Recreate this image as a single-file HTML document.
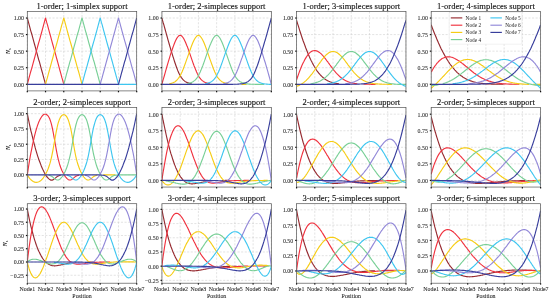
<!DOCTYPE html>
<html><head><meta charset="utf-8"><style>html,body{margin:0;padding:0;background:#fff;overflow:hidden}svg{display:block}</style></head>
<body><svg width="550" height="302" viewBox="0 0 550 302">
<style>text{font-family:"Liberation Serif","Times New Roman",serif;stroke:currentColor;paint-order:stroke} .ti{stroke-width:0.12px;fill:#111;color:#111} .tk{stroke-width:0.06px;fill:#222;color:#222;font-size:5.9px} .lg{stroke-width:0.0px;fill:#222;color:#222;font-size:5.3px}</style>
<rect width="550" height="302" fill="#fff"/>
<clipPath id="c00"><rect x="27.30" y="11.40" width="109.40" height="79.50"/></clipPath>
<line x1="27.30" y1="11.40" x2="27.30" y2="90.90" stroke="#cccccc" stroke-width="0.55" stroke-dasharray="2.1,1.5"/>
<line x1="45.53" y1="11.40" x2="45.53" y2="90.90" stroke="#cccccc" stroke-width="0.55" stroke-dasharray="2.1,1.5"/>
<line x1="63.77" y1="11.40" x2="63.77" y2="90.90" stroke="#cccccc" stroke-width="0.55" stroke-dasharray="2.1,1.5"/>
<line x1="82.00" y1="11.40" x2="82.00" y2="90.90" stroke="#cccccc" stroke-width="0.55" stroke-dasharray="2.1,1.5"/>
<line x1="100.23" y1="11.40" x2="100.23" y2="90.90" stroke="#cccccc" stroke-width="0.55" stroke-dasharray="2.1,1.5"/>
<line x1="118.47" y1="11.40" x2="118.47" y2="90.90" stroke="#cccccc" stroke-width="0.55" stroke-dasharray="2.1,1.5"/>
<line x1="136.70" y1="11.40" x2="136.70" y2="90.90" stroke="#cccccc" stroke-width="0.55" stroke-dasharray="2.1,1.5"/>
<line x1="27.30" y1="84.28" x2="136.70" y2="84.28" stroke="#cccccc" stroke-width="0.55" stroke-dasharray="2.1,1.5"/>
<line x1="27.30" y1="67.71" x2="136.70" y2="67.71" stroke="#cccccc" stroke-width="0.55" stroke-dasharray="2.1,1.5"/>
<line x1="27.30" y1="51.15" x2="136.70" y2="51.15" stroke="#cccccc" stroke-width="0.55" stroke-dasharray="2.1,1.5"/>
<line x1="27.30" y1="34.59" x2="136.70" y2="34.59" stroke="#cccccc" stroke-width="0.55" stroke-dasharray="2.1,1.5"/>
<line x1="27.30" y1="18.03" x2="136.70" y2="18.03" stroke="#cccccc" stroke-width="0.55" stroke-dasharray="2.1,1.5"/>
<g clip-path="url(#c00)" fill="none" stroke-width="1.15" stroke-linejoin="round">
<polyline points="27.3,18.0 27.9,20.2 28.5,22.4 29.1,24.6 29.7,26.9 30.3,29.1 30.9,31.3 31.6,33.5 32.2,35.7 32.8,37.9 33.4,40.1 34.0,42.3 34.6,44.5 35.2,46.7 35.8,48.9 36.4,51.1 37.0,53.4 37.6,55.6 38.2,57.8 38.8,60.0 39.5,62.2 40.1,64.4 40.7,66.6 41.3,68.8 41.9,71.0 42.5,73.2 43.1,75.4 43.7,77.7 44.3,79.9 44.9,82.1 45.5,84.3" stroke="#962a30"/>
<polyline points="27.3,84.3 27.9,82.1 28.5,79.9 29.1,77.7 29.7,75.4 30.3,73.2 30.9,71.0 31.6,68.8 32.2,66.6 32.8,64.4 33.4,62.2 34.0,60.0 34.6,57.8 35.2,55.6 35.8,53.4 36.4,51.1 37.0,48.9 37.6,46.7 38.2,44.5 38.8,42.3 39.5,40.1 40.1,37.9 40.7,35.7 41.3,33.5 41.9,31.3 42.5,29.1 43.1,26.9 43.7,24.6 44.3,22.4 44.9,20.2 45.5,18.0 46.1,20.2 46.7,22.4 47.4,24.6 48.0,26.9 48.6,29.1 49.2,31.3 49.8,33.5 50.4,35.7 51.0,37.9 51.6,40.1 52.2,42.3 52.8,44.5 53.4,46.7 54.0,48.9 54.7,51.1 55.3,53.4 55.9,55.6 56.5,57.8 57.1,60.0 57.7,62.2 58.3,64.4 58.9,66.6 59.5,68.8 60.1,71.0 60.7,73.2 61.3,75.4 61.9,77.7 62.6,79.9 63.2,82.1 63.8,84.3" stroke="#f0323f"/>
<polyline points="45.5,84.3 46.1,82.1 46.7,79.9 47.4,77.7 48.0,75.4 48.6,73.2 49.2,71.0 49.8,68.8 50.4,66.6 51.0,64.4 51.6,62.2 52.2,60.0 52.8,57.8 53.4,55.6 54.0,53.4 54.7,51.1 55.3,48.9 55.9,46.7 56.5,44.5 57.1,42.3 57.7,40.1 58.3,37.9 58.9,35.7 59.5,33.5 60.1,31.3 60.7,29.1 61.3,26.9 61.9,24.6 62.6,22.4 63.2,20.2 63.8,18.0 64.4,20.2 65.0,22.4 65.6,24.6 66.2,26.9 66.8,29.1 67.4,31.3 68.0,33.5 68.6,35.7 69.2,37.9 69.8,40.1 70.5,42.3 71.1,44.5 71.7,46.7 72.3,48.9 72.9,51.1 73.5,53.4 74.1,55.6 74.7,57.8 75.3,60.0 75.9,62.2 76.5,64.4 77.1,66.6 77.7,68.8 78.4,71.0 79.0,73.2 79.6,75.4 80.2,77.7 80.8,79.9 81.4,82.1 82.0,84.3" stroke="#f6cc14"/>
<polyline points="63.8,84.3 64.4,82.1 65.0,79.9 65.6,77.7 66.2,75.4 66.8,73.2 67.4,71.0 68.0,68.8 68.6,66.6 69.2,64.4 69.8,62.2 70.5,60.0 71.1,57.8 71.7,55.6 72.3,53.4 72.9,51.1 73.5,48.9 74.1,46.7 74.7,44.5 75.3,42.3 75.9,40.1 76.5,37.9 77.1,35.7 77.7,33.5 78.4,31.3 79.0,29.1 79.6,26.9 80.2,24.6 80.8,22.4 81.4,20.2 82.0,18.0 82.6,20.2 83.2,22.4 83.8,24.6 84.4,26.9 85.0,29.1 85.6,31.3 86.3,33.5 86.9,35.7 87.5,37.9 88.1,40.1 88.7,42.3 89.3,44.5 89.9,46.7 90.5,48.9 91.1,51.1 91.7,53.4 92.3,55.6 92.9,57.8 93.5,60.0 94.2,62.2 94.8,64.4 95.4,66.6 96.0,68.8 96.6,71.0 97.2,73.2 97.8,75.4 98.4,77.7 99.0,79.9 99.6,82.1 100.2,84.3" stroke="#78cf96"/>
<polyline points="82.0,84.3 82.6,82.1 83.2,79.9 83.8,77.7 84.4,75.4 85.0,73.2 85.6,71.0 86.3,68.8 86.9,66.6 87.5,64.4 88.1,62.2 88.7,60.0 89.3,57.8 89.9,55.6 90.5,53.4 91.1,51.1 91.7,48.9 92.3,46.7 92.9,44.5 93.5,42.3 94.2,40.1 94.8,37.9 95.4,35.7 96.0,33.5 96.6,31.3 97.2,29.1 97.8,26.9 98.4,24.6 99.0,22.4 99.6,20.2 100.2,18.0 100.8,20.2 101.4,22.4 102.1,24.6 102.7,26.9 103.3,29.1 103.9,31.3 104.5,33.5 105.1,35.7 105.7,37.9 106.3,40.1 106.9,42.3 107.5,44.5 108.1,46.7 108.7,48.9 109.4,51.1 110.0,53.4 110.6,55.6 111.2,57.8 111.8,60.0 112.4,62.2 113.0,64.4 113.6,66.6 114.2,68.8 114.8,71.0 115.4,73.2 116.0,75.4 116.6,77.7 117.3,79.9 117.9,82.1 118.5,84.3 119.1,84.3 119.7,84.3 120.3,84.3 120.9,84.3 121.5,84.3 122.1,84.3 122.7,84.3 123.3,84.3 123.9,84.3 124.5,84.3 125.2,84.3 125.8,84.3 126.4,84.3 127.0,84.3 127.6,84.3 128.2,84.3 128.8,84.3 129.4,84.3 130.0,84.3 130.6,84.3 131.2,84.3 131.8,84.3 132.4,84.3 133.1,84.3 133.7,84.3 134.3,84.3 134.9,84.3 135.5,84.3 136.1,84.3 136.7,84.3" stroke="#3ec6f0"/>
<polyline points="100.2,84.3 100.8,82.1 101.4,79.9 102.1,77.7 102.7,75.4 103.3,73.2 103.9,71.0 104.5,68.8 105.1,66.6 105.7,64.4 106.3,62.2 106.9,60.0 107.5,57.8 108.1,55.6 108.7,53.4 109.4,51.1 110.0,48.9 110.6,46.7 111.2,44.5 111.8,42.3 112.4,40.1 113.0,37.9 113.6,35.7 114.2,33.5 114.8,31.3 115.4,29.1 116.0,26.9 116.6,24.6 117.3,22.4 117.9,20.2 118.5,18.0 119.1,20.2 119.7,22.4 120.3,24.6 120.9,26.9 121.5,29.1 122.1,31.3 122.7,33.5 123.3,35.7 123.9,37.9 124.5,40.1 125.2,42.3 125.8,44.5 126.4,46.7 127.0,48.9 127.6,51.1 128.2,53.4 128.8,55.6 129.4,57.8 130.0,60.0 130.6,62.2 131.2,64.4 131.8,66.6 132.4,68.8 133.1,71.0 133.7,73.2 134.3,75.4 134.9,77.7 135.5,79.9 136.1,82.1 136.7,84.3" stroke="#9288d8"/>
<polyline points="27.3,84.3 27.9,84.3 28.5,84.3 29.1,84.3 29.7,84.3 30.3,84.3 30.9,84.3 31.6,84.3 32.2,84.3 32.8,84.3 33.4,84.3 34.0,84.3 34.6,84.3 35.2,84.3 35.8,84.3 36.4,84.3 37.0,84.3 37.6,84.3 38.2,84.3 38.8,84.3 39.5,84.3 40.1,84.3 40.7,84.3 41.3,84.3 41.9,84.3 42.5,84.3 43.1,84.3 43.7,84.3 44.3,84.3 44.9,84.3 45.5,84.3 46.1,84.3 46.7,84.3 47.4,84.3 48.0,84.3 48.6,84.3 49.2,84.3 49.8,84.3 50.4,84.3 51.0,84.3 51.6,84.3 52.2,84.3 52.8,84.3 53.4,84.3 54.0,84.3 54.7,84.3 55.3,84.3 55.9,84.3 56.5,84.3 57.1,84.3 57.7,84.3 58.3,84.3 58.9,84.3 59.5,84.3 60.1,84.3 60.7,84.3 61.3,84.3 61.9,84.3 62.6,84.3 63.2,84.3 63.8,84.3 64.4,84.3 65.0,84.3 65.6,84.3 66.2,84.3 66.8,84.3 67.4,84.3 68.0,84.3 68.6,84.3 69.2,84.3 69.8,84.3 70.5,84.3 71.1,84.3 71.7,84.3 72.3,84.3 72.9,84.3 73.5,84.3 74.1,84.3 74.7,84.3 75.3,84.3 75.9,84.3 76.5,84.3 77.1,84.3 77.7,84.3 78.4,84.3 79.0,84.3 79.6,84.3 80.2,84.3 80.8,84.3 81.4,84.3 82.0,84.3 82.6,84.3 83.2,84.3 83.8,84.3 84.4,84.3 85.0,84.3 85.6,84.3 86.3,84.3 86.9,84.3 87.5,84.3 88.1,84.3 88.7,84.3 89.3,84.3 89.9,84.3 90.5,84.3 91.1,84.3 91.7,84.3 92.3,84.3 92.9,84.3 93.5,84.3 94.2,84.3 94.8,84.3 95.4,84.3 96.0,84.3 96.6,84.3 97.2,84.3 97.8,84.3 98.4,84.3 99.0,84.3 99.6,84.3 100.2,84.3 100.8,84.3 101.4,84.3 102.1,84.3 102.7,84.3 103.3,84.3 103.9,84.3 104.5,84.3 105.1,84.3 105.7,84.3 106.3,84.3 106.9,84.3 107.5,84.3 108.1,84.3 108.7,84.3 109.4,84.3 110.0,84.3 110.6,84.3 111.2,84.3 111.8,84.3 112.4,84.3 113.0,84.3 113.6,84.3 114.2,84.3 114.8,84.3 115.4,84.3 116.0,84.3 116.6,84.3 117.3,84.3 117.9,84.3 118.5,84.3 119.1,82.1 119.7,79.9 120.3,77.7 120.9,75.4 121.5,73.2 122.1,71.0 122.7,68.8 123.3,66.6 123.9,64.4 124.5,62.2 125.2,60.0 125.8,57.8 126.4,55.6 127.0,53.4 127.6,51.1 128.2,48.9 128.8,46.7 129.4,44.5 130.0,42.3 130.6,40.1 131.2,37.9 131.8,35.7 132.4,33.5 133.1,31.3 133.7,29.1 134.3,26.9 134.9,24.6 135.5,22.4 136.1,20.2 136.7,18.0" stroke="#383e9c"/>
</g>
<rect x="27.30" y="11.40" width="109.40" height="79.50" fill="none" stroke="#555" stroke-width="0.7"/>
<rect x="26.70" y="90.90" width="1.2" height="1.4" fill="#111"/>
<rect x="44.93" y="90.90" width="1.2" height="1.4" fill="#111"/>
<rect x="63.17" y="90.90" width="1.2" height="1.4" fill="#111"/>
<rect x="81.40" y="90.90" width="1.2" height="1.4" fill="#111"/>
<rect x="99.63" y="90.90" width="1.2" height="1.4" fill="#111"/>
<rect x="117.87" y="90.90" width="1.2" height="1.4" fill="#111"/>
<rect x="136.10" y="90.90" width="1.2" height="1.4" fill="#111"/>
<rect x="25.90" y="83.68" width="1.4" height="1.2" fill="#111"/>
<rect x="25.90" y="67.11" width="1.4" height="1.2" fill="#111"/>
<rect x="25.90" y="50.55" width="1.4" height="1.2" fill="#111"/>
<rect x="25.90" y="33.99" width="1.4" height="1.2" fill="#111"/>
<rect x="25.90" y="17.43" width="1.4" height="1.2" fill="#111"/>
<text class="tk" transform="translate(24.00,86.67) scale(1,1.1)" text-anchor="end">0.00</text>
<text class="tk" transform="translate(24.00,70.11) scale(1,1.1)" text-anchor="end">0.25</text>
<text class="tk" transform="translate(24.00,53.55) scale(1,1.1)" text-anchor="end">0.50</text>
<text class="tk" transform="translate(24.00,36.99) scale(1,1.1)" text-anchor="end">0.75</text>
<text class="tk" transform="translate(24.00,20.43) scale(1,1.1)" text-anchor="end">1.00</text>
<text class="ti" x="82.00" y="8.50" font-size="8.5" text-anchor="middle">1-order; 1-simplex support</text>
<text class="tk" transform="translate(10.20,51.15) rotate(-90)" style="font-size:5.9px" text-anchor="middle"><tspan font-style="italic">N</tspan><tspan font-size="4.13" dy="1.2">s</tspan></text>
<clipPath id="c01"><rect x="161.93" y="11.40" width="109.40" height="79.50"/></clipPath>
<line x1="161.93" y1="11.40" x2="161.93" y2="90.90" stroke="#cccccc" stroke-width="0.55" stroke-dasharray="2.1,1.5"/>
<line x1="180.16" y1="11.40" x2="180.16" y2="90.90" stroke="#cccccc" stroke-width="0.55" stroke-dasharray="2.1,1.5"/>
<line x1="198.40" y1="11.40" x2="198.40" y2="90.90" stroke="#cccccc" stroke-width="0.55" stroke-dasharray="2.1,1.5"/>
<line x1="216.63" y1="11.40" x2="216.63" y2="90.90" stroke="#cccccc" stroke-width="0.55" stroke-dasharray="2.1,1.5"/>
<line x1="234.86" y1="11.40" x2="234.86" y2="90.90" stroke="#cccccc" stroke-width="0.55" stroke-dasharray="2.1,1.5"/>
<line x1="253.10" y1="11.40" x2="253.10" y2="90.90" stroke="#cccccc" stroke-width="0.55" stroke-dasharray="2.1,1.5"/>
<line x1="271.33" y1="11.40" x2="271.33" y2="90.90" stroke="#cccccc" stroke-width="0.55" stroke-dasharray="2.1,1.5"/>
<line x1="161.93" y1="84.28" x2="271.33" y2="84.28" stroke="#cccccc" stroke-width="0.55" stroke-dasharray="2.1,1.5"/>
<line x1="161.93" y1="67.71" x2="271.33" y2="67.71" stroke="#cccccc" stroke-width="0.55" stroke-dasharray="2.1,1.5"/>
<line x1="161.93" y1="51.15" x2="271.33" y2="51.15" stroke="#cccccc" stroke-width="0.55" stroke-dasharray="2.1,1.5"/>
<line x1="161.93" y1="34.59" x2="271.33" y2="34.59" stroke="#cccccc" stroke-width="0.55" stroke-dasharray="2.1,1.5"/>
<line x1="161.93" y1="18.03" x2="271.33" y2="18.03" stroke="#cccccc" stroke-width="0.55" stroke-dasharray="2.1,1.5"/>
<g clip-path="url(#c01)" fill="none" stroke-width="1.15" stroke-linejoin="round">
<polyline points="161.9,18.1 162.5,20.3 163.1,22.5 163.8,24.7 164.4,26.8 165.0,29.0 165.6,31.2 166.2,33.4 166.8,35.5 167.4,37.7 168.0,39.8 168.6,41.9 169.2,44.0 169.8,46.1 170.4,48.2 171.0,50.3 171.7,52.3 172.3,54.3 172.9,56.3 173.5,58.2 174.1,60.1 174.7,62.0 175.3,63.8 175.9,65.5 176.5,67.2 177.1,68.8 177.7,70.4 178.3,71.8 178.9,73.2 179.6,74.4 180.2,75.6 180.8,76.6 181.4,77.6 182.0,78.4 182.6,79.2 183.2,79.8 183.8,80.4 184.4,80.9 185.0,81.4 185.6,81.8 186.2,82.1 186.8,82.4 187.5,82.7 188.1,82.9 188.7,83.1 189.3,83.3 189.9,83.4 190.5,83.6 191.1,83.7 191.7,83.8" stroke="#962a30"/>
<polyline points="161.9,84.1 162.5,82.0 163.1,79.8 163.8,77.6 164.4,75.5 165.0,73.3 165.6,71.2 166.2,69.1 166.8,67.0 167.4,64.9 168.0,62.8 168.6,60.8 169.2,58.8 169.8,56.8 170.4,54.9 171.0,52.9 171.7,51.1 172.3,49.3 172.9,47.5 173.5,45.9 174.1,44.3 174.7,42.7 175.3,41.3 175.9,40.0 176.5,38.9 177.1,37.8 177.7,37.0 178.3,36.3 178.9,35.8 179.6,35.5 180.2,35.4 180.8,35.5 181.4,35.8 182.0,36.3 182.6,37.0 183.2,37.8 183.8,38.8 184.4,40.0 185.0,41.2 185.6,42.6 186.2,44.0 186.8,45.5 187.5,47.1 188.1,48.8 188.7,50.4 189.3,52.2 189.9,53.9 190.5,55.6 191.1,57.4 191.7,59.1 192.3,60.9 192.9,62.6 193.5,64.3 194.1,65.9 194.8,67.5 195.4,69.1 196.0,70.6 196.6,72.0 197.2,73.3 197.8,74.5 198.4,75.6 199.0,76.7 199.6,77.6 200.2,78.4 200.8,79.2 201.4,79.8 202.0,80.4 202.7,80.9 203.3,81.4 203.9,81.8 204.5,82.1 205.1,82.4 205.7,82.7 206.3,82.9 206.9,83.1 207.5,83.3 208.1,83.4 208.7,83.6 209.3,83.7 209.9,83.8" stroke="#f0323f"/>
<polyline points="169.2,83.8 169.8,83.7 170.4,83.5 171.0,83.4 171.7,83.2 172.3,83.0 172.9,82.8 173.5,82.5 174.1,82.2 174.7,81.9 175.3,81.5 175.9,81.0 176.5,80.5 177.1,79.9 177.7,79.2 178.3,78.5 178.9,77.6 179.6,76.7 180.2,75.7 180.8,74.5 181.4,73.3 182.0,72.0 182.6,70.6 183.2,69.1 183.8,67.5 184.4,65.9 185.0,64.3 185.6,62.6 186.2,60.9 186.8,59.1 187.5,57.4 188.1,55.6 188.7,53.9 189.3,52.2 189.9,50.5 190.5,48.8 191.1,47.1 191.7,45.5 192.3,44.0 192.9,42.6 193.5,41.2 194.1,40.0 194.8,38.8 195.4,37.8 196.0,37.0 196.6,36.3 197.2,35.8 197.8,35.5 198.4,35.4 199.0,35.5 199.6,35.8 200.2,36.3 200.8,37.0 201.4,37.8 202.0,38.8 202.7,40.0 203.3,41.2 203.9,42.6 204.5,44.0 205.1,45.5 205.7,47.1 206.3,48.8 206.9,50.4 207.5,52.2 208.1,53.9 208.7,55.6 209.3,57.4 209.9,59.1 210.6,60.9 211.2,62.6 211.8,64.3 212.4,65.9 213.0,67.5 213.6,69.1 214.2,70.6 214.8,72.0 215.4,73.3 216.0,74.5 216.6,75.6 217.2,76.7 217.8,77.6 218.5,78.4 219.1,79.2 219.7,79.8 220.3,80.4 220.9,80.9 221.5,81.4 222.1,81.8 222.7,82.1 223.3,82.4 223.9,82.7 224.5,82.9 225.1,83.1 225.7,83.3 226.4,83.4 227.0,83.6 227.6,83.7 228.2,83.8" stroke="#f6cc14"/>
<polyline points="241.5,84.3 242.2,84.3 242.8,84.3 243.4,84.3 244.0,84.3 244.6,84.3 245.2,84.3 245.8,84.3 246.4,84.3" stroke="#f6cc14"/>
<polyline points="186.8,83.8 187.5,83.7 188.1,83.6 188.7,83.4 189.3,83.3 189.9,83.1 190.5,82.9 191.1,82.7 191.7,82.4 192.3,82.1 192.9,81.8 193.5,81.4 194.1,80.9 194.8,80.4 195.4,79.8 196.0,79.2 196.6,78.4 197.2,77.6 197.8,76.7 198.4,75.6 199.0,74.5 199.6,73.3 200.2,72.0 200.8,70.6 201.4,69.1 202.0,67.5 202.7,65.9 203.3,64.3 203.9,62.6 204.5,60.9 205.1,59.1 205.7,57.4 206.3,55.6 206.9,53.9 207.5,52.2 208.1,50.4 208.7,48.8 209.3,47.1 209.9,45.5 210.6,44.0 211.2,42.6 211.8,41.2 212.4,40.0 213.0,38.8 213.6,37.8 214.2,37.0 214.8,36.3 215.4,35.8 216.0,35.5 216.6,35.4 217.2,35.5 217.8,35.8 218.5,36.3 219.1,37.0 219.7,37.8 220.3,38.8 220.9,40.0 221.5,41.2 222.1,42.6 222.7,44.0 223.3,45.5 223.9,47.1 224.5,48.8 225.1,50.4 225.7,52.2 226.4,53.9 227.0,55.6 227.6,57.4 228.2,59.1 228.8,60.9 229.4,62.6 230.0,64.3 230.6,65.9 231.2,67.5 231.8,69.1 232.4,70.6 233.0,72.0 233.6,73.3 234.3,74.5 234.9,75.6 235.5,76.7 236.1,77.6 236.7,78.4 237.3,79.2 237.9,79.8 238.5,80.4 239.1,80.9 239.7,81.4 240.3,81.8 240.9,82.1 241.5,82.4 242.2,82.7 242.8,82.9 243.4,83.1 244.0,83.3 244.6,83.4 245.2,83.6 245.8,83.7 246.4,83.8 247.0,83.8 247.6,83.9 248.2,84.0 248.8,84.0 249.4,84.1 250.1,84.1 250.7,84.2 251.3,84.2 251.9,84.2 252.5,84.2 253.1,84.2 253.7,84.2 254.3,84.2 254.9,84.3 255.5,84.3 256.1,84.3 256.7,84.3 257.4,84.3 258.0,84.3 258.6,84.3 259.2,84.3 259.8,84.3 260.4,84.3 261.0,84.3 261.6,84.3 262.2,84.3 262.8,84.3 263.4,84.3 264.0,84.3" stroke="#78cf96"/>
<polyline points="205.1,83.8 205.7,83.7 206.3,83.6 206.9,83.4 207.5,83.3 208.1,83.1 208.7,82.9 209.3,82.7 209.9,82.4 210.6,82.1 211.2,81.8 211.8,81.4 212.4,80.9 213.0,80.4 213.6,79.8 214.2,79.2 214.8,78.4 215.4,77.6 216.0,76.7 216.6,75.6 217.2,74.5 217.8,73.3 218.5,72.0 219.1,70.6 219.7,69.1 220.3,67.5 220.9,65.9 221.5,64.3 222.1,62.6 222.7,60.9 223.3,59.1 223.9,57.4 224.5,55.6 225.1,53.9 225.7,52.2 226.4,50.4 227.0,48.8 227.6,47.1 228.2,45.5 228.8,44.0 229.4,42.6 230.0,41.2 230.6,40.0 231.2,38.8 231.8,37.8 232.4,37.0 233.0,36.3 233.6,35.8 234.3,35.5 234.9,35.4 235.5,35.5 236.1,35.8 236.7,36.3 237.3,37.0 237.9,37.8 238.5,38.8 239.1,40.0 239.7,41.2 240.3,42.6 240.9,44.0 241.5,45.5 242.2,47.1 242.8,48.8 243.4,50.5 244.0,52.2 244.6,53.9 245.2,55.6 245.8,57.4 246.4,59.1 247.0,60.9 247.6,62.6 248.2,64.3 248.8,65.9 249.4,67.5 250.1,69.1 250.7,70.6 251.3,72.0 251.9,73.3 252.5,74.5 253.1,75.7 253.7,76.7 254.3,77.6 254.9,78.5 255.5,79.2 256.1,79.9 256.7,80.5 257.4,81.0 258.0,81.5 258.6,81.9 259.2,82.2 259.8,82.5 260.4,82.8 261.0,83.0 261.6,83.2 262.2,83.4 262.8,83.5 263.4,83.7 264.0,83.8 264.6,83.9 265.3,84.0 265.9,84.0 266.5,84.1 267.1,84.1 267.7,84.2 268.3,84.2 268.9,84.3 269.5,84.3 270.1,84.3 270.7,84.3 271.3,84.3" stroke="#3ec6f0"/>
<polyline points="223.3,83.8 223.9,83.7 224.5,83.6 225.1,83.4 225.7,83.3 226.4,83.1 227.0,82.9 227.6,82.7 228.2,82.4 228.8,82.1 229.4,81.8 230.0,81.4 230.6,80.9 231.2,80.4 231.8,79.8 232.4,79.2 233.0,78.4 233.6,77.6 234.3,76.7 234.9,75.6 235.5,74.5 236.1,73.3 236.7,72.0 237.3,70.6 237.9,69.1 238.5,67.5 239.1,65.9 239.7,64.3 240.3,62.6 240.9,60.9 241.5,59.1 242.2,57.4 242.8,55.6 243.4,53.9 244.0,52.2 244.6,50.4 245.2,48.8 245.8,47.1 246.4,45.5 247.0,44.0 247.6,42.6 248.2,41.2 248.8,40.0 249.4,38.8 250.1,37.8 250.7,37.0 251.3,36.3 251.9,35.8 252.5,35.5 253.1,35.4 253.7,35.5 254.3,35.8 254.9,36.3 255.5,37.0 256.1,37.8 256.7,38.9 257.4,40.0 258.0,41.3 258.6,42.7 259.2,44.3 259.8,45.9 260.4,47.5 261.0,49.3 261.6,51.1 262.2,52.9 262.8,54.9 263.4,56.8 264.0,58.8 264.6,60.8 265.3,62.8 265.9,64.9 266.5,67.0 267.1,69.1 267.7,71.2 268.3,73.3 268.9,75.5 269.5,77.6 270.1,79.8 270.7,82.0 271.3,84.1" stroke="#9288d8"/>
<polyline points="161.9,84.3 162.5,84.3 163.1,84.3 163.8,84.3 164.4,84.3 165.0,84.3 165.6,84.3 166.2,84.3 166.8,84.3 167.4,84.3 168.0,84.3 168.6,84.3 169.2,84.3 169.8,84.3 170.4,84.3 171.0,84.3 171.7,84.3 172.3,84.3 172.9,84.3 173.5,84.3 174.1,84.3 174.7,84.3 175.3,84.3 175.9,84.3 176.5,84.3 177.1,84.3 177.7,84.3 178.3,84.3 178.9,84.3 179.6,84.3 180.2,84.3 180.8,84.3 181.4,84.3 182.0,84.3 182.6,84.3 183.2,84.3 183.8,84.3 184.4,84.3 185.0,84.3 185.6,84.3 186.2,84.3 186.8,84.3 187.5,84.3 188.1,84.3 188.7,84.3 189.3,84.3 189.9,84.3 190.5,84.3 191.1,84.3 191.7,84.3 192.3,84.3 192.9,84.3 193.5,84.3 194.1,84.3 194.8,84.3 195.4,84.3 196.0,84.3 196.6,84.3 197.2,84.3 197.8,84.3 198.4,84.3 199.0,84.3 199.6,84.3 200.2,84.3 200.8,84.3 201.4,84.3 202.0,84.3 202.7,84.3 203.3,84.3 203.9,84.3 204.5,84.3 205.1,84.3 205.7,84.3 206.3,84.3 206.9,84.3 207.5,84.3 208.1,84.3 208.7,84.3 209.3,84.3 209.9,84.3 210.6,84.3 211.2,84.3 211.8,84.3 212.4,84.3 213.0,84.3 213.6,84.3 214.2,84.3 214.8,84.3 215.4,84.3 216.0,84.3 216.6,84.3 217.2,84.3 217.8,84.3 218.5,84.3 219.1,84.3 219.7,84.3 220.3,84.3 220.9,84.3 221.5,84.3 222.1,84.3 222.7,84.3 223.3,84.3 223.9,84.3 224.5,84.3 225.1,84.3 225.7,84.3 226.4,84.3 227.0,84.3 227.6,84.3 228.2,84.3 228.8,84.3 229.4,84.3 230.0,84.3 230.6,84.3 231.2,84.3 231.8,84.3 232.4,84.3 233.0,84.3 233.6,84.2 234.3,84.2 234.9,84.2 235.5,84.2 236.1,84.2 236.7,84.2 237.3,84.2 237.9,84.1 238.5,84.1 239.1,84.0 239.7,84.0 240.3,83.9 240.9,83.8 241.5,83.8 242.2,83.7 242.8,83.6 243.4,83.4 244.0,83.3 244.6,83.1 245.2,82.9 245.8,82.7 246.4,82.4 247.0,82.1 247.6,81.8 248.2,81.4 248.8,80.9 249.4,80.4 250.1,79.8 250.7,79.2 251.3,78.4 251.9,77.6 252.5,76.6 253.1,75.6 253.7,74.4 254.3,73.2 254.9,71.8 255.5,70.4 256.1,68.8 256.7,67.2 257.4,65.5 258.0,63.8 258.6,62.0 259.2,60.1 259.8,58.2 260.4,56.3 261.0,54.3 261.6,52.3 262.2,50.3 262.8,48.2 263.4,46.1 264.0,44.0 264.6,41.9 265.3,39.8 265.9,37.7 266.5,35.5 267.1,33.4 267.7,31.2 268.3,29.0 268.9,26.8 269.5,24.7 270.1,22.5 270.7,20.3 271.3,18.1" stroke="#383e9c"/>
</g>
<rect x="161.93" y="11.40" width="109.40" height="79.50" fill="none" stroke="#555" stroke-width="0.7"/>
<rect x="161.33" y="90.90" width="1.2" height="1.4" fill="#111"/>
<rect x="179.56" y="90.90" width="1.2" height="1.4" fill="#111"/>
<rect x="197.80" y="90.90" width="1.2" height="1.4" fill="#111"/>
<rect x="216.03" y="90.90" width="1.2" height="1.4" fill="#111"/>
<rect x="234.26" y="90.90" width="1.2" height="1.4" fill="#111"/>
<rect x="252.50" y="90.90" width="1.2" height="1.4" fill="#111"/>
<rect x="270.73" y="90.90" width="1.2" height="1.4" fill="#111"/>
<rect x="160.53" y="83.68" width="1.4" height="1.2" fill="#111"/>
<rect x="160.53" y="67.11" width="1.4" height="1.2" fill="#111"/>
<rect x="160.53" y="50.55" width="1.4" height="1.2" fill="#111"/>
<rect x="160.53" y="33.99" width="1.4" height="1.2" fill="#111"/>
<rect x="160.53" y="17.43" width="1.4" height="1.2" fill="#111"/>
<text class="tk" transform="translate(158.63,86.67) scale(1,1.1)" text-anchor="end">0.00</text>
<text class="tk" transform="translate(158.63,70.11) scale(1,1.1)" text-anchor="end">0.25</text>
<text class="tk" transform="translate(158.63,53.55) scale(1,1.1)" text-anchor="end">0.50</text>
<text class="tk" transform="translate(158.63,36.99) scale(1,1.1)" text-anchor="end">0.75</text>
<text class="tk" transform="translate(158.63,20.43) scale(1,1.1)" text-anchor="end">1.00</text>
<text class="ti" x="216.63" y="8.50" font-size="8.5" text-anchor="middle">1-order; 2-simpleces support</text>
<clipPath id="c02"><rect x="296.56" y="11.40" width="109.40" height="79.50"/></clipPath>
<line x1="296.56" y1="11.40" x2="296.56" y2="90.90" stroke="#cccccc" stroke-width="0.55" stroke-dasharray="2.1,1.5"/>
<line x1="314.79" y1="11.40" x2="314.79" y2="90.90" stroke="#cccccc" stroke-width="0.55" stroke-dasharray="2.1,1.5"/>
<line x1="333.03" y1="11.40" x2="333.03" y2="90.90" stroke="#cccccc" stroke-width="0.55" stroke-dasharray="2.1,1.5"/>
<line x1="351.26" y1="11.40" x2="351.26" y2="90.90" stroke="#cccccc" stroke-width="0.55" stroke-dasharray="2.1,1.5"/>
<line x1="369.49" y1="11.40" x2="369.49" y2="90.90" stroke="#cccccc" stroke-width="0.55" stroke-dasharray="2.1,1.5"/>
<line x1="387.73" y1="11.40" x2="387.73" y2="90.90" stroke="#cccccc" stroke-width="0.55" stroke-dasharray="2.1,1.5"/>
<line x1="405.96" y1="11.40" x2="405.96" y2="90.90" stroke="#cccccc" stroke-width="0.55" stroke-dasharray="2.1,1.5"/>
<line x1="296.56" y1="84.28" x2="405.96" y2="84.28" stroke="#cccccc" stroke-width="0.55" stroke-dasharray="2.1,1.5"/>
<line x1="296.56" y1="67.71" x2="405.96" y2="67.71" stroke="#cccccc" stroke-width="0.55" stroke-dasharray="2.1,1.5"/>
<line x1="296.56" y1="51.15" x2="405.96" y2="51.15" stroke="#cccccc" stroke-width="0.55" stroke-dasharray="2.1,1.5"/>
<line x1="296.56" y1="34.59" x2="405.96" y2="34.59" stroke="#cccccc" stroke-width="0.55" stroke-dasharray="2.1,1.5"/>
<line x1="296.56" y1="18.03" x2="405.96" y2="18.03" stroke="#cccccc" stroke-width="0.55" stroke-dasharray="2.1,1.5"/>
<g clip-path="url(#c02)" fill="none" stroke-width="1.15" stroke-linejoin="round">
<polyline points="296.6,20.3 297.2,22.3 297.8,24.3 298.4,26.2 299.0,28.2 299.6,30.1 300.2,32.0 300.8,33.8 301.4,35.7 302.0,37.5 302.6,39.3 303.2,41.0 303.9,42.7 304.5,44.4 305.1,46.0 305.7,47.7 306.3,49.2 306.9,50.8 307.5,52.3 308.1,53.8 308.7,55.2 309.3,56.6 309.9,57.9 310.5,59.3 311.1,60.5 311.8,61.8 312.4,63.0 313.0,64.1 313.6,65.2 314.2,66.3 314.8,67.3 315.4,68.3 316.0,69.3 316.6,70.2 317.2,71.1 317.8,71.9 318.4,72.7 319.0,73.5 319.7,74.2 320.3,74.9 320.9,75.5 321.5,76.1 322.1,76.7 322.7,77.3 323.3,77.8 323.9,78.3 324.5,78.8 325.1,79.2 325.7,79.6 326.3,80.0 326.9,80.3 327.6,80.7 328.2,81.0 328.8,81.3 329.4,81.5 330.0,81.8 330.6,82.0 331.2,82.2 331.8,82.4 332.4,82.6 333.0,82.8 333.6,82.9 334.2,83.0 334.9,83.2 335.5,83.3 336.1,83.4 336.7,83.5 337.3,83.6 337.9,83.6 338.5,83.7 339.1,83.8" stroke="#962a30"/>
<polyline points="296.6,79.8 297.2,78.0 297.8,76.3 298.4,74.6 299.0,72.9 299.6,71.3 300.2,69.7 300.8,68.2 301.4,66.7 302.0,65.3 302.6,64.0 303.2,62.7 303.9,61.4 304.5,60.2 305.1,59.1 305.7,58.1 306.3,57.1 306.9,56.2 307.5,55.3 308.1,54.5 308.7,53.8 309.3,53.2 309.9,52.6 310.5,52.1 311.1,51.7 311.8,51.3 312.4,51.0 313.0,50.8 313.6,50.7 314.2,50.6 314.8,50.6 315.4,50.6 316.0,50.7 316.6,50.9 317.2,51.1 317.8,51.4 318.4,51.8 319.0,52.2 319.7,52.6 320.3,53.1 320.9,53.6 321.5,54.2 322.1,54.8 322.7,55.5 323.3,56.2 323.9,56.9 324.5,57.6 325.1,58.4 325.7,59.2 326.3,60.0 326.9,60.8 327.6,61.6 328.2,62.5 328.8,63.3 329.4,64.1 330.0,65.0 330.6,65.8 331.2,66.6 331.8,67.4 332.4,68.3 333.0,69.0 333.6,69.8 334.2,70.6 334.9,71.3 335.5,72.1 336.1,72.8 336.7,73.4 337.3,74.1 337.9,74.7 338.5,75.3 339.1,75.9 339.7,76.5 340.3,77.0 340.9,77.5 341.5,78.0 342.1,78.5 342.8,78.9 343.4,79.3 344.0,79.7 344.6,80.1 345.2,80.4 345.8,80.7 346.4,81.0 347.0,81.3 347.6,81.6 348.2,81.8 348.8,82.0 349.4,82.2 350.0,82.4 350.7,82.6 351.3,82.8 351.9,82.9 352.5,83.0 353.1,83.2 353.7,83.3 354.3,83.4 354.9,83.5 355.5,83.6 356.1,83.6 356.7,83.7 357.3,83.8" stroke="#f0323f"/>
<polyline points="363.4,84.1 364.0,84.2 364.6,84.2 365.2,84.2 365.8,84.2 366.5,84.2 367.1,84.2 367.7,84.2 368.3,84.2 368.9,84.2 369.5,84.2 370.1,84.2 370.7,84.3 371.3,84.3 371.9,84.3 372.5,84.3 373.1,84.3 373.7,84.3 374.4,84.3 375.0,84.3 375.6,84.3" stroke="#f0323f"/>
<polyline points="296.6,86.3 297.2,86.1 297.8,85.9 298.4,85.7 299.0,85.4 299.6,85.1 300.2,84.8" stroke="#f6cc14"/>
<polyline points="301.4,84.1 302.0,83.7 302.6,83.3 303.2,82.9 303.9,82.4 304.5,81.9 305.1,81.4 305.7,80.9 306.3,80.3 306.9,79.7 307.5,79.1 308.1,78.5 308.7,77.8 309.3,77.1 309.9,76.4 310.5,75.7 311.1,74.9 311.8,74.1 312.4,73.3 313.0,72.5 313.6,71.7 314.2,70.8 314.8,70.0 315.4,69.1 316.0,68.2 316.6,67.4 317.2,66.5 317.8,65.6 318.4,64.7 319.0,63.8 319.7,63.0 320.3,62.1 320.9,61.3 321.5,60.4 322.1,59.6 322.7,58.8 323.3,58.1 323.9,57.3 324.5,56.6 325.1,56.0 325.7,55.3 326.3,54.7 326.9,54.2 327.6,53.7 328.2,53.2 328.8,52.8 329.4,52.5 330.0,52.2 330.6,51.9 331.2,51.7 331.8,51.6 332.4,51.5 333.0,51.5 333.6,51.5 334.2,51.6 334.9,51.7 335.5,51.9 336.1,52.2 336.7,52.5 337.3,52.8 337.9,53.2 338.5,53.7 339.1,54.2 339.7,54.7 340.3,55.3 340.9,55.9 341.5,56.5 342.1,57.2 342.8,57.9 343.4,58.7 344.0,59.4 344.6,60.2 345.2,61.0 345.8,61.8 346.4,62.6 347.0,63.4 347.6,64.2 348.2,65.1 348.8,65.9 349.4,66.7 350.0,67.5 350.7,68.3 351.3,69.1 351.9,69.9 352.5,70.6 353.1,71.4 353.7,72.1 354.3,72.8 354.9,73.4 355.5,74.1 356.1,74.7 356.7,75.3 357.3,75.9 357.9,76.5 358.6,77.0 359.2,77.5 359.8,78.0 360.4,78.5 361.0,78.9 361.6,79.3 362.2,79.7 362.8,80.1 363.4,80.4 364.0,80.7 364.6,81.0 365.2,81.3 365.8,81.6 366.5,81.8 367.1,82.0 367.7,82.2 368.3,82.4 368.9,82.6 369.5,82.8 370.1,82.9 370.7,83.1 371.3,83.2 371.9,83.3 372.5,83.4 373.1,83.5 373.7,83.6 374.4,83.7 375.0,83.7 375.6,83.8 376.2,83.8 376.8,83.9 377.4,83.9 378.0,84.0 378.6,84.0 379.2,84.0 379.8,84.1 380.4,84.1 381.0,84.1 381.6,84.1 382.3,84.2 382.9,84.2 383.5,84.2 384.1,84.2 384.7,84.2 385.3,84.2 385.9,84.2 386.5,84.2 387.1,84.2 387.7,84.3 388.3,84.3 388.9,84.3 389.6,84.3 390.2,84.3 390.8,84.3 391.4,84.3 392.0,84.3" stroke="#f6cc14"/>
<polyline points="310.5,83.8 311.1,83.7 311.8,83.6 312.4,83.5 313.0,83.4 313.6,83.3 314.2,83.1 314.8,83.0 315.4,82.8 316.0,82.6 316.6,82.4 317.2,82.2 317.8,82.0 318.4,81.8 319.0,81.5 319.7,81.2 320.3,80.9 320.9,80.6 321.5,80.2 322.1,79.8 322.7,79.4 323.3,79.0 323.9,78.6 324.5,78.1 325.1,77.6 325.7,77.1 326.3,76.6 326.9,76.0 327.6,75.4 328.2,74.8 328.8,74.2 329.4,73.5 330.0,72.8 330.6,72.1 331.2,71.4 331.8,70.6 332.4,69.9 333.0,69.1 333.6,68.3 334.2,67.5 334.9,66.7 335.5,65.9 336.1,65.1 336.7,64.2 337.3,63.4 337.9,62.6 338.5,61.8 339.1,61.0 339.7,60.2 340.3,59.4 340.9,58.7 341.5,57.9 342.1,57.2 342.8,56.5 343.4,55.9 344.0,55.3 344.6,54.7 345.2,54.2 345.8,53.7 346.4,53.2 347.0,52.8 347.6,52.5 348.2,52.2 348.8,51.9 349.4,51.7 350.0,51.6 350.7,51.5 351.3,51.5 351.9,51.5 352.5,51.6 353.1,51.7 353.7,51.9 354.3,52.2 354.9,52.5 355.5,52.8 356.1,53.2 356.7,53.7 357.3,54.2 357.9,54.7 358.6,55.3 359.2,55.9 359.8,56.5 360.4,57.2 361.0,57.9 361.6,58.7 362.2,59.4 362.8,60.2 363.4,61.0 364.0,61.8 364.6,62.6 365.2,63.4 365.8,64.2 366.5,65.1 367.1,65.9 367.7,66.7 368.3,67.5 368.9,68.3 369.5,69.1 370.1,69.9 370.7,70.6 371.3,71.4 371.9,72.1 372.5,72.8 373.1,73.5 373.7,74.2 374.4,74.8 375.0,75.4 375.6,76.0 376.2,76.6 376.8,77.1 377.4,77.6 378.0,78.1 378.6,78.6 379.2,79.0 379.8,79.4 380.4,79.8 381.0,80.2 381.6,80.6 382.3,80.9 382.9,81.2 383.5,81.5 384.1,81.8 384.7,82.0 385.3,82.2 385.9,82.4 386.5,82.6 387.1,82.8 387.7,83.0 388.3,83.1 388.9,83.3 389.6,83.4 390.2,83.5 390.8,83.6 391.4,83.7 392.0,83.8 392.6,83.9 393.2,83.9 393.8,84.0 394.4,84.1 395.0,84.1 395.6,84.2 396.2,84.2 396.8,84.2 397.5,84.3 398.1,84.3 398.7,84.3 399.3,84.3 399.9,84.3 400.5,84.3 401.1,84.3" stroke="#78cf96"/>
<polyline points="402.3,84.4 402.9,84.4 403.5,84.4 404.1,84.4 404.7,84.4 405.4,84.4 406.0,84.4" stroke="#78cf96"/>
<polyline points="326.9,83.8 327.6,83.7 328.2,83.7 328.8,83.6 329.4,83.5 330.0,83.4 330.6,83.3 331.2,83.2 331.8,83.1 332.4,82.9 333.0,82.8 333.6,82.6 334.2,82.4 334.9,82.2 335.5,82.0 336.1,81.8 336.7,81.6 337.3,81.3 337.9,81.0 338.5,80.7 339.1,80.4 339.7,80.1 340.3,79.7 340.9,79.3 341.5,78.9 342.1,78.5 342.8,78.0 343.4,77.5 344.0,77.0 344.6,76.5 345.2,75.9 345.8,75.3 346.4,74.7 347.0,74.1 347.6,73.4 348.2,72.8 348.8,72.1 349.4,71.4 350.0,70.6 350.7,69.9 351.3,69.1 351.9,68.3 352.5,67.5 353.1,66.7 353.7,65.9 354.3,65.1 354.9,64.2 355.5,63.4 356.1,62.6 356.7,61.8 357.3,61.0 357.9,60.2 358.6,59.4 359.2,58.7 359.8,57.9 360.4,57.2 361.0,56.5 361.6,55.9 362.2,55.3 362.8,54.7 363.4,54.2 364.0,53.7 364.6,53.2 365.2,52.8 365.8,52.5 366.5,52.2 367.1,51.9 367.7,51.7 368.3,51.6 368.9,51.5 369.5,51.5 370.1,51.5 370.7,51.6 371.3,51.7 371.9,51.9 372.5,52.2 373.1,52.5 373.7,52.8 374.4,53.2 375.0,53.7 375.6,54.2 376.2,54.7 376.8,55.3 377.4,56.0 378.0,56.6 378.6,57.3 379.2,58.1 379.8,58.8 380.4,59.6 381.0,60.4 381.6,61.3 382.3,62.1 382.9,63.0 383.5,63.8 384.1,64.7 384.7,65.6 385.3,66.5 385.9,67.4 386.5,68.2 387.1,69.1 387.7,70.0 388.3,70.8 388.9,71.7 389.6,72.5 390.2,73.3 390.8,74.1 391.4,74.9 392.0,75.7 392.6,76.4 393.2,77.1 393.8,77.8 394.4,78.5 395.0,79.1 395.6,79.7 396.2,80.3 396.8,80.9 397.5,81.4 398.1,81.9 398.7,82.4 399.3,82.9 399.9,83.3 400.5,83.7 401.1,84.1 401.7,84.5 402.3,84.8 402.9,85.1 403.5,85.4 404.1,85.7 404.7,85.9 405.4,86.1 406.0,86.3" stroke="#3ec6f0"/>
<polyline points="345.2,83.8 345.8,83.7 346.4,83.6 347.0,83.6 347.6,83.5 348.2,83.4 348.8,83.3 349.4,83.2 350.0,83.0 350.7,82.9 351.3,82.8 351.9,82.6 352.5,82.4 353.1,82.2 353.7,82.0 354.3,81.8 354.9,81.6 355.5,81.3 356.1,81.0 356.7,80.7 357.3,80.4 357.9,80.1 358.6,79.7 359.2,79.3 359.8,78.9 360.4,78.5 361.0,78.0 361.6,77.5 362.2,77.0 362.8,76.5 363.4,75.9 364.0,75.3 364.6,74.7 365.2,74.1 365.8,73.4 366.5,72.8 367.1,72.1 367.7,71.3 368.3,70.6 368.9,69.8 369.5,69.0 370.1,68.3 370.7,67.4 371.3,66.6 371.9,65.8 372.5,65.0 373.1,64.1 373.7,63.3 374.4,62.5 375.0,61.6 375.6,60.8 376.2,60.0 376.8,59.2 377.4,58.4 378.0,57.6 378.6,56.9 379.2,56.2 379.8,55.5 380.4,54.8 381.0,54.2 381.6,53.6 382.3,53.1 382.9,52.6 383.5,52.2 384.1,51.8 384.7,51.4 385.3,51.1 385.9,50.9 386.5,50.7 387.1,50.6 387.7,50.6 388.3,50.6 388.9,50.7 389.6,50.8 390.2,51.0 390.8,51.3 391.4,51.7 392.0,52.1 392.6,52.6 393.2,53.2 393.8,53.8 394.4,54.5 395.0,55.3 395.6,56.2 396.2,57.1 396.8,58.1 397.5,59.1 398.1,60.2 398.7,61.4 399.3,62.7 399.9,64.0 400.5,65.3 401.1,66.7 401.7,68.2 402.3,69.7 402.9,71.3 403.5,72.9 404.1,74.6 404.7,76.3 405.4,78.0 406.0,79.8" stroke="#9288d8"/>
<polyline points="296.6,84.3 297.2,84.3 297.8,84.3 298.4,84.3 299.0,84.3 299.6,84.3 300.2,84.3 300.8,84.3 301.4,84.3 302.0,84.3 302.6,84.3 303.2,84.3 303.9,84.3 304.5,84.3 305.1,84.3 305.7,84.3 306.3,84.3 306.9,84.3 307.5,84.3 308.1,84.3 308.7,84.3 309.3,84.3 309.9,84.3 310.5,84.3 311.1,84.3 311.8,84.3 312.4,84.3 313.0,84.3 313.6,84.3 314.2,84.3 314.8,84.3 315.4,84.3 316.0,84.3 316.6,84.3 317.2,84.3 317.8,84.3 318.4,84.3 319.0,84.3 319.7,84.3 320.3,84.3 320.9,84.3 321.5,84.3 322.1,84.3 322.7,84.3 323.3,84.3 323.9,84.3 324.5,84.3 325.1,84.3 325.7,84.3 326.3,84.3 326.9,84.3 327.6,84.3 328.2,84.3 328.8,84.3 329.4,84.3 330.0,84.3 330.6,84.3 331.2,84.3 331.8,84.3 332.4,84.3 333.0,84.3 333.6,84.3 334.2,84.3 334.9,84.3 335.5,84.3 336.1,84.3 336.7,84.3 337.3,84.3 337.9,84.3 338.5,84.3 339.1,84.3 339.7,84.3 340.3,84.3 340.9,84.3 341.5,84.3 342.1,84.3 342.8,84.3 343.4,84.3 344.0,84.3 344.6,84.3 345.2,84.3 345.8,84.3 346.4,84.3 347.0,84.3 347.6,84.3 348.2,84.3 348.8,84.3 349.4,84.3 350.0,84.3 350.7,84.2 351.3,84.2 351.9,84.2 352.5,84.2 353.1,84.2 353.7,84.2 354.3,84.2 354.9,84.2 355.5,84.2 356.1,84.2 356.7,84.2 357.3,84.1 357.9,84.1 358.6,84.1 359.2,84.1 359.8,84.0 360.4,84.0 361.0,84.0 361.6,83.9 362.2,83.9 362.8,83.8 363.4,83.8 364.0,83.7 364.6,83.6 365.2,83.6 365.8,83.5 366.5,83.4 367.1,83.3 367.7,83.2 368.3,83.0 368.9,82.9 369.5,82.8 370.1,82.6 370.7,82.4 371.3,82.2 371.9,82.0 372.5,81.8 373.1,81.5 373.7,81.3 374.4,81.0 375.0,80.7 375.6,80.3 376.2,80.0 376.8,79.6 377.4,79.2 378.0,78.8 378.6,78.3 379.2,77.8 379.8,77.3 380.4,76.7 381.0,76.1 381.6,75.5 382.3,74.9 382.9,74.2 383.5,73.5 384.1,72.7 384.7,71.9 385.3,71.1 385.9,70.2 386.5,69.3 387.1,68.3 387.7,67.3 388.3,66.3 388.9,65.2 389.6,64.1 390.2,63.0 390.8,61.8 391.4,60.5 392.0,59.3 392.6,57.9 393.2,56.6 393.8,55.2 394.4,53.8 395.0,52.3 395.6,50.8 396.2,49.2 396.8,47.7 397.5,46.0 398.1,44.4 398.7,42.7 399.3,41.0 399.9,39.3 400.5,37.5 401.1,35.7 401.7,33.8 402.3,32.0 402.9,30.1 403.5,28.2 404.1,26.2 404.7,24.3 405.4,22.3 406.0,20.3" stroke="#383e9c"/>
</g>
<rect x="296.56" y="11.40" width="109.40" height="79.50" fill="none" stroke="#555" stroke-width="0.7"/>
<rect x="295.96" y="90.90" width="1.2" height="1.4" fill="#111"/>
<rect x="314.19" y="90.90" width="1.2" height="1.4" fill="#111"/>
<rect x="332.43" y="90.90" width="1.2" height="1.4" fill="#111"/>
<rect x="350.66" y="90.90" width="1.2" height="1.4" fill="#111"/>
<rect x="368.89" y="90.90" width="1.2" height="1.4" fill="#111"/>
<rect x="387.13" y="90.90" width="1.2" height="1.4" fill="#111"/>
<rect x="405.36" y="90.90" width="1.2" height="1.4" fill="#111"/>
<rect x="295.16" y="83.68" width="1.4" height="1.2" fill="#111"/>
<rect x="295.16" y="67.11" width="1.4" height="1.2" fill="#111"/>
<rect x="295.16" y="50.55" width="1.4" height="1.2" fill="#111"/>
<rect x="295.16" y="33.99" width="1.4" height="1.2" fill="#111"/>
<rect x="295.16" y="17.43" width="1.4" height="1.2" fill="#111"/>
<text class="tk" transform="translate(293.26,86.67) scale(1,1.1)" text-anchor="end">0.00</text>
<text class="tk" transform="translate(293.26,70.11) scale(1,1.1)" text-anchor="end">0.25</text>
<text class="tk" transform="translate(293.26,53.55) scale(1,1.1)" text-anchor="end">0.50</text>
<text class="tk" transform="translate(293.26,36.99) scale(1,1.1)" text-anchor="end">0.75</text>
<text class="tk" transform="translate(293.26,20.43) scale(1,1.1)" text-anchor="end">1.00</text>
<text class="ti" x="351.26" y="8.50" font-size="8.5" text-anchor="middle">1-order; 3-simpleces support</text>
<clipPath id="c03"><rect x="431.20" y="11.40" width="109.40" height="79.50"/></clipPath>
<line x1="431.20" y1="11.40" x2="431.20" y2="90.90" stroke="#cccccc" stroke-width="0.55" stroke-dasharray="2.1,1.5"/>
<line x1="449.43" y1="11.40" x2="449.43" y2="90.90" stroke="#cccccc" stroke-width="0.55" stroke-dasharray="2.1,1.5"/>
<line x1="467.67" y1="11.40" x2="467.67" y2="90.90" stroke="#cccccc" stroke-width="0.55" stroke-dasharray="2.1,1.5"/>
<line x1="485.90" y1="11.40" x2="485.90" y2="90.90" stroke="#cccccc" stroke-width="0.55" stroke-dasharray="2.1,1.5"/>
<line x1="504.13" y1="11.40" x2="504.13" y2="90.90" stroke="#cccccc" stroke-width="0.55" stroke-dasharray="2.1,1.5"/>
<line x1="522.37" y1="11.40" x2="522.37" y2="90.90" stroke="#cccccc" stroke-width="0.55" stroke-dasharray="2.1,1.5"/>
<line x1="540.60" y1="11.40" x2="540.60" y2="90.90" stroke="#cccccc" stroke-width="0.55" stroke-dasharray="2.1,1.5"/>
<line x1="431.20" y1="84.28" x2="540.60" y2="84.28" stroke="#cccccc" stroke-width="0.55" stroke-dasharray="2.1,1.5"/>
<line x1="431.20" y1="67.71" x2="540.60" y2="67.71" stroke="#cccccc" stroke-width="0.55" stroke-dasharray="2.1,1.5"/>
<line x1="431.20" y1="51.15" x2="540.60" y2="51.15" stroke="#cccccc" stroke-width="0.55" stroke-dasharray="2.1,1.5"/>
<line x1="431.20" y1="34.59" x2="540.60" y2="34.59" stroke="#cccccc" stroke-width="0.55" stroke-dasharray="2.1,1.5"/>
<line x1="431.20" y1="18.03" x2="540.60" y2="18.03" stroke="#cccccc" stroke-width="0.55" stroke-dasharray="2.1,1.5"/>
<g clip-path="url(#c03)" fill="none" stroke-width="1.15" stroke-linejoin="round">
<polyline points="431.2,24.8 431.8,26.5 432.4,28.1 433.0,29.7 433.6,31.3 434.2,32.8 434.8,34.3 435.5,35.8 436.1,37.3 436.7,38.8 437.3,40.2 437.9,41.6 438.5,43.0 439.1,44.3 439.7,45.6 440.3,46.9 440.9,48.2 441.5,49.4 442.1,50.6 442.7,51.8 443.4,53.0 444.0,54.1 444.6,55.2 445.2,56.3 445.8,57.3 446.4,58.4 447.0,59.4 447.6,60.3 448.2,61.3 448.8,62.2 449.4,63.1 450.0,64.0 450.6,64.8 451.3,65.6 451.9,66.4 452.5,67.2 453.1,68.0 453.7,68.7 454.3,69.4 454.9,70.1 455.5,70.7 456.1,71.4 456.7,72.0 457.3,72.6 457.9,73.1 458.6,73.7 459.2,74.2 459.8,74.7 460.4,75.2 461.0,75.7 461.6,76.1 462.2,76.5 462.8,77.0 463.4,77.4 464.0,77.7 464.6,78.1 465.2,78.4 465.8,78.8 466.5,79.1 467.1,79.4 467.7,79.7 468.3,80.0 468.9,80.2 469.5,80.5 470.1,80.7 470.7,80.9 471.3,81.1 471.9,81.3 472.5,81.5 473.1,81.7 473.7,81.9 474.4,82.0 475.0,82.2 475.6,82.3 476.2,82.5 476.8,82.6 477.4,82.7 478.0,82.8 478.6,82.9 479.2,83.0 479.8,83.1 480.4,83.2 481.0,83.3 481.6,83.4 482.3,83.4 482.9,83.5 483.5,83.6 484.1,83.6 484.7,83.7 485.3,83.7 485.9,83.8 486.5,83.8 487.1,83.9 487.7,83.9 488.3,83.9 488.9,84.0 489.5,84.0 490.2,84.0 490.8,84.0 491.4,84.1 492.0,84.1 492.6,84.1 493.2,84.1 493.8,84.1 494.4,84.1 495.0,84.2 495.6,84.2 496.2,84.2 496.8,84.2 497.4,84.2 498.1,84.2 498.7,84.2 499.3,84.2 499.9,84.2 500.5,84.2 501.1,84.2 501.7,84.2 502.3,84.2 502.9,84.2 503.5,84.2" stroke="#962a30"/>
<polyline points="431.2,72.2 431.8,71.1 432.4,70.0 433.0,69.0 433.6,68.0 434.2,67.0 434.8,66.1 435.5,65.3 436.1,64.5 436.7,63.7 437.3,62.9 437.9,62.3 438.5,61.6 439.1,61.0 439.7,60.5 440.3,59.9 440.9,59.5 441.5,59.0 442.1,58.6 442.7,58.3 443.4,58.0 444.0,57.7 444.6,57.4 445.2,57.2 445.8,57.1 446.4,57.0 447.0,56.9 447.6,56.8 448.2,56.8 448.8,56.8 449.4,56.9 450.0,56.9 450.6,57.0 451.3,57.2 451.9,57.3 452.5,57.5 453.1,57.7 453.7,58.0 454.3,58.3 454.9,58.5 455.5,58.9 456.1,59.2 456.7,59.5 457.3,59.9 457.9,60.3 458.6,60.7 459.2,61.1 459.8,61.5 460.4,62.0 461.0,62.4 461.6,62.9 462.2,63.4 462.8,63.8 463.4,64.3 464.0,64.8 464.6,65.3 465.2,65.8 465.8,66.3 466.5,66.8 467.1,67.3 467.7,67.8 468.3,68.3 468.9,68.8 469.5,69.3 470.1,69.8 470.7,70.3 471.3,70.8 471.9,71.3 472.5,71.8 473.1,72.2 473.7,72.7 474.4,73.2 475.0,73.6 475.6,74.0 476.2,74.5 476.8,74.9 477.4,75.3 478.0,75.7 478.6,76.1 479.2,76.5 479.8,76.8 480.4,77.2 481.0,77.5 481.6,77.9 482.3,78.2 482.9,78.5 483.5,78.8 484.1,79.1 484.7,79.4 485.3,79.7 485.9,79.9 486.5,80.2 487.1,80.4 487.7,80.6 488.3,80.9 488.9,81.1 489.5,81.3 490.2,81.4 490.8,81.6 491.4,81.8 492.0,82.0 492.6,82.1 493.2,82.3 493.8,82.4 494.4,82.5 495.0,82.7 495.6,82.8 496.2,82.9 496.8,83.0 497.4,83.1 498.1,83.2 498.7,83.3 499.3,83.3 499.9,83.4 500.5,83.5 501.1,83.5 501.7,83.6 502.3,83.7 502.9,83.7 503.5,83.8 504.1,83.8 504.7,83.8 505.3,83.9 506.0,83.9 506.6,84.0 507.2,84.0 507.8,84.0 508.4,84.0 509.0,84.1 509.6,84.1 510.2,84.1 510.8,84.1 511.4,84.1 512.0,84.2 512.6,84.2 513.2,84.2 513.9,84.2 514.5,84.2 515.1,84.2 515.7,84.2 516.3,84.2 516.9,84.2 517.5,84.2 518.1,84.2 518.7,84.2 519.3,84.3" stroke="#f0323f"/>
<polyline points="431.2,88.2 431.8,87.7 432.4,87.2 433.0,86.6 433.6,86.1 434.2,85.6 434.8,85.0 435.5,84.4 436.1,83.8 436.7,83.2 437.3,82.6 437.9,82.0 438.5,81.4 439.1,80.8 439.7,80.2 440.3,79.5 440.9,78.9 441.5,78.2 442.1,77.6 442.7,76.9 443.4,76.3 444.0,75.6 444.6,75.0 445.2,74.3 445.8,73.7 446.4,73.0 447.0,72.4 447.6,71.7 448.2,71.1 448.8,70.5 449.4,69.9 450.0,69.3 450.6,68.7 451.3,68.1 451.9,67.5 452.5,67.0 453.1,66.4 453.7,65.9 454.3,65.4 454.9,64.9 455.5,64.4 456.1,63.9 456.7,63.5 457.3,63.1 457.9,62.7 458.6,62.3 459.2,61.9 459.8,61.6 460.4,61.3 461.0,61.0 461.6,60.7 462.2,60.5 462.8,60.3 463.4,60.1 464.0,59.9 464.6,59.8 465.2,59.7 465.8,59.6 466.5,59.5 467.1,59.5 467.7,59.5 468.3,59.5 468.9,59.5 469.5,59.6 470.1,59.7 470.7,59.8 471.3,59.9 471.9,60.1 472.5,60.3 473.1,60.5 473.7,60.7 474.4,60.9 475.0,61.2 475.6,61.5 476.2,61.8 476.8,62.1 477.4,62.4 478.0,62.8 478.6,63.1 479.2,63.5 479.8,63.9 480.4,64.3 481.0,64.7 481.6,65.2 482.3,65.6 482.9,66.0 483.5,66.5 484.1,66.9 484.7,67.4 485.3,67.8 485.9,68.3 486.5,68.8 487.1,69.2 487.7,69.7 488.3,70.2 488.9,70.6 489.5,71.1 490.2,71.6 490.8,72.0 491.4,72.5 492.0,72.9 492.6,73.4 493.2,73.8 493.8,74.2 494.4,74.6 495.0,75.1 495.6,75.5 496.2,75.8 496.8,76.2 497.4,76.6 498.1,77.0 498.7,77.3 499.3,77.7 499.9,78.0 500.5,78.3 501.1,78.7 501.7,79.0 502.3,79.3 502.9,79.5 503.5,79.8 504.1,80.1 504.7,80.3 505.3,80.6 506.0,80.8 506.6,81.0 507.2,81.2 507.8,81.4 508.4,81.6 509.0,81.8 509.6,82.0 510.2,82.2 510.8,82.3 511.4,82.5 512.0,82.6 512.6,82.8 513.2,82.9 513.9,83.0 514.5,83.1 515.1,83.2 515.7,83.3 516.3,83.4 516.9,83.5 517.5,83.6 518.1,83.6 518.7,83.7 519.3,83.8 519.9,83.8 520.5,83.9 521.2,83.9 521.8,84.0 522.4,84.0 523.0,84.1 523.6,84.1 524.2,84.1 524.8,84.2 525.4,84.2 526.0,84.2 526.6,84.2 527.2,84.3 527.8,84.3 528.4,84.3 529.1,84.3" stroke="#f6cc14"/>
<polyline points="533.3,84.4 533.9,84.4 534.5,84.4 535.1,84.4 535.7,84.4 536.3,84.4 537.0,84.4 537.6,84.4 538.2,84.4 538.8,84.4 539.4,84.4 540.0,84.4 540.6,84.4" stroke="#f6cc14"/>
<polyline points="431.2,85.6 431.8,85.5 432.4,85.5 433.0,85.4 433.6,85.4 434.2,85.3 434.8,85.3 435.5,85.2 436.1,85.1 436.7,85.1 437.3,85.0 437.9,84.9 438.5,84.8" stroke="#78cf96"/>
<polyline points="442.7,83.8 443.4,83.6 444.0,83.4 444.6,83.2 445.2,83.0 445.8,82.8 446.4,82.6 447.0,82.3 447.6,82.1 448.2,81.8 448.8,81.6 449.4,81.3 450.0,81.0 450.6,80.7 451.3,80.3 451.9,80.0 452.5,79.7 453.1,79.3 453.7,79.0 454.3,78.6 454.9,78.2 455.5,77.8 456.1,77.4 456.7,77.0 457.3,76.6 457.9,76.1 458.6,75.7 459.2,75.3 459.8,74.8 460.4,74.3 461.0,73.9 461.6,73.4 462.2,72.9 462.8,72.4 463.4,72.0 464.0,71.5 464.6,71.0 465.2,70.5 465.8,70.0 466.5,69.5 467.1,69.0 467.7,68.5 468.3,68.1 468.9,67.6 469.5,67.1 470.1,66.7 470.7,66.2 471.3,65.7 471.9,65.3 472.5,64.9 473.1,64.5 473.7,64.0 474.4,63.7 475.0,63.3 475.6,62.9 476.2,62.6 476.8,62.2 477.4,61.9 478.0,61.6 478.6,61.3 479.2,61.1 479.8,60.8 480.4,60.6 481.0,60.4 481.6,60.2 482.3,60.1 482.9,60.0 483.5,59.9 484.1,59.8 484.7,59.7 485.3,59.7 485.9,59.7 486.5,59.7 487.1,59.7 487.7,59.8 488.3,59.9 488.9,60.0 489.5,60.1 490.2,60.2 490.8,60.4 491.4,60.6 492.0,60.8 492.6,61.1 493.2,61.3 493.8,61.6 494.4,61.9 495.0,62.2 495.6,62.6 496.2,62.9 496.8,63.3 497.4,63.7 498.1,64.0 498.7,64.5 499.3,64.9 499.9,65.3 500.5,65.7 501.1,66.2 501.7,66.7 502.3,67.1 502.9,67.6 503.5,68.1 504.1,68.5 504.7,69.0 505.3,69.5 506.0,70.0 506.6,70.5 507.2,71.0 507.8,71.5 508.4,72.0 509.0,72.4 509.6,72.9 510.2,73.4 510.8,73.9 511.4,74.3 512.0,74.8 512.6,75.3 513.2,75.7 513.9,76.1 514.5,76.6 515.1,77.0 515.7,77.4 516.3,77.8 516.9,78.2 517.5,78.6 518.1,79.0 518.7,79.3 519.3,79.7 519.9,80.0 520.5,80.3 521.2,80.7 521.8,81.0 522.4,81.3 523.0,81.6 523.6,81.8 524.2,82.1 524.8,82.3 525.4,82.6 526.0,82.8 526.6,83.0 527.2,83.2 527.8,83.4 528.4,83.6 529.1,83.8 529.7,84.0 530.3,84.1 530.9,84.3 531.5,84.4 532.1,84.5 532.7,84.7 533.3,84.8 533.9,84.9 534.5,85.0 535.1,85.1 535.7,85.1 536.3,85.2 537.0,85.3 537.6,85.3 538.2,85.4 538.8,85.4 539.4,85.5 540.0,85.5 540.6,85.6" stroke="#78cf96"/>
<polyline points="452.5,83.8 453.1,83.7 453.7,83.6 454.3,83.6 454.9,83.5 455.5,83.4 456.1,83.3 456.7,83.2 457.3,83.1 457.9,83.0 458.6,82.9 459.2,82.8 459.8,82.6 460.4,82.5 461.0,82.3 461.6,82.2 462.2,82.0 462.8,81.8 463.4,81.6 464.0,81.4 464.6,81.2 465.2,81.0 465.8,80.8 466.5,80.6 467.1,80.3 467.7,80.1 468.3,79.8 468.9,79.5 469.5,79.3 470.1,79.0 470.7,78.7 471.3,78.3 471.9,78.0 472.5,77.7 473.1,77.3 473.7,77.0 474.4,76.6 475.0,76.2 475.6,75.8 476.2,75.5 476.8,75.1 477.4,74.6 478.0,74.2 478.6,73.8 479.2,73.4 479.8,72.9 480.4,72.5 481.0,72.0 481.6,71.6 482.3,71.1 482.9,70.6 483.5,70.2 484.1,69.7 484.7,69.2 485.3,68.8 485.9,68.3 486.5,67.8 487.1,67.4 487.7,66.9 488.3,66.5 488.9,66.0 489.5,65.6 490.2,65.2 490.8,64.7 491.4,64.3 492.0,63.9 492.6,63.5 493.2,63.1 493.8,62.8 494.4,62.4 495.0,62.1 495.6,61.8 496.2,61.5 496.8,61.2 497.4,60.9 498.1,60.7 498.7,60.5 499.3,60.3 499.9,60.1 500.5,59.9 501.1,59.8 501.7,59.7 502.3,59.6 502.9,59.5 503.5,59.5 504.1,59.5 504.7,59.5 505.3,59.5 506.0,59.6 506.6,59.7 507.2,59.8 507.8,59.9 508.4,60.1 509.0,60.3 509.6,60.5 510.2,60.7 510.8,61.0 511.4,61.3 512.0,61.6 512.6,61.9 513.2,62.3 513.9,62.7 514.5,63.1 515.1,63.5 515.7,63.9 516.3,64.4 516.9,64.9 517.5,65.4 518.1,65.9 518.7,66.4 519.3,67.0 519.9,67.5 520.5,68.1 521.2,68.7 521.8,69.3 522.4,69.9 523.0,70.5 523.6,71.1 524.2,71.7 524.8,72.4 525.4,73.0 526.0,73.7 526.6,74.3 527.2,75.0 527.8,75.6 528.4,76.3 529.1,76.9 529.7,77.6 530.3,78.2 530.9,78.9 531.5,79.5 532.1,80.2 532.7,80.8 533.3,81.4 533.9,82.0 534.5,82.6 535.1,83.2 535.7,83.8 536.3,84.4 537.0,85.0 537.6,85.6 538.2,86.1 538.8,86.6 539.4,87.2 540.0,87.7 540.6,88.2" stroke="#3ec6f0"/>
<polyline points="468.3,83.8 468.9,83.7 469.5,83.7 470.1,83.6 470.7,83.5 471.3,83.5 471.9,83.4 472.5,83.3 473.1,83.3 473.7,83.2 474.4,83.1 475.0,83.0 475.6,82.9 476.2,82.8 476.8,82.7 477.4,82.5 478.0,82.4 478.6,82.3 479.2,82.1 479.8,82.0 480.4,81.8 481.0,81.6 481.6,81.4 482.3,81.3 482.9,81.1 483.5,80.9 484.1,80.6 484.7,80.4 485.3,80.2 485.9,79.9 486.5,79.7 487.1,79.4 487.7,79.1 488.3,78.8 488.9,78.5 489.5,78.2 490.2,77.9 490.8,77.5 491.4,77.2 492.0,76.8 492.6,76.5 493.2,76.1 493.8,75.7 494.4,75.3 495.0,74.9 495.6,74.5 496.2,74.0 496.8,73.6 497.4,73.2 498.1,72.7 498.7,72.2 499.3,71.8 499.9,71.3 500.5,70.8 501.1,70.3 501.7,69.8 502.3,69.3 502.9,68.8 503.5,68.3 504.1,67.8 504.7,67.3 505.3,66.8 506.0,66.3 506.6,65.8 507.2,65.3 507.8,64.8 508.4,64.3 509.0,63.8 509.6,63.4 510.2,62.9 510.8,62.4 511.4,62.0 512.0,61.5 512.6,61.1 513.2,60.7 513.9,60.3 514.5,59.9 515.1,59.5 515.7,59.2 516.3,58.9 516.9,58.5 517.5,58.3 518.1,58.0 518.7,57.7 519.3,57.5 519.9,57.3 520.5,57.2 521.2,57.0 521.8,56.9 522.4,56.9 523.0,56.8 523.6,56.8 524.2,56.8 524.8,56.9 525.4,57.0 526.0,57.1 526.6,57.2 527.2,57.4 527.8,57.7 528.4,58.0 529.1,58.3 529.7,58.6 530.3,59.0 530.9,59.5 531.5,59.9 532.1,60.5 532.7,61.0 533.3,61.6 533.9,62.3 534.5,62.9 535.1,63.7 535.7,64.5 536.3,65.3 537.0,66.1 537.6,67.0 538.2,68.0 538.8,69.0 539.4,70.0 540.0,71.1 540.6,72.2" stroke="#9288d8"/>
<polyline points="431.2,84.3 431.8,84.3 432.4,84.3 433.0,84.3 433.6,84.3 434.2,84.3 434.8,84.3 435.5,84.3 436.1,84.3 436.7,84.3 437.3,84.3 437.9,84.3 438.5,84.3 439.1,84.3 439.7,84.3 440.3,84.3 440.9,84.3 441.5,84.3 442.1,84.3 442.7,84.3 443.4,84.3 444.0,84.3 444.6,84.3 445.2,84.3 445.8,84.3 446.4,84.3 447.0,84.3 447.6,84.3 448.2,84.3 448.8,84.3 449.4,84.3 450.0,84.3 450.6,84.3 451.3,84.3 451.9,84.3 452.5,84.3 453.1,84.3 453.7,84.3 454.3,84.3 454.9,84.3 455.5,84.3 456.1,84.3 456.7,84.3 457.3,84.3 457.9,84.3 458.6,84.3 459.2,84.3 459.8,84.3 460.4,84.3 461.0,84.3 461.6,84.3 462.2,84.3 462.8,84.3 463.4,84.3 464.0,84.3 464.6,84.3 465.2,84.3 465.8,84.3 466.5,84.3 467.1,84.3 467.7,84.3 468.3,84.2 468.9,84.2 469.5,84.2 470.1,84.2 470.7,84.2 471.3,84.2 471.9,84.2 472.5,84.2 473.1,84.2 473.7,84.2 474.4,84.2 475.0,84.2 475.6,84.2 476.2,84.2 476.8,84.2 477.4,84.1 478.0,84.1 478.6,84.1 479.2,84.1 479.8,84.1 480.4,84.1 481.0,84.0 481.6,84.0 482.3,84.0 482.9,84.0 483.5,83.9 484.1,83.9 484.7,83.9 485.3,83.8 485.9,83.8 486.5,83.7 487.1,83.7 487.7,83.6 488.3,83.6 488.9,83.5 489.5,83.4 490.2,83.4 490.8,83.3 491.4,83.2 492.0,83.1 492.6,83.0 493.2,82.9 493.8,82.8 494.4,82.7 495.0,82.6 495.6,82.5 496.2,82.3 496.8,82.2 497.4,82.0 498.1,81.9 498.7,81.7 499.3,81.5 499.9,81.3 500.5,81.1 501.1,80.9 501.7,80.7 502.3,80.5 502.9,80.2 503.5,80.0 504.1,79.7 504.7,79.4 505.3,79.1 506.0,78.8 506.6,78.4 507.2,78.1 507.8,77.7 508.4,77.4 509.0,77.0 509.6,76.5 510.2,76.1 510.8,75.7 511.4,75.2 512.0,74.7 512.6,74.2 513.2,73.7 513.9,73.1 514.5,72.6 515.1,72.0 515.7,71.4 516.3,70.7 516.9,70.1 517.5,69.4 518.1,68.7 518.7,68.0 519.3,67.2 519.9,66.4 520.5,65.6 521.2,64.8 521.8,64.0 522.4,63.1 523.0,62.2 523.6,61.3 524.2,60.3 524.8,59.4 525.4,58.4 526.0,57.3 526.6,56.3 527.2,55.2 527.8,54.1 528.4,53.0 529.1,51.8 529.7,50.6 530.3,49.4 530.9,48.2 531.5,46.9 532.1,45.6 532.7,44.3 533.3,43.0 533.9,41.6 534.5,40.2 535.1,38.8 535.7,37.3 536.3,35.8 537.0,34.3 537.6,32.8 538.2,31.3 538.8,29.7 539.4,28.1 540.0,26.5 540.6,24.8" stroke="#383e9c"/>
</g>
<rect x="431.20" y="11.40" width="109.40" height="79.50" fill="none" stroke="#555" stroke-width="0.7"/>
<rect x="430.60" y="90.90" width="1.2" height="1.4" fill="#111"/>
<rect x="448.83" y="90.90" width="1.2" height="1.4" fill="#111"/>
<rect x="467.07" y="90.90" width="1.2" height="1.4" fill="#111"/>
<rect x="485.30" y="90.90" width="1.2" height="1.4" fill="#111"/>
<rect x="503.53" y="90.90" width="1.2" height="1.4" fill="#111"/>
<rect x="521.77" y="90.90" width="1.2" height="1.4" fill="#111"/>
<rect x="540.00" y="90.90" width="1.2" height="1.4" fill="#111"/>
<rect x="429.80" y="83.68" width="1.4" height="1.2" fill="#111"/>
<rect x="429.80" y="67.11" width="1.4" height="1.2" fill="#111"/>
<rect x="429.80" y="50.55" width="1.4" height="1.2" fill="#111"/>
<rect x="429.80" y="33.99" width="1.4" height="1.2" fill="#111"/>
<rect x="429.80" y="17.43" width="1.4" height="1.2" fill="#111"/>
<text class="tk" transform="translate(427.90,86.67) scale(1,1.1)" text-anchor="end">0.00</text>
<text class="tk" transform="translate(427.90,70.11) scale(1,1.1)" text-anchor="end">0.25</text>
<text class="tk" transform="translate(427.90,53.55) scale(1,1.1)" text-anchor="end">0.50</text>
<text class="tk" transform="translate(427.90,36.99) scale(1,1.1)" text-anchor="end">0.75</text>
<text class="tk" transform="translate(427.90,20.43) scale(1,1.1)" text-anchor="end">1.00</text>
<text class="ti" x="485.90" y="8.50" font-size="8.5" text-anchor="middle">1-order; 4-simpleces support</text>
<rect x="449.2" y="12.5" width="72.60" height="31.70" fill="#fff" fill-opacity="0.9" stroke="#e2e2e2" stroke-width="0.5" rx="1"/>
<line x1="450.8" y1="17.9" x2="462.3" y2="17.9" stroke="#962a30" stroke-width="1.15"/>
<text class="lg" x="465.6" y="19.80">Node 1</text>
<line x1="450.8" y1="25.2" x2="462.3" y2="25.2" stroke="#f0323f" stroke-width="1.15"/>
<text class="lg" x="465.6" y="27.10">Node 2</text>
<line x1="450.8" y1="32.4" x2="462.3" y2="32.4" stroke="#f6cc14" stroke-width="1.15"/>
<text class="lg" x="465.6" y="34.30">Node 3</text>
<line x1="450.8" y1="39.6" x2="462.3" y2="39.6" stroke="#78cf96" stroke-width="1.15"/>
<text class="lg" x="465.6" y="41.50">Node 4</text>
<line x1="490.4" y1="17.9" x2="501.9" y2="17.9" stroke="#3ec6f0" stroke-width="1.15"/>
<text class="lg" x="505.3" y="19.80">Node 5</text>
<line x1="490.4" y1="25.2" x2="501.9" y2="25.2" stroke="#9288d8" stroke-width="1.15"/>
<text class="lg" x="505.3" y="27.10">Node 6</text>
<line x1="490.4" y1="32.4" x2="501.9" y2="32.4" stroke="#383e9c" stroke-width="1.15"/>
<text class="lg" x="505.3" y="34.30">Node 7</text>
<clipPath id="c10"><rect x="27.30" y="107.55" width="109.40" height="79.50"/></clipPath>
<line x1="27.30" y1="107.55" x2="27.30" y2="187.05" stroke="#cccccc" stroke-width="0.55" stroke-dasharray="2.1,1.5"/>
<line x1="45.53" y1="107.55" x2="45.53" y2="187.05" stroke="#cccccc" stroke-width="0.55" stroke-dasharray="2.1,1.5"/>
<line x1="63.77" y1="107.55" x2="63.77" y2="187.05" stroke="#cccccc" stroke-width="0.55" stroke-dasharray="2.1,1.5"/>
<line x1="82.00" y1="107.55" x2="82.00" y2="187.05" stroke="#cccccc" stroke-width="0.55" stroke-dasharray="2.1,1.5"/>
<line x1="100.23" y1="107.55" x2="100.23" y2="187.05" stroke="#cccccc" stroke-width="0.55" stroke-dasharray="2.1,1.5"/>
<line x1="118.47" y1="107.55" x2="118.47" y2="187.05" stroke="#cccccc" stroke-width="0.55" stroke-dasharray="2.1,1.5"/>
<line x1="136.70" y1="107.55" x2="136.70" y2="187.05" stroke="#cccccc" stroke-width="0.55" stroke-dasharray="2.1,1.5"/>
<line x1="27.30" y1="174.82" x2="136.70" y2="174.82" stroke="#cccccc" stroke-width="0.55" stroke-dasharray="2.1,1.5"/>
<line x1="27.30" y1="159.53" x2="136.70" y2="159.53" stroke="#cccccc" stroke-width="0.55" stroke-dasharray="2.1,1.5"/>
<line x1="27.30" y1="144.24" x2="136.70" y2="144.24" stroke="#cccccc" stroke-width="0.55" stroke-dasharray="2.1,1.5"/>
<line x1="27.30" y1="128.95" x2="136.70" y2="128.95" stroke="#cccccc" stroke-width="0.55" stroke-dasharray="2.1,1.5"/>
<line x1="27.30" y1="113.67" x2="136.70" y2="113.67" stroke="#cccccc" stroke-width="0.55" stroke-dasharray="2.1,1.5"/>
<g clip-path="url(#c10)" fill="none" stroke-width="1.15" stroke-linejoin="round">
<polyline points="27.3,113.7 27.9,116.7 28.5,119.6 29.1,122.5 29.7,125.3 30.3,128.1 30.9,130.8 31.6,133.4 32.2,135.9 32.8,138.4 33.4,140.8 34.0,143.2 34.6,145.4 35.2,147.7 35.8,149.8 36.4,151.9 37.0,153.9 37.6,155.8 38.2,157.7 38.8,159.5 39.5,161.2 40.1,162.8 40.7,164.4 41.3,166.0 41.9,167.4 42.5,168.8 43.1,170.1 43.7,171.3 44.3,172.5 44.9,173.6 45.5,174.6 46.1,175.6 46.7,176.5 47.4,177.3 48.0,178.0 48.6,178.6 49.2,179.1 49.8,179.6 50.4,179.9 51.0,180.1 51.6,180.1 52.2,180.1 52.8,179.9 53.4,179.5 54.0,179.1 54.7,178.6 55.3,178.1 55.9,177.6 56.5,177.1 57.1,176.6 57.7,176.3 58.3,176.0 58.9,175.7 59.5,175.5 60.1,175.4 60.7,175.3" stroke="#962a30"/>
<polyline points="27.3,174.8 27.9,170.8 28.5,166.9 29.1,163.2 29.7,159.6 30.3,156.1 30.9,152.8 31.6,149.6 32.2,146.6 32.8,143.7 33.4,140.9 34.0,138.2 34.6,135.7 35.2,133.4 35.8,131.1 36.4,129.0 37.0,127.1 37.6,125.2 38.2,123.6 38.8,122.0 39.5,120.6 40.1,119.3 40.7,118.2 41.3,117.2 41.9,116.3 42.5,115.6 43.1,115.0 43.7,114.6 44.3,114.3 44.9,114.2 45.5,114.2 46.1,114.3 46.7,114.7 47.4,115.2 48.0,115.8 48.6,116.7 49.2,117.8 49.8,119.1 50.4,120.8 51.0,122.7 51.6,124.9 52.2,127.5 52.8,130.3 53.4,133.5 54.0,136.9 54.7,140.5 55.3,144.0 55.9,147.5 56.5,150.9 57.1,154.0 57.7,156.8 58.3,159.4 58.9,161.7 59.5,163.9 60.1,165.8 60.7,167.5 61.3,169.1 61.9,170.5 62.6,171.8 63.2,173.0 63.8,174.2 64.4,175.2 65.0,176.1 65.6,177.0 66.2,177.7 66.8,178.4 67.4,178.9 68.0,179.4 68.6,179.7 69.2,180.0 69.8,180.0 70.5,180.0 71.1,179.8 71.7,179.5 72.3,179.1 72.9,178.6 73.5,178.1 74.1,177.6 74.7,177.1 75.3,176.6 75.9,176.3 76.5,176.0 77.1,175.7 77.7,175.5 78.4,175.4 79.0,175.3" stroke="#f0323f"/>
<polyline points="27.3,174.8 27.9,175.8 28.5,176.7 29.1,177.6 29.7,178.3 30.3,179.1 30.9,179.7 31.6,180.3 32.2,180.8 32.8,181.2 33.4,181.6 34.0,181.9 34.6,182.1 35.2,182.3 35.8,182.4 36.4,182.4 37.0,182.3 37.6,182.2 38.2,182.0 38.8,181.8 39.5,181.5 40.1,181.1 40.7,180.6 41.3,180.1 41.9,179.5 42.5,178.8 43.1,178.1 43.7,177.2 44.3,176.3 44.9,175.4 45.5,174.3 46.1,173.2 46.7,171.9 47.4,170.6 48.0,169.1 48.6,167.5 49.2,165.8 49.8,163.9 50.4,161.8 51.0,159.4 51.6,156.8 52.2,153.9 52.8,150.8 53.4,147.5 54.0,144.0 54.7,140.4 55.3,136.9 55.9,133.5 56.5,130.3 57.1,127.5 57.7,124.9 58.3,122.7 58.9,120.9 59.5,119.3 60.1,118.0 60.7,116.9 61.3,116.1 61.9,115.4 62.6,115.0 63.2,114.7 63.8,114.6 64.4,114.7 65.0,115.0 65.6,115.4 66.2,116.1 66.8,116.9 67.4,118.0 68.0,119.3 68.6,120.9 69.2,122.8 69.8,125.0 70.5,127.5 71.1,130.4 71.7,133.5 72.3,136.9 72.9,140.4 73.5,144.0 74.1,147.5 74.7,150.9 75.3,154.0 75.9,156.8 76.5,159.4 77.1,161.7 77.7,163.8 78.4,165.8 79.0,167.5 79.6,169.1 80.2,170.5 80.8,171.8 81.4,173.0 82.0,174.2 82.6,175.2 83.2,176.1 83.8,177.0 84.4,177.7 85.0,178.4 85.6,178.9 86.3,179.4 86.9,179.7 87.5,180.0 88.1,180.0 88.7,180.0 89.3,179.8 89.9,179.5 90.5,179.1 91.1,178.6 91.7,178.1 92.3,177.6 92.9,177.1 93.5,176.6 94.2,176.3 94.8,176.0 95.4,175.7 96.0,175.5 96.6,175.4 97.2,175.3" stroke="#f6cc14"/>
<polyline points="103.3,174.9 103.9,174.9 104.5,174.9 105.1,174.9 105.7,174.9 106.3,174.9 106.9,174.9 107.5,174.8 108.1,174.8 108.7,174.8 109.4,174.8 110.0,174.8 110.6,174.8 111.2,174.8 111.8,174.8 112.4,174.8 113.0,174.8 113.6,174.8 114.2,174.8 114.8,174.8 115.4,174.8" stroke="#f6cc14"/>
<polyline points="48.6,175.3 49.2,175.4 49.8,175.5 50.4,175.7 51.0,176.0 51.6,176.3 52.2,176.7 52.8,177.1 53.4,177.6 54.0,178.1 54.7,178.6 55.3,179.1 55.9,179.5 56.5,179.8 57.1,180.0 57.7,180.0 58.3,180.0 58.9,179.7 59.5,179.4 60.1,179.0 60.7,178.4 61.3,177.7 61.9,177.0 62.6,176.1 63.2,175.2 63.8,174.2 64.4,173.0 65.0,171.8 65.6,170.5 66.2,169.1 66.8,167.5 67.4,165.8 68.0,163.8 68.6,161.7 69.2,159.4 69.8,156.8 70.5,154.0 71.1,150.9 71.7,147.5 72.3,144.0 72.9,140.4 73.5,136.9 74.1,133.5 74.7,130.4 75.3,127.5 75.9,125.0 76.5,122.8 77.1,120.9 77.7,119.3 78.4,118.0 79.0,116.9 79.6,116.1 80.2,115.4 80.8,115.0 81.4,114.7 82.0,114.6 82.6,114.7 83.2,115.0 83.8,115.4 84.4,116.1 85.0,116.9 85.6,118.0 86.3,119.3 86.9,120.9 87.5,122.8 88.1,125.0 88.7,127.5 89.3,130.4 89.9,133.5 90.5,136.9 91.1,140.4 91.7,144.0 92.3,147.5 92.9,150.9 93.5,154.0 94.2,156.8 94.8,159.4 95.4,161.7 96.0,163.8 96.6,165.8 97.2,167.5 97.8,169.1 98.4,170.5 99.0,171.8 99.6,173.0 100.2,174.2 100.8,175.2 101.4,176.1 102.1,177.0 102.7,177.7 103.3,178.4 103.9,179.0 104.5,179.4 105.1,179.7 105.7,180.0 106.3,180.0 106.9,180.0 107.5,179.8 108.1,179.5 108.7,179.1 109.4,178.6 110.0,178.1 110.6,177.6 111.2,177.1 111.8,176.7 112.4,176.3 113.0,176.0 113.6,175.7 114.2,175.5 114.8,175.4 115.4,175.3 116.0,175.2 116.6,175.1 117.3,175.1 117.9,175.0 118.5,175.0 119.1,175.0 119.7,174.9 120.3,174.9 120.9,174.9 121.5,174.9 122.1,174.9 122.7,174.9 123.3,174.9 123.9,174.9 124.5,174.9 125.2,174.9 125.8,174.9 126.4,174.9 127.0,174.8 127.6,174.8 128.2,174.8 128.8,174.8 129.4,174.8 130.0,174.8 130.6,174.8 131.2,174.8 131.8,174.8 132.4,174.8 133.1,174.8 133.7,174.8 134.3,174.8 134.9,174.8 135.5,174.8 136.1,174.8 136.7,174.8" stroke="#78cf96"/>
<polyline points="66.8,175.3 67.4,175.4 68.0,175.5 68.6,175.7 69.2,176.0 69.8,176.3 70.5,176.6 71.1,177.1 71.7,177.6 72.3,178.1 72.9,178.6 73.5,179.1 74.1,179.5 74.7,179.8 75.3,180.0 75.9,180.0 76.5,180.0 77.1,179.7 77.7,179.4 78.4,178.9 79.0,178.4 79.6,177.7 80.2,177.0 80.8,176.1 81.4,175.2 82.0,174.2 82.6,173.0 83.2,171.8 83.8,170.5 84.4,169.1 85.0,167.5 85.6,165.8 86.3,163.8 86.9,161.7 87.5,159.4 88.1,156.8 88.7,154.0 89.3,150.9 89.9,147.5 90.5,144.0 91.1,140.4 91.7,136.9 92.3,133.5 92.9,130.4 93.5,127.5 94.2,125.0 94.8,122.8 95.4,120.9 96.0,119.3 96.6,118.0 97.2,116.9 97.8,116.1 98.4,115.4 99.0,115.0 99.6,114.7 100.2,114.6 100.8,114.7 101.4,115.0 102.1,115.4 102.7,116.1 103.3,116.9 103.9,118.0 104.5,119.3 105.1,120.9 105.7,122.7 106.3,124.9 106.9,127.5 107.5,130.3 108.1,133.5 108.7,136.9 109.4,140.4 110.0,144.0 110.6,147.5 111.2,150.8 111.8,153.9 112.4,156.8 113.0,159.4 113.6,161.8 114.2,163.9 114.8,165.8 115.4,167.5 116.0,169.1 116.6,170.6 117.3,171.9 117.9,173.2 118.5,174.3 119.1,175.4 119.7,176.3 120.3,177.2 120.9,178.1 121.5,178.8 122.1,179.5 122.7,180.1 123.3,180.6 123.9,181.1 124.5,181.5 125.2,181.8 125.8,182.0 126.4,182.2 127.0,182.3 127.6,182.4 128.2,182.4 128.8,182.3 129.4,182.1 130.0,181.9 130.6,181.6 131.2,181.2 131.8,180.8 132.4,180.3 133.1,179.7 133.7,179.1 134.3,178.3 134.9,177.6 135.5,176.7 136.1,175.8 136.7,174.8" stroke="#3ec6f0"/>
<polyline points="85.0,175.3 85.6,175.4 86.3,175.5 86.9,175.7 87.5,176.0 88.1,176.3 88.7,176.6 89.3,177.1 89.9,177.6 90.5,178.1 91.1,178.6 91.7,179.1 92.3,179.5 92.9,179.8 93.5,180.0 94.2,180.0 94.8,180.0 95.4,179.7 96.0,179.4 96.6,178.9 97.2,178.4 97.8,177.7 98.4,177.0 99.0,176.1 99.6,175.2 100.2,174.2 100.8,173.0 101.4,171.8 102.1,170.5 102.7,169.1 103.3,167.5 103.9,165.8 104.5,163.9 105.1,161.7 105.7,159.4 106.3,156.8 106.9,154.0 107.5,150.9 108.1,147.5 108.7,144.0 109.4,140.5 110.0,136.9 110.6,133.5 111.2,130.3 111.8,127.5 112.4,124.9 113.0,122.7 113.6,120.8 114.2,119.1 114.8,117.8 115.4,116.7 116.0,115.8 116.6,115.2 117.3,114.7 117.9,114.3 118.5,114.2 119.1,114.2 119.7,114.3 120.3,114.6 120.9,115.0 121.5,115.6 122.1,116.3 122.7,117.2 123.3,118.2 123.9,119.3 124.5,120.6 125.2,122.0 125.8,123.6 126.4,125.2 127.0,127.1 127.6,129.0 128.2,131.1 128.8,133.4 129.4,135.7 130.0,138.2 130.6,140.9 131.2,143.7 131.8,146.6 132.4,149.6 133.1,152.8 133.7,156.1 134.3,159.6 134.9,163.2 135.5,166.9 136.1,170.8 136.7,174.8" stroke="#9288d8"/>
<polyline points="27.3,174.8 27.9,174.8 28.5,174.8 29.1,174.8 29.7,174.8 30.3,174.8 30.9,174.8 31.6,174.8 32.2,174.8 32.8,174.8 33.4,174.8 34.0,174.8 34.6,174.8 35.2,174.8 35.8,174.8 36.4,174.8 37.0,174.8 37.6,174.8 38.2,174.8 38.8,174.8 39.5,174.8 40.1,174.8 40.7,174.8 41.3,174.8 41.9,174.8 42.5,174.8 43.1,174.8 43.7,174.8 44.3,174.8 44.9,174.8 45.5,174.8 46.1,174.8 46.7,174.8 47.4,174.8 48.0,174.8 48.6,174.8 49.2,174.8 49.8,174.8 50.4,174.8 51.0,174.8 51.6,174.8 52.2,174.8 52.8,174.8 53.4,174.8 54.0,174.8 54.7,174.8 55.3,174.8 55.9,174.8 56.5,174.8 57.1,174.8 57.7,174.8 58.3,174.8 58.9,174.8 59.5,174.8 60.1,174.8 60.7,174.8 61.3,174.8 61.9,174.8 62.6,174.8 63.2,174.8 63.8,174.8 64.4,174.8 65.0,174.8 65.6,174.8 66.2,174.8 66.8,174.8 67.4,174.8 68.0,174.8 68.6,174.8 69.2,174.8 69.8,174.8 70.5,174.8 71.1,174.8 71.7,174.8 72.3,174.8 72.9,174.8 73.5,174.8 74.1,174.8 74.7,174.8 75.3,174.8 75.9,174.8 76.5,174.8 77.1,174.8 77.7,174.8 78.4,174.8 79.0,174.8 79.6,174.8 80.2,174.8 80.8,174.8 81.4,174.8 82.0,174.8 82.6,174.8 83.2,174.8 83.8,174.8 84.4,174.8 85.0,174.8 85.6,174.8 86.3,174.8 86.9,174.8 87.5,174.8 88.1,174.8 88.7,174.8 89.3,174.8 89.9,174.8 90.5,174.8 91.1,174.8 91.7,174.8 92.3,174.8 92.9,174.8 93.5,174.9 94.2,174.9 94.8,174.9 95.4,174.9 96.0,174.9 96.6,174.9 97.2,174.9 97.8,174.9 98.4,174.9 99.0,174.9 99.6,175.0 100.2,175.0 100.8,175.0 101.4,175.1 102.1,175.1 102.7,175.2 103.3,175.3 103.9,175.4 104.5,175.5 105.1,175.7 105.7,176.0 106.3,176.3 106.9,176.6 107.5,177.1 108.1,177.6 108.7,178.1 109.4,178.6 110.0,179.1 110.6,179.5 111.2,179.9 111.8,180.1 112.4,180.1 113.0,180.1 113.6,179.9 114.2,179.6 114.8,179.1 115.4,178.6 116.0,178.0 116.6,177.3 117.3,176.5 117.9,175.6 118.5,174.6 119.1,173.6 119.7,172.5 120.3,171.3 120.9,170.1 121.5,168.8 122.1,167.4 122.7,166.0 123.3,164.4 123.9,162.8 124.5,161.2 125.2,159.5 125.8,157.7 126.4,155.8 127.0,153.9 127.6,151.9 128.2,149.8 128.8,147.7 129.4,145.4 130.0,143.2 130.6,140.8 131.2,138.4 131.8,135.9 132.4,133.4 133.1,130.8 133.7,128.1 134.3,125.3 134.9,122.5 135.5,119.6 136.1,116.7 136.7,113.7" stroke="#383e9c"/>
</g>
<rect x="27.30" y="107.55" width="109.40" height="79.50" fill="none" stroke="#555" stroke-width="0.7"/>
<rect x="26.70" y="187.05" width="1.2" height="1.4" fill="#111"/>
<rect x="44.93" y="187.05" width="1.2" height="1.4" fill="#111"/>
<rect x="63.17" y="187.05" width="1.2" height="1.4" fill="#111"/>
<rect x="81.40" y="187.05" width="1.2" height="1.4" fill="#111"/>
<rect x="99.63" y="187.05" width="1.2" height="1.4" fill="#111"/>
<rect x="117.87" y="187.05" width="1.2" height="1.4" fill="#111"/>
<rect x="136.10" y="187.05" width="1.2" height="1.4" fill="#111"/>
<rect x="25.90" y="174.22" width="1.4" height="1.2" fill="#111"/>
<rect x="25.90" y="158.93" width="1.4" height="1.2" fill="#111"/>
<rect x="25.90" y="143.64" width="1.4" height="1.2" fill="#111"/>
<rect x="25.90" y="128.35" width="1.4" height="1.2" fill="#111"/>
<rect x="25.90" y="113.07" width="1.4" height="1.2" fill="#111"/>
<text class="tk" transform="translate(24.00,177.22) scale(1,1.1)" text-anchor="end">0.00</text>
<text class="tk" transform="translate(24.00,161.93) scale(1,1.1)" text-anchor="end">0.25</text>
<text class="tk" transform="translate(24.00,146.64) scale(1,1.1)" text-anchor="end">0.50</text>
<text class="tk" transform="translate(24.00,131.35) scale(1,1.1)" text-anchor="end">0.75</text>
<text class="tk" transform="translate(24.00,116.07) scale(1,1.1)" text-anchor="end">1.00</text>
<text class="ti" x="82.00" y="104.65" font-size="8.5" text-anchor="middle">2-order; 2-simpleces support</text>
<text class="tk" transform="translate(10.20,147.30) rotate(-90)" style="font-size:5.9px" text-anchor="middle"><tspan font-style="italic">N</tspan><tspan font-size="4.13" dy="1.2">s</tspan></text>
<clipPath id="c11"><rect x="161.93" y="107.55" width="109.40" height="79.50"/></clipPath>
<line x1="161.93" y1="107.55" x2="161.93" y2="187.05" stroke="#cccccc" stroke-width="0.55" stroke-dasharray="2.1,1.5"/>
<line x1="180.16" y1="107.55" x2="180.16" y2="187.05" stroke="#cccccc" stroke-width="0.55" stroke-dasharray="2.1,1.5"/>
<line x1="198.40" y1="107.55" x2="198.40" y2="187.05" stroke="#cccccc" stroke-width="0.55" stroke-dasharray="2.1,1.5"/>
<line x1="216.63" y1="107.55" x2="216.63" y2="187.05" stroke="#cccccc" stroke-width="0.55" stroke-dasharray="2.1,1.5"/>
<line x1="234.86" y1="107.55" x2="234.86" y2="187.05" stroke="#cccccc" stroke-width="0.55" stroke-dasharray="2.1,1.5"/>
<line x1="253.10" y1="107.55" x2="253.10" y2="187.05" stroke="#cccccc" stroke-width="0.55" stroke-dasharray="2.1,1.5"/>
<line x1="271.33" y1="107.55" x2="271.33" y2="187.05" stroke="#cccccc" stroke-width="0.55" stroke-dasharray="2.1,1.5"/>
<line x1="161.93" y1="180.43" x2="271.33" y2="180.43" stroke="#cccccc" stroke-width="0.55" stroke-dasharray="2.1,1.5"/>
<line x1="161.93" y1="163.86" x2="271.33" y2="163.86" stroke="#cccccc" stroke-width="0.55" stroke-dasharray="2.1,1.5"/>
<line x1="161.93" y1="147.30" x2="271.33" y2="147.30" stroke="#cccccc" stroke-width="0.55" stroke-dasharray="2.1,1.5"/>
<line x1="161.93" y1="130.74" x2="271.33" y2="130.74" stroke="#cccccc" stroke-width="0.55" stroke-dasharray="2.1,1.5"/>
<line x1="161.93" y1="114.17" x2="271.33" y2="114.17" stroke="#cccccc" stroke-width="0.55" stroke-dasharray="2.1,1.5"/>
<g clip-path="url(#c11)" fill="none" stroke-width="1.15" stroke-linejoin="round">
<polyline points="161.9,114.2 162.5,117.4 163.1,120.5 163.8,123.6 164.4,126.5 165.0,129.4 165.6,132.2 166.2,135.0 166.8,137.6 167.4,140.2 168.0,142.7 168.6,145.1 169.2,147.4 169.8,149.7 170.4,151.8 171.0,153.9 171.7,155.9 172.3,157.9 172.9,159.8 173.5,161.5 174.1,163.2 174.7,164.9 175.3,166.4 175.9,167.9 176.5,169.3 177.1,170.6 177.7,171.9 178.3,173.1 178.9,174.2 179.6,175.2 180.2,176.2 180.8,177.1 181.4,177.9 182.0,178.7 182.6,179.4 183.2,180.1 183.8,180.6 184.4,181.2 185.0,181.6 185.6,182.0 186.2,182.4 186.8,182.7 187.5,183.0 188.1,183.2 188.7,183.4 189.3,183.5 189.9,183.7 190.5,183.7 191.1,183.8 191.7,183.8 192.3,183.8 192.9,183.8 193.5,183.7 194.1,183.7 194.8,183.6 195.4,183.5 196.0,183.4 196.6,183.3 197.2,183.2 197.8,183.1 198.4,183.0 199.0,182.9 199.6,182.7 200.2,182.6 200.8,182.5 201.4,182.4 202.0,182.2 202.7,182.1 203.3,182.0 203.9,181.9 204.5,181.8 205.1,181.7 205.7,181.6 206.3,181.5 206.9,181.4 207.5,181.3 208.1,181.2 208.7,181.2 209.3,181.1 209.9,181.0 210.6,181.0 211.2,180.9" stroke="#962a30"/>
<polyline points="222.1,180.5 222.7,180.5 223.3,180.5 223.9,180.5 224.5,180.5 225.1,180.4 225.7,180.4 226.4,180.4 227.0,180.4 227.6,180.4 228.2,180.4 228.8,180.4 229.4,180.4" stroke="#962a30"/>
<polyline points="161.9,180.3 162.5,176.2 163.1,172.2 163.8,168.4 164.4,164.8 165.0,161.4 165.6,158.1 166.2,154.9 166.8,151.9 167.4,149.1 168.0,146.5 168.6,144.0 169.2,141.7 169.8,139.5 170.4,137.5 171.0,135.7 171.7,134.0 172.3,132.4 172.9,131.1 173.5,129.9 174.1,128.8 174.7,127.9 175.3,127.2 175.9,126.6 176.5,126.2 177.1,125.9 177.7,125.7 178.3,125.7 178.9,125.9 179.6,126.2 180.2,126.6 180.8,127.1 181.4,127.8 182.0,128.6 182.6,129.5 183.2,130.5 183.8,131.6 184.4,132.8 185.0,134.1 185.6,135.5 186.2,137.0 186.8,138.5 187.5,140.1 188.1,141.7 188.7,143.4 189.3,145.1 189.9,146.9 190.5,148.6 191.1,150.4 191.7,152.2 192.3,153.9 192.9,155.7 193.5,157.4 194.1,159.1 194.8,160.8 195.4,162.4 196.0,164.0 196.6,165.5 197.2,166.9 197.8,168.4 198.4,169.7 199.0,171.0 199.6,172.2 200.2,173.4 200.8,174.4 201.4,175.5 202.0,176.4 202.7,177.3 203.3,178.1 203.9,178.8 204.5,179.5 205.1,180.1 205.7,180.6 206.3,181.1 206.9,181.5 207.5,181.8 208.1,182.1 208.7,182.4 209.3,182.6 209.9,182.8 210.6,182.9 211.2,183.0 211.8,183.1 212.4,183.1 213.0,183.1 213.6,183.1 214.2,183.1 214.8,183.0 215.4,183.0 216.0,182.9 216.6,182.8 217.2,182.7 217.8,182.6 218.5,182.5 219.1,182.4 219.7,182.3 220.3,182.2 220.9,182.1 221.5,182.0 222.1,181.9 222.7,181.8 223.3,181.7 223.9,181.6 224.5,181.5 225.1,181.4 225.7,181.3 226.4,181.2 227.0,181.2 227.6,181.1 228.2,181.0 228.8,181.0 229.4,180.9 230.0,180.9 230.6,180.8 231.2,180.8 231.8,180.7 232.4,180.7 233.0,180.7 233.6,180.7 234.3,180.6 234.9,180.6 235.5,180.6 236.1,180.6 236.7,180.5 237.3,180.5 237.9,180.5 238.5,180.5 239.1,180.5 239.7,180.5 240.3,180.5 240.9,180.5 241.5,180.5 242.2,180.5 242.8,180.5 243.4,180.5 244.0,180.4 244.6,180.4 245.2,180.4 245.8,180.4 246.4,180.4 247.0,180.4 247.6,180.4 248.2,180.4 248.8,180.4" stroke="#f0323f"/>
<polyline points="161.9,180.6 162.5,181.4 163.1,182.2 163.8,182.8 164.4,183.4 165.0,183.9 165.6,184.3 166.2,184.6 166.8,184.8 167.4,184.9 168.0,185.0 168.6,184.9 169.2,184.8 169.8,184.6 170.4,184.3 171.0,183.9 171.7,183.4 172.3,182.8 172.9,182.2 173.5,181.5 174.1,180.6 174.7,179.8 175.3,178.8 175.9,177.8 176.5,176.6 177.1,175.4 177.7,174.2 178.3,172.9 178.9,171.5 179.6,170.0 180.2,168.5 180.8,167.0 181.4,165.4 182.0,163.7 182.6,162.1 183.2,160.3 183.8,158.6 184.4,156.9 185.0,155.1 185.6,153.4 186.2,151.6 186.8,149.9 187.5,148.2 188.1,146.5 188.7,144.9 189.3,143.3 189.9,141.8 190.5,140.4 191.1,139.0 191.7,137.7 192.3,136.5 192.9,135.4 193.5,134.4 194.1,133.5 194.8,132.8 195.4,132.1 196.0,131.6 196.6,131.2 197.2,130.9 197.8,130.8 198.4,130.8 199.0,130.9 199.6,131.2 200.2,131.6 200.8,132.1 201.4,132.8 202.0,133.5 202.7,134.4 203.3,135.4 203.9,136.5 204.5,137.8 205.1,139.1 205.7,140.4 206.3,141.9 206.9,143.4 207.5,145.0 208.1,146.7 208.7,148.3 209.3,150.0 209.9,151.7 210.6,153.4 211.2,155.2 211.8,156.9 212.4,158.6 213.0,160.2 213.6,161.9 214.2,163.5 214.8,165.0 215.4,166.5 216.0,167.9 216.6,169.3 217.2,170.6 217.8,171.9 218.5,173.1 219.1,174.2 219.7,175.2 220.3,176.2 220.9,177.1 221.5,177.9 222.1,178.7 222.7,179.3 223.3,180.0 223.9,180.5 224.5,181.0 225.1,181.4 225.7,181.8 226.4,182.1 227.0,182.4 227.6,182.6 228.2,182.8 228.8,182.9 229.4,183.0 230.0,183.1 230.6,183.2 231.2,183.2 231.8,183.2 232.4,183.2 233.0,183.1 233.6,183.1 234.3,183.0 234.9,182.9 235.5,182.8 236.1,182.7 236.7,182.6 237.3,182.5 237.9,182.4 238.5,182.3 239.1,182.2 239.7,182.1 240.3,182.0 240.9,181.9 241.5,181.8 242.2,181.7 242.8,181.6 243.4,181.5 244.0,181.4 244.6,181.4 245.2,181.3 245.8,181.2 246.4,181.2 247.0,181.1 247.6,181.0 248.2,181.0 248.8,180.9 249.4,180.9 250.1,180.8 250.7,180.8 251.3,180.8 251.9,180.7 252.5,180.7 253.1,180.7 253.7,180.6 254.3,180.6 254.9,180.6 255.5,180.6 256.1,180.6 256.7,180.5 257.4,180.5 258.0,180.5 258.6,180.5 259.2,180.5 259.8,180.5 260.4,180.5 261.0,180.5 261.6,180.5 262.2,180.5 262.8,180.5 263.4,180.5 264.0,180.4 264.6,180.4 265.3,180.4 265.9,180.4 266.5,180.4 267.1,180.4 267.7,180.4" stroke="#f6cc14"/>
<polyline points="165.6,180.9 166.2,181.0 166.8,181.1 167.4,181.2 168.0,181.3 168.6,181.5 169.2,181.6 169.8,181.7 170.4,181.8 171.0,182.0 171.7,182.1 172.3,182.2 172.9,182.4 173.5,182.5 174.1,182.7 174.7,182.8 175.3,182.9 175.9,183.1 176.5,183.2 177.1,183.3 177.7,183.5 178.3,183.6 178.9,183.7 179.6,183.8 180.2,183.9 180.8,184.0 181.4,184.0 182.0,184.1 182.6,184.1 183.2,184.1 183.8,184.1 184.4,184.1 185.0,184.0 185.6,183.9 186.2,183.7 186.8,183.6 187.5,183.3 188.1,183.1 188.7,182.8 189.3,182.4 189.9,182.0 190.5,181.5 191.1,180.9 191.7,180.3 192.3,179.7 192.9,178.9 193.5,178.2 194.1,177.3 194.8,176.4 195.4,175.4 196.0,174.3 196.6,173.1 197.2,171.9 197.8,170.7 198.4,169.3 199.0,167.9 199.6,166.5 200.2,165.0 200.8,163.4 201.4,161.8 202.0,160.2 202.7,158.5 203.3,156.8 203.9,155.1 204.5,153.4 205.1,151.6 205.7,149.9 206.3,148.3 206.9,146.6 207.5,145.0 208.1,143.4 208.7,141.9 209.3,140.4 209.9,139.1 210.6,137.8 211.2,136.6 211.8,135.5 212.4,134.6 213.0,133.7 213.6,133.0 214.2,132.4 214.8,131.9 215.4,131.5 216.0,131.3 216.6,131.3 217.2,131.3 217.8,131.5 218.5,131.9 219.1,132.4 219.7,133.0 220.3,133.7 220.9,134.6 221.5,135.5 222.1,136.6 222.7,137.8 223.3,139.1 223.9,140.4 224.5,141.9 225.1,143.4 225.7,145.0 226.4,146.6 227.0,148.3 227.6,149.9 228.2,151.6 228.8,153.4 229.4,155.1 230.0,156.8 230.6,158.5 231.2,160.2 231.8,161.8 232.4,163.4 233.0,165.0 233.6,166.5 234.3,167.9 234.9,169.3 235.5,170.7 236.1,171.9 236.7,173.1 237.3,174.3 237.9,175.4 238.5,176.4 239.1,177.3 239.7,178.2 240.3,178.9 240.9,179.7 241.5,180.3 242.2,180.9 242.8,181.5 243.4,182.0 244.0,182.4 244.6,182.8 245.2,183.1 245.8,183.3 246.4,183.6 247.0,183.7 247.6,183.9 248.2,184.0 248.8,184.1 249.4,184.1 250.1,184.1 250.7,184.1 251.3,184.1 251.9,184.0 252.5,184.0 253.1,183.9 253.7,183.8 254.3,183.7 254.9,183.6 255.5,183.5 256.1,183.3 256.7,183.2 257.4,183.1 258.0,182.9 258.6,182.8 259.2,182.7 259.8,182.5 260.4,182.4 261.0,182.2 261.6,182.1 262.2,182.0 262.8,181.8 263.4,181.7 264.0,181.6 264.6,181.5 265.3,181.3 265.9,181.2 266.5,181.1 267.1,181.0 267.7,180.9 268.3,180.8 268.9,180.7 269.5,180.6 270.1,180.5 270.7,180.4 271.3,180.4" stroke="#78cf96"/>
<polyline points="184.4,180.9 185.0,181.0 185.6,181.0 186.2,181.1 186.8,181.2 187.5,181.2 188.1,181.3 188.7,181.4 189.3,181.4 189.9,181.5 190.5,181.6 191.1,181.7 191.7,181.8 192.3,181.9 192.9,182.0 193.5,182.1 194.1,182.2 194.8,182.3 195.4,182.4 196.0,182.5 196.6,182.6 197.2,182.7 197.8,182.8 198.4,182.9 199.0,183.0 199.6,183.1 200.2,183.1 200.8,183.2 201.4,183.2 202.0,183.2 202.7,183.2 203.3,183.1 203.9,183.0 204.5,182.9 205.1,182.8 205.7,182.6 206.3,182.4 206.9,182.1 207.5,181.8 208.1,181.4 208.7,181.0 209.3,180.5 209.9,180.0 210.6,179.3 211.2,178.7 211.8,177.9 212.4,177.1 213.0,176.2 213.6,175.2 214.2,174.2 214.8,173.1 215.4,171.9 216.0,170.6 216.6,169.3 217.2,167.9 217.8,166.5 218.5,165.0 219.1,163.5 219.7,161.9 220.3,160.2 220.9,158.6 221.5,156.9 222.1,155.2 222.7,153.4 223.3,151.7 223.9,150.0 224.5,148.3 225.1,146.7 225.7,145.0 226.4,143.4 227.0,141.9 227.6,140.4 228.2,139.1 228.8,137.8 229.4,136.5 230.0,135.4 230.6,134.4 231.2,133.5 231.8,132.8 232.4,132.1 233.0,131.6 233.6,131.2 234.3,130.9 234.9,130.8 235.5,130.8 236.1,130.9 236.7,131.2 237.3,131.6 237.9,132.1 238.5,132.8 239.1,133.5 239.7,134.4 240.3,135.4 240.9,136.5 241.5,137.7 242.2,139.0 242.8,140.4 243.4,141.8 244.0,143.3 244.6,144.9 245.2,146.5 245.8,148.2 246.4,149.9 247.0,151.6 247.6,153.4 248.2,155.1 248.8,156.9 249.4,158.6 250.1,160.3 250.7,162.1 251.3,163.7 251.9,165.4 252.5,167.0 253.1,168.5 253.7,170.0 254.3,171.5 254.9,172.9 255.5,174.2 256.1,175.4 256.7,176.6 257.4,177.8 258.0,178.8 258.6,179.8 259.2,180.6 259.8,181.5 260.4,182.2 261.0,182.8 261.6,183.4 262.2,183.9 262.8,184.3 263.4,184.6 264.0,184.8 264.6,184.9 265.3,185.0 265.9,184.9 266.5,184.8 267.1,184.6 267.7,184.3 268.3,183.9 268.9,183.4 269.5,182.8 270.1,182.2 270.7,181.4 271.3,180.6" stroke="#3ec6f0"/>
<polyline points="203.9,180.9 204.5,181.0 205.1,181.0 205.7,181.1 206.3,181.2 206.9,181.2 207.5,181.3 208.1,181.4 208.7,181.5 209.3,181.6 209.9,181.7 210.6,181.8 211.2,181.9 211.8,182.0 212.4,182.1 213.0,182.2 213.6,182.3 214.2,182.4 214.8,182.5 215.4,182.6 216.0,182.7 216.6,182.8 217.2,182.9 217.8,183.0 218.5,183.0 219.1,183.1 219.7,183.1 220.3,183.1 220.9,183.1 221.5,183.1 222.1,183.0 222.7,182.9 223.3,182.8 223.9,182.6 224.5,182.4 225.1,182.1 225.7,181.8 226.4,181.5 227.0,181.1 227.6,180.6 228.2,180.1 228.8,179.5 229.4,178.8 230.0,178.1 230.6,177.3 231.2,176.4 231.8,175.5 232.4,174.4 233.0,173.4 233.6,172.2 234.3,171.0 234.9,169.7 235.5,168.4 236.1,166.9 236.7,165.5 237.3,164.0 237.9,162.4 238.5,160.8 239.1,159.1 239.7,157.4 240.3,155.7 240.9,153.9 241.5,152.2 242.2,150.4 242.8,148.6 243.4,146.9 244.0,145.1 244.6,143.4 245.2,141.7 245.8,140.1 246.4,138.5 247.0,137.0 247.6,135.5 248.2,134.1 248.8,132.8 249.4,131.6 250.1,130.5 250.7,129.5 251.3,128.6 251.9,127.8 252.5,127.1 253.1,126.6 253.7,126.2 254.3,125.9 254.9,125.7 255.5,125.7 256.1,125.9 256.7,126.2 257.4,126.6 258.0,127.2 258.6,127.9 259.2,128.8 259.8,129.9 260.4,131.1 261.0,132.4 261.6,134.0 262.2,135.7 262.8,137.5 263.4,139.5 264.0,141.7 264.6,144.0 265.3,146.5 265.9,149.1 266.5,151.9 267.1,154.9 267.7,158.1 268.3,161.4 268.9,164.8 269.5,168.4 270.1,172.2 270.7,176.2 271.3,180.3" stroke="#9288d8"/>
<polyline points="161.9,180.4 162.5,180.4 163.1,180.4 163.8,180.4 164.4,180.4 165.0,180.4 165.6,180.4 166.2,180.4 166.8,180.4 167.4,180.4 168.0,180.4 168.6,180.4 169.2,180.4 169.8,180.4 170.4,180.4 171.0,180.4 171.7,180.4 172.3,180.4 172.9,180.4 173.5,180.4 174.1,180.4 174.7,180.4 175.3,180.4 175.9,180.4 176.5,180.4 177.1,180.4 177.7,180.4 178.3,180.4 178.9,180.4 179.6,180.4 180.2,180.4 180.8,180.4 181.4,180.4 182.0,180.4 182.6,180.4 183.2,180.4 183.8,180.4 184.4,180.4 185.0,180.4 185.6,180.4 186.2,180.4 186.8,180.4 187.5,180.4 188.1,180.4 188.7,180.4 189.3,180.4 189.9,180.4 190.5,180.4 191.1,180.4 191.7,180.4 192.3,180.4 192.9,180.4 193.5,180.4 194.1,180.4 194.8,180.4 195.4,180.4 196.0,180.4 196.6,180.4 197.2,180.4 197.8,180.4 198.4,180.4 199.0,180.4 199.6,180.4 200.2,180.4 200.8,180.4 201.4,180.4 202.0,180.4 202.7,180.4 203.3,180.4 203.9,180.4 204.5,180.4 205.1,180.4 205.7,180.4 206.3,180.4 206.9,180.4 207.5,180.4 208.1,180.4 208.7,180.5 209.3,180.5 209.9,180.5 210.6,180.5 211.2,180.5 211.8,180.5 212.4,180.5 213.0,180.5 213.6,180.5 214.2,180.5 214.8,180.5 215.4,180.6 216.0,180.6 216.6,180.6 217.2,180.6 217.8,180.6 218.5,180.7 219.1,180.7 219.7,180.7 220.3,180.8 220.9,180.8 221.5,180.9 222.1,180.9 222.7,181.0 223.3,181.0 223.9,181.1 224.5,181.2 225.1,181.2 225.7,181.3 226.4,181.4 227.0,181.5 227.6,181.6 228.2,181.7 228.8,181.8 229.4,181.9 230.0,182.0 230.6,182.1 231.2,182.2 231.8,182.4 232.4,182.5 233.0,182.6 233.6,182.7 234.3,182.9 234.9,183.0 235.5,183.1 236.1,183.2 236.7,183.3 237.3,183.4 237.9,183.5 238.5,183.6 239.1,183.7 239.7,183.7 240.3,183.8 240.9,183.8 241.5,183.8 242.2,183.8 242.8,183.7 243.4,183.7 244.0,183.5 244.6,183.4 245.2,183.2 245.8,183.0 246.4,182.7 247.0,182.4 247.6,182.0 248.2,181.6 248.8,181.2 249.4,180.6 250.1,180.1 250.7,179.4 251.3,178.7 251.9,177.9 252.5,177.1 253.1,176.2 253.7,175.2 254.3,174.2 254.9,173.1 255.5,171.9 256.1,170.6 256.7,169.3 257.4,167.9 258.0,166.4 258.6,164.9 259.2,163.2 259.8,161.5 260.4,159.8 261.0,157.9 261.6,155.9 262.2,153.9 262.8,151.8 263.4,149.7 264.0,147.4 264.6,145.1 265.3,142.7 265.9,140.2 266.5,137.6 267.1,135.0 267.7,132.2 268.3,129.4 268.9,126.5 269.5,123.6 270.1,120.5 270.7,117.4 271.3,114.2" stroke="#383e9c"/>
</g>
<rect x="161.93" y="107.55" width="109.40" height="79.50" fill="none" stroke="#555" stroke-width="0.7"/>
<rect x="161.33" y="187.05" width="1.2" height="1.4" fill="#111"/>
<rect x="179.56" y="187.05" width="1.2" height="1.4" fill="#111"/>
<rect x="197.80" y="187.05" width="1.2" height="1.4" fill="#111"/>
<rect x="216.03" y="187.05" width="1.2" height="1.4" fill="#111"/>
<rect x="234.26" y="187.05" width="1.2" height="1.4" fill="#111"/>
<rect x="252.50" y="187.05" width="1.2" height="1.4" fill="#111"/>
<rect x="270.73" y="187.05" width="1.2" height="1.4" fill="#111"/>
<rect x="160.53" y="179.83" width="1.4" height="1.2" fill="#111"/>
<rect x="160.53" y="163.26" width="1.4" height="1.2" fill="#111"/>
<rect x="160.53" y="146.70" width="1.4" height="1.2" fill="#111"/>
<rect x="160.53" y="130.14" width="1.4" height="1.2" fill="#111"/>
<rect x="160.53" y="113.58" width="1.4" height="1.2" fill="#111"/>
<text class="tk" transform="translate(158.63,182.83) scale(1,1.1)" text-anchor="end">0.00</text>
<text class="tk" transform="translate(158.63,166.26) scale(1,1.1)" text-anchor="end">0.25</text>
<text class="tk" transform="translate(158.63,149.70) scale(1,1.1)" text-anchor="end">0.50</text>
<text class="tk" transform="translate(158.63,133.14) scale(1,1.1)" text-anchor="end">0.75</text>
<text class="tk" transform="translate(158.63,116.57) scale(1,1.1)" text-anchor="end">1.00</text>
<text class="ti" x="216.63" y="104.65" font-size="8.5" text-anchor="middle">2-order; 3-simpleces support</text>
<clipPath id="c12"><rect x="296.56" y="107.55" width="109.40" height="79.50"/></clipPath>
<line x1="296.56" y1="107.55" x2="296.56" y2="187.05" stroke="#cccccc" stroke-width="0.55" stroke-dasharray="2.1,1.5"/>
<line x1="314.79" y1="107.55" x2="314.79" y2="187.05" stroke="#cccccc" stroke-width="0.55" stroke-dasharray="2.1,1.5"/>
<line x1="333.03" y1="107.55" x2="333.03" y2="187.05" stroke="#cccccc" stroke-width="0.55" stroke-dasharray="2.1,1.5"/>
<line x1="351.26" y1="107.55" x2="351.26" y2="187.05" stroke="#cccccc" stroke-width="0.55" stroke-dasharray="2.1,1.5"/>
<line x1="369.49" y1="107.55" x2="369.49" y2="187.05" stroke="#cccccc" stroke-width="0.55" stroke-dasharray="2.1,1.5"/>
<line x1="387.73" y1="107.55" x2="387.73" y2="187.05" stroke="#cccccc" stroke-width="0.55" stroke-dasharray="2.1,1.5"/>
<line x1="405.96" y1="107.55" x2="405.96" y2="187.05" stroke="#cccccc" stroke-width="0.55" stroke-dasharray="2.1,1.5"/>
<line x1="296.56" y1="180.43" x2="405.96" y2="180.43" stroke="#cccccc" stroke-width="0.55" stroke-dasharray="2.1,1.5"/>
<line x1="296.56" y1="163.86" x2="405.96" y2="163.86" stroke="#cccccc" stroke-width="0.55" stroke-dasharray="2.1,1.5"/>
<line x1="296.56" y1="147.30" x2="405.96" y2="147.30" stroke="#cccccc" stroke-width="0.55" stroke-dasharray="2.1,1.5"/>
<line x1="296.56" y1="130.74" x2="405.96" y2="130.74" stroke="#cccccc" stroke-width="0.55" stroke-dasharray="2.1,1.5"/>
<line x1="296.56" y1="114.17" x2="405.96" y2="114.17" stroke="#cccccc" stroke-width="0.55" stroke-dasharray="2.1,1.5"/>
<g clip-path="url(#c12)" fill="none" stroke-width="1.15" stroke-linejoin="round">
<polyline points="296.6,114.9 297.2,117.8 297.8,120.6 298.4,123.4 299.0,126.0 299.6,128.6 300.2,131.1 300.8,133.5 301.4,135.9 302.0,138.2 302.6,140.4 303.2,142.5 303.9,144.6 304.5,146.6 305.1,148.5 305.7,150.4 306.3,152.2 306.9,153.9 307.5,155.6 308.1,157.2 308.7,158.8 309.3,160.3 309.9,161.7 310.5,163.1 311.1,164.4 311.8,165.6 312.4,166.8 313.0,168.0 313.6,169.1 314.2,170.1 314.8,171.1 315.4,172.0 316.0,172.9 316.6,173.8 317.2,174.6 317.8,175.3 318.4,176.0 319.0,176.7 319.7,177.3 320.3,177.9 320.9,178.4 321.5,179.0 322.1,179.4 322.7,179.9 323.3,180.3 323.9,180.7 324.5,181.0 325.1,181.3 325.7,181.6 326.3,181.9 326.9,182.1 327.6,182.3 328.2,182.5 328.8,182.7 329.4,182.8 330.0,182.9 330.6,183.1 331.2,183.1 331.8,183.2 332.4,183.3 333.0,183.3 333.6,183.4 334.2,183.4 334.9,183.4 335.5,183.4 336.1,183.4 336.7,183.3 337.3,183.3 337.9,183.3 338.5,183.2 339.1,183.2 339.7,183.1 340.3,183.1 340.9,183.0 341.5,182.9 342.1,182.9 342.8,182.8 343.4,182.7 344.0,182.6 344.6,182.6 345.2,182.5 345.8,182.4 346.4,182.3 347.0,182.2 347.6,182.2 348.2,182.1 348.8,182.0 349.4,181.9 350.0,181.9 350.7,181.8 351.3,181.7 351.9,181.7 352.5,181.6 353.1,181.5 353.7,181.5 354.3,181.4 354.9,181.3 355.5,181.3 356.1,181.2 356.7,181.2 357.3,181.1 357.9,181.1 358.6,181.1 359.2,181.0 359.8,181.0 360.4,180.9 361.0,180.9 361.6,180.9 362.2,180.8 362.8,180.8 363.4,180.8 364.0,180.8 364.6,180.7 365.2,180.7 365.8,180.7" stroke="#962a30"/>
<polyline points="367.1,180.6 367.7,180.6 368.3,180.6 368.9,180.6 369.5,180.6 370.1,180.6 370.7,180.6 371.3,180.5 371.9,180.5 372.5,180.5 373.1,180.5 373.7,180.5 374.4,180.5 375.0,180.5 375.6,180.5 376.2,180.5 376.8,180.5 377.4,180.5 378.0,180.5 378.6,180.5 379.2,180.5 379.8,180.5 380.4,180.5" stroke="#962a30"/>
<polyline points="296.6,178.2 297.2,175.0 297.8,172.0 298.4,169.1 299.0,166.4 299.6,163.8 300.2,161.3 300.8,159.0 301.4,156.9 302.0,154.9 302.6,153.0 303.2,151.2 303.9,149.6 304.5,148.1 305.1,146.7 305.7,145.5 306.3,144.4 306.9,143.4 307.5,142.5 308.1,141.7 308.7,141.0 309.3,140.5 309.9,140.0 310.5,139.6 311.1,139.4 311.8,139.2 312.4,139.1 313.0,139.1 313.6,139.2 314.2,139.4 314.8,139.6 315.4,139.9 316.0,140.3 316.6,140.7 317.2,141.2 317.8,141.8 318.4,142.4 319.0,143.1 319.7,143.8 320.3,144.6 320.9,145.4 321.5,146.2 322.1,147.1 322.7,148.0 323.3,148.9 323.9,149.8 324.5,150.8 325.1,151.8 325.7,152.8 326.3,153.8 326.9,154.8 327.6,155.8 328.2,156.8 328.8,157.9 329.4,158.9 330.0,159.9 330.6,160.9 331.2,161.9 331.8,162.9 332.4,163.9 333.0,164.8 333.6,165.8 334.2,166.7 334.9,167.6 335.5,168.5 336.1,169.3 336.7,170.1 337.3,170.9 337.9,171.7 338.5,172.5 339.1,173.2 339.7,173.9 340.3,174.5 340.9,175.2 341.5,175.8 342.1,176.4 342.8,176.9 343.4,177.4 344.0,177.9 344.6,178.4 345.2,178.8 345.8,179.2 346.4,179.6 347.0,180.0 347.6,180.3 348.2,180.6 348.8,180.9 349.4,181.1 350.0,181.4 350.7,181.6 351.3,181.8 351.9,181.9 352.5,182.1 353.1,182.2 353.7,182.3 354.3,182.4 354.9,182.5 355.5,182.6 356.1,182.6 356.7,182.6 357.3,182.7 357.9,182.7 358.6,182.7 359.2,182.7 359.8,182.7 360.4,182.7 361.0,182.6 361.6,182.6 362.2,182.6 362.8,182.5 363.4,182.5 364.0,182.4 364.6,182.4 365.2,182.3 365.8,182.3 366.5,182.2 367.1,182.1 367.7,182.1 368.3,182.0 368.9,181.9 369.5,181.9 370.1,181.8 370.7,181.8 371.3,181.7 371.9,181.6 372.5,181.6 373.1,181.5 373.7,181.5 374.4,181.4 375.0,181.4 375.6,181.3 376.2,181.3 376.8,181.2 377.4,181.2 378.0,181.1 378.6,181.1 379.2,181.0 379.8,181.0 380.4,181.0 381.0,180.9 381.6,180.9 382.3,180.9 382.9,180.8 383.5,180.8 384.1,180.8 384.7,180.7 385.3,180.7 385.9,180.7 386.5,180.7 387.1,180.6 387.7,180.6 388.3,180.6 388.9,180.6 389.6,180.6 390.2,180.6 390.8,180.6 391.4,180.5 392.0,180.5 392.6,180.5 393.2,180.5 393.8,180.5 394.4,180.5 395.0,180.5 395.6,180.5 396.2,180.5 396.8,180.5 397.5,180.5 398.1,180.5" stroke="#f0323f"/>
<polyline points="296.6,182.4 297.2,182.4 297.8,182.3 298.4,182.1 299.0,181.9 299.6,181.6 300.2,181.3 300.8,180.8 301.4,180.4 302.0,179.8 302.6,179.2 303.2,178.6 303.9,177.9 304.5,177.1 305.1,176.3 305.7,175.5 306.3,174.6 306.9,173.7 307.5,172.7 308.1,171.8 308.7,170.8 309.3,169.7 309.9,168.7 310.5,167.6 311.1,166.5 311.8,165.4 312.4,164.3 313.0,163.2 313.6,162.1 314.2,161.0 314.8,159.9 315.4,158.8 316.0,157.7 316.6,156.6 317.2,155.6 317.8,154.5 318.4,153.5 319.0,152.5 319.7,151.6 320.3,150.6 320.9,149.7 321.5,148.9 322.1,148.0 322.7,147.3 323.3,146.5 323.9,145.8 324.5,145.2 325.1,144.6 325.7,144.0 326.3,143.5 326.9,143.1 327.6,142.7 328.2,142.3 328.8,142.0 329.4,141.8 330.0,141.7 330.6,141.5 331.2,141.5 331.8,141.5 332.4,141.5 333.0,141.7 333.6,141.8 334.2,142.1 334.9,142.3 335.5,142.7 336.1,143.1 336.7,143.5 337.3,144.0 337.9,144.5 338.5,145.1 339.1,145.7 339.7,146.4 340.3,147.1 340.9,147.8 341.5,148.6 342.1,149.4 342.8,150.2 343.4,151.1 344.0,151.9 344.6,152.8 345.2,153.8 345.8,154.7 346.4,155.7 347.0,156.6 347.6,157.6 348.2,158.6 348.8,159.5 349.4,160.5 350.0,161.5 350.7,162.5 351.3,163.4 351.9,164.4 352.5,165.3 353.1,166.2 353.7,167.1 354.3,168.0 354.9,168.9 355.5,169.8 356.1,170.6 356.7,171.4 357.3,172.2 357.9,172.9 358.6,173.7 359.2,174.4 359.8,175.0 360.4,175.7 361.0,176.3 361.6,176.9 362.2,177.5 362.8,178.0 363.4,178.5 364.0,179.0 364.6,179.4 365.2,179.8 365.8,180.2 366.5,180.6 367.1,180.9 367.7,181.2 368.3,181.5 368.9,181.8 369.5,182.0 370.1,182.2 370.7,182.4 371.3,182.6 371.9,182.7 372.5,182.9 373.1,183.0 373.7,183.1 374.4,183.2 375.0,183.2 375.6,183.3 376.2,183.3 376.8,183.3 377.4,183.3 378.0,183.3 378.6,183.3 379.2,183.3 379.8,183.2 380.4,183.2 381.0,183.2 381.6,183.1 382.3,183.0 382.9,183.0 383.5,182.9 384.1,182.8 384.7,182.8 385.3,182.7 385.9,182.6 386.5,182.5 387.1,182.4 387.7,182.3 388.3,182.2 388.9,182.1 389.6,182.1 390.2,182.0 390.8,181.9 391.4,181.8 392.0,181.7 392.6,181.6 393.2,181.5 393.8,181.5 394.4,181.4 395.0,181.3 395.6,181.2 396.2,181.2 396.8,181.1 397.5,181.0 398.1,181.0 398.7,180.9 399.3,180.8 399.9,180.8 400.5,180.7 401.1,180.7 401.7,180.6 402.3,180.6 402.9,180.5 403.5,180.5 404.1,180.4" stroke="#f6cc14"/>
<polyline points="298.4,180.8 299.0,181.1 299.6,181.4 300.2,181.6 300.8,181.9 301.4,182.1 302.0,182.3 302.6,182.5 303.2,182.7 303.9,182.9 304.5,183.1 305.1,183.2 305.7,183.4 306.3,183.5 306.9,183.6 307.5,183.7 308.1,183.7 308.7,183.8 309.3,183.8 309.9,183.8 310.5,183.7 311.1,183.7 311.8,183.6 312.4,183.5 313.0,183.3 313.6,183.2 314.2,183.0 314.8,182.7 315.4,182.5 316.0,182.2 316.6,181.9 317.2,181.5 317.8,181.1 318.4,180.7 319.0,180.3 319.7,179.8 320.3,179.3 320.9,178.8 321.5,178.2 322.1,177.6 322.7,176.9 323.3,176.3 323.9,175.6 324.5,174.9 325.1,174.1 325.7,173.3 326.3,172.5 326.9,171.7 327.6,170.8 328.2,170.0 328.8,169.1 329.4,168.2 330.0,167.2 330.6,166.3 331.2,165.3 331.8,164.4 332.4,163.4 333.0,162.4 333.6,161.5 334.2,160.5 334.9,159.5 335.5,158.5 336.1,157.5 336.7,156.6 337.3,155.6 337.9,154.7 338.5,153.8 339.1,152.9 339.7,152.0 340.3,151.2 340.9,150.4 341.5,149.6 342.1,148.8 342.8,148.1 343.4,147.4 344.0,146.8 344.6,146.2 345.2,145.7 345.8,145.2 346.4,144.7 347.0,144.3 347.6,143.9 348.2,143.6 348.8,143.4 349.4,143.2 350.0,143.1 350.7,143.0 351.3,142.9 351.9,143.0 352.5,143.1 353.1,143.2 353.7,143.4 354.3,143.6 354.9,143.9 355.5,144.3 356.1,144.7 356.7,145.2 357.3,145.7 357.9,146.2 358.6,146.8 359.2,147.4 359.8,148.1 360.4,148.8 361.0,149.6 361.6,150.4 362.2,151.2 362.8,152.0 363.4,152.9 364.0,153.8 364.6,154.7 365.2,155.6 365.8,156.6 366.5,157.5 367.1,158.5 367.7,159.5 368.3,160.5 368.9,161.5 369.5,162.4 370.1,163.4 370.7,164.4 371.3,165.3 371.9,166.3 372.5,167.2 373.1,168.2 373.7,169.1 374.4,170.0 375.0,170.8 375.6,171.7 376.2,172.5 376.8,173.3 377.4,174.1 378.0,174.9 378.6,175.6 379.2,176.3 379.8,176.9 380.4,177.6 381.0,178.2 381.6,178.8 382.3,179.3 382.9,179.8 383.5,180.3 384.1,180.7 384.7,181.1 385.3,181.5 385.9,181.9 386.5,182.2 387.1,182.5 387.7,182.7 388.3,183.0 388.9,183.2 389.6,183.3 390.2,183.5 390.8,183.6 391.4,183.7 392.0,183.7 392.6,183.8 393.2,183.8 393.8,183.8 394.4,183.7 395.0,183.7 395.6,183.6 396.2,183.5 396.8,183.4 397.5,183.2 398.1,183.1 398.7,182.9 399.3,182.7 399.9,182.5 400.5,182.3 401.1,182.1 401.7,181.9 402.3,181.6 402.9,181.4 403.5,181.1 404.1,180.8 404.7,180.6 405.4,180.3 406.0,180.0" stroke="#78cf96"/>
<polyline points="304.5,181.0 305.1,181.0 305.7,181.1 306.3,181.2 306.9,181.2 307.5,181.3 308.1,181.4 308.7,181.5 309.3,181.5 309.9,181.6 310.5,181.7 311.1,181.8 311.8,181.9 312.4,182.0 313.0,182.1 313.6,182.1 314.2,182.2 314.8,182.3 315.4,182.4 316.0,182.5 316.6,182.6 317.2,182.7 317.8,182.8 318.4,182.8 319.0,182.9 319.7,183.0 320.3,183.0 320.9,183.1 321.5,183.2 322.1,183.2 322.7,183.2 323.3,183.3 323.9,183.3 324.5,183.3 325.1,183.3 325.7,183.3 326.3,183.3 326.9,183.3 327.6,183.2 328.2,183.2 328.8,183.1 329.4,183.0 330.0,182.9 330.6,182.7 331.2,182.6 331.8,182.4 332.4,182.2 333.0,182.0 333.6,181.8 334.2,181.5 334.9,181.2 335.5,180.9" stroke="#3ec6f0"/>
<polyline points="336.7,180.2 337.3,179.8 337.9,179.4 338.5,179.0 339.1,178.5 339.7,178.0 340.3,177.5 340.9,176.9 341.5,176.3 342.1,175.7 342.8,175.0 343.4,174.4 344.0,173.7 344.6,172.9 345.2,172.2 345.8,171.4 346.4,170.6 347.0,169.8 347.6,168.9 348.2,168.0 348.8,167.1 349.4,166.2 350.0,165.3 350.7,164.4 351.3,163.4 351.9,162.5 352.5,161.5 353.1,160.5 353.7,159.5 354.3,158.6 354.9,157.6 355.5,156.6 356.1,155.7 356.7,154.7 357.3,153.8 357.9,152.8 358.6,151.9 359.2,151.1 359.8,150.2 360.4,149.4 361.0,148.6 361.6,147.8 362.2,147.1 362.8,146.4 363.4,145.7 364.0,145.1 364.6,144.5 365.2,144.0 365.8,143.5 366.5,143.1 367.1,142.7 367.7,142.3 368.3,142.1 368.9,141.8 369.5,141.7 370.1,141.5 370.7,141.5 371.3,141.5 371.9,141.5 372.5,141.7 373.1,141.8 373.7,142.0 374.4,142.3 375.0,142.7 375.6,143.1 376.2,143.5 376.8,144.0 377.4,144.6 378.0,145.2 378.6,145.8 379.2,146.5 379.8,147.3 380.4,148.0 381.0,148.9 381.6,149.7 382.3,150.6 382.9,151.6 383.5,152.5 384.1,153.5 384.7,154.5 385.3,155.6 385.9,156.6 386.5,157.7 387.1,158.8 387.7,159.9 388.3,161.0 388.9,162.1 389.6,163.2 390.2,164.3 390.8,165.4 391.4,166.5 392.0,167.6 392.6,168.7 393.2,169.7 393.8,170.8 394.4,171.8 395.0,172.7 395.6,173.7 396.2,174.6 396.8,175.5 397.5,176.3 398.1,177.1 398.7,177.9 399.3,178.6 399.9,179.2 400.5,179.8 401.1,180.4 401.7,180.8 402.3,181.3 402.9,181.6 403.5,181.9 404.1,182.1 404.7,182.3 405.4,182.4 406.0,182.4" stroke="#3ec6f0"/>
<polyline points="322.1,181.0 322.7,181.0 323.3,181.0 323.9,181.1 324.5,181.1 325.1,181.2 325.7,181.2 326.3,181.3 326.9,181.3 327.6,181.4 328.2,181.4 328.8,181.5 329.4,181.5 330.0,181.6 330.6,181.6 331.2,181.7 331.8,181.8 332.4,181.8 333.0,181.9 333.6,181.9 334.2,182.0 334.9,182.1 335.5,182.1 336.1,182.2 336.7,182.3 337.3,182.3 337.9,182.4 338.5,182.4 339.1,182.5 339.7,182.5 340.3,182.6 340.9,182.6 341.5,182.6 342.1,182.7 342.8,182.7 343.4,182.7 344.0,182.7 344.6,182.7 345.2,182.7 345.8,182.6 346.4,182.6 347.0,182.6 347.6,182.5 348.2,182.4 348.8,182.3 349.4,182.2 350.0,182.1 350.7,181.9 351.3,181.8 351.9,181.6 352.5,181.4 353.1,181.1 353.7,180.9 354.3,180.6 354.9,180.3 355.5,180.0 356.1,179.6 356.7,179.2 357.3,178.8 357.9,178.4 358.6,177.9 359.2,177.4 359.8,176.9 360.4,176.4 361.0,175.8 361.6,175.2 362.2,174.5 362.8,173.9 363.4,173.2 364.0,172.5 364.6,171.7 365.2,170.9 365.8,170.1 366.5,169.3 367.1,168.5 367.7,167.6 368.3,166.7 368.9,165.8 369.5,164.8 370.1,163.9 370.7,162.9 371.3,161.9 371.9,160.9 372.5,159.9 373.1,158.9 373.7,157.9 374.4,156.8 375.0,155.8 375.6,154.8 376.2,153.8 376.8,152.8 377.4,151.8 378.0,150.8 378.6,149.8 379.2,148.9 379.8,148.0 380.4,147.1 381.0,146.2 381.6,145.4 382.3,144.6 382.9,143.8 383.5,143.1 384.1,142.4 384.7,141.8 385.3,141.2 385.9,140.7 386.5,140.3 387.1,139.9 387.7,139.6 388.3,139.4 388.9,139.2 389.6,139.1 390.2,139.1 390.8,139.2 391.4,139.4 392.0,139.6 392.6,140.0 393.2,140.5 393.8,141.0 394.4,141.7 395.0,142.5 395.6,143.4 396.2,144.4 396.8,145.5 397.5,146.7 398.1,148.1 398.7,149.6 399.3,151.2 399.9,153.0 400.5,154.9 401.1,156.9 401.7,159.0 402.3,161.3 402.9,163.8 403.5,166.4 404.1,169.1 404.7,172.0 405.4,175.0 406.0,178.2" stroke="#9288d8"/>
<polyline points="296.6,180.4 297.2,180.4 297.8,180.4 298.4,180.4 299.0,180.4 299.6,180.4 300.2,180.4 300.8,180.4 301.4,180.4 302.0,180.4 302.6,180.4 303.2,180.4 303.9,180.4 304.5,180.4 305.1,180.4 305.7,180.4 306.3,180.4 306.9,180.4 307.5,180.4 308.1,180.4 308.7,180.4 309.3,180.4 309.9,180.4 310.5,180.4 311.1,180.4 311.8,180.4 312.4,180.4 313.0,180.4 313.6,180.4 314.2,180.4 314.8,180.4 315.4,180.4 316.0,180.4 316.6,180.4 317.2,180.4 317.8,180.4 318.4,180.4 319.0,180.4 319.7,180.4 320.3,180.4 320.9,180.4 321.5,180.5 322.1,180.5 322.7,180.5 323.3,180.5 323.9,180.5 324.5,180.5 325.1,180.5 325.7,180.5 326.3,180.5 326.9,180.5 327.6,180.5 328.2,180.5 328.8,180.5 329.4,180.5 330.0,180.5 330.6,180.5 331.2,180.5 331.8,180.6 332.4,180.6 333.0,180.6 333.6,180.6 334.2,180.6 334.9,180.6 335.5,180.6 336.1,180.7 336.7,180.7 337.3,180.7 337.9,180.7 338.5,180.8 339.1,180.8 339.7,180.8 340.3,180.8 340.9,180.9 341.5,180.9 342.1,180.9 342.8,181.0 343.4,181.0 344.0,181.1 344.6,181.1 345.2,181.1 345.8,181.2 346.4,181.2 347.0,181.3 347.6,181.3 348.2,181.4 348.8,181.5 349.4,181.5 350.0,181.6 350.7,181.7 351.3,181.7 351.9,181.8 352.5,181.9 353.1,181.9 353.7,182.0 354.3,182.1 354.9,182.2 355.5,182.2 356.1,182.3 356.7,182.4 357.3,182.5 357.9,182.6 358.6,182.6 359.2,182.7 359.8,182.8 360.4,182.9 361.0,182.9 361.6,183.0 362.2,183.1 362.8,183.1 363.4,183.2 364.0,183.2 364.6,183.3 365.2,183.3 365.8,183.3 366.5,183.4 367.1,183.4 367.7,183.4 368.3,183.4 368.9,183.4 369.5,183.3 370.1,183.3 370.7,183.2 371.3,183.1 371.9,183.1 372.5,182.9 373.1,182.8 373.7,182.7 374.4,182.5 375.0,182.3 375.6,182.1 376.2,181.9 376.8,181.6 377.4,181.3 378.0,181.0 378.6,180.7 379.2,180.3 379.8,179.9 380.4,179.4 381.0,179.0 381.6,178.4 382.3,177.9 382.9,177.3 383.5,176.7 384.1,176.0 384.7,175.3 385.3,174.6 385.9,173.8 386.5,172.9 387.1,172.0 387.7,171.1 388.3,170.1 388.9,169.1 389.6,168.0 390.2,166.8 390.8,165.6 391.4,164.4 392.0,163.1 392.6,161.7 393.2,160.3 393.8,158.8 394.4,157.2 395.0,155.6 395.6,153.9 396.2,152.2 396.8,150.4 397.5,148.5 398.1,146.6 398.7,144.6 399.3,142.5 399.9,140.4 400.5,138.2 401.1,135.9 401.7,133.5 402.3,131.1 402.9,128.6 403.5,126.0 404.1,123.4 404.7,120.6 405.4,117.8 406.0,114.9" stroke="#383e9c"/>
</g>
<rect x="296.56" y="107.55" width="109.40" height="79.50" fill="none" stroke="#555" stroke-width="0.7"/>
<rect x="295.96" y="187.05" width="1.2" height="1.4" fill="#111"/>
<rect x="314.19" y="187.05" width="1.2" height="1.4" fill="#111"/>
<rect x="332.43" y="187.05" width="1.2" height="1.4" fill="#111"/>
<rect x="350.66" y="187.05" width="1.2" height="1.4" fill="#111"/>
<rect x="368.89" y="187.05" width="1.2" height="1.4" fill="#111"/>
<rect x="387.13" y="187.05" width="1.2" height="1.4" fill="#111"/>
<rect x="405.36" y="187.05" width="1.2" height="1.4" fill="#111"/>
<rect x="295.16" y="179.83" width="1.4" height="1.2" fill="#111"/>
<rect x="295.16" y="163.26" width="1.4" height="1.2" fill="#111"/>
<rect x="295.16" y="146.70" width="1.4" height="1.2" fill="#111"/>
<rect x="295.16" y="130.14" width="1.4" height="1.2" fill="#111"/>
<rect x="295.16" y="113.58" width="1.4" height="1.2" fill="#111"/>
<text class="tk" transform="translate(293.26,182.83) scale(1,1.1)" text-anchor="end">0.00</text>
<text class="tk" transform="translate(293.26,166.26) scale(1,1.1)" text-anchor="end">0.25</text>
<text class="tk" transform="translate(293.26,149.70) scale(1,1.1)" text-anchor="end">0.50</text>
<text class="tk" transform="translate(293.26,133.14) scale(1,1.1)" text-anchor="end">0.75</text>
<text class="tk" transform="translate(293.26,116.57) scale(1,1.1)" text-anchor="end">1.00</text>
<text class="ti" x="351.26" y="104.65" font-size="8.5" text-anchor="middle">2-order; 4-simpleces support</text>
<clipPath id="c13"><rect x="431.20" y="107.55" width="109.40" height="79.50"/></clipPath>
<line x1="431.20" y1="107.55" x2="431.20" y2="187.05" stroke="#cccccc" stroke-width="0.55" stroke-dasharray="2.1,1.5"/>
<line x1="449.43" y1="107.55" x2="449.43" y2="187.05" stroke="#cccccc" stroke-width="0.55" stroke-dasharray="2.1,1.5"/>
<line x1="467.67" y1="107.55" x2="467.67" y2="187.05" stroke="#cccccc" stroke-width="0.55" stroke-dasharray="2.1,1.5"/>
<line x1="485.90" y1="107.55" x2="485.90" y2="187.05" stroke="#cccccc" stroke-width="0.55" stroke-dasharray="2.1,1.5"/>
<line x1="504.13" y1="107.55" x2="504.13" y2="187.05" stroke="#cccccc" stroke-width="0.55" stroke-dasharray="2.1,1.5"/>
<line x1="522.37" y1="107.55" x2="522.37" y2="187.05" stroke="#cccccc" stroke-width="0.55" stroke-dasharray="2.1,1.5"/>
<line x1="540.60" y1="107.55" x2="540.60" y2="187.05" stroke="#cccccc" stroke-width="0.55" stroke-dasharray="2.1,1.5"/>
<line x1="431.20" y1="180.43" x2="540.60" y2="180.43" stroke="#cccccc" stroke-width="0.55" stroke-dasharray="2.1,1.5"/>
<line x1="431.20" y1="163.86" x2="540.60" y2="163.86" stroke="#cccccc" stroke-width="0.55" stroke-dasharray="2.1,1.5"/>
<line x1="431.20" y1="147.30" x2="540.60" y2="147.30" stroke="#cccccc" stroke-width="0.55" stroke-dasharray="2.1,1.5"/>
<line x1="431.20" y1="130.74" x2="540.60" y2="130.74" stroke="#cccccc" stroke-width="0.55" stroke-dasharray="2.1,1.5"/>
<line x1="431.20" y1="114.17" x2="540.60" y2="114.17" stroke="#cccccc" stroke-width="0.55" stroke-dasharray="2.1,1.5"/>
<g clip-path="url(#c13)" fill="none" stroke-width="1.15" stroke-linejoin="round">
<polyline points="431.2,116.6 431.8,119.1 432.4,121.5 433.0,123.9 433.6,126.2 434.2,128.4 434.8,130.6 435.5,132.7 436.1,134.8 436.7,136.8 437.3,138.7 437.9,140.6 438.5,142.4 439.1,144.2 439.7,145.9 440.3,147.6 440.9,149.2 441.5,150.8 442.1,152.3 442.7,153.7 443.4,155.2 444.0,156.5 444.6,157.9 445.2,159.1 445.8,160.4 446.4,161.5 447.0,162.7 447.6,163.8 448.2,164.8 448.8,165.9 449.4,166.8 450.0,167.8 450.6,168.7 451.3,169.5 451.9,170.4 452.5,171.2 453.1,171.9 453.7,172.7 454.3,173.3 454.9,174.0 455.5,174.6 456.1,175.2 456.7,175.8 457.3,176.4 457.9,176.9 458.6,177.4 459.2,177.8 459.8,178.3 460.4,178.7 461.0,179.1 461.6,179.4 462.2,179.8 462.8,180.1" stroke="#962a30"/>
<polyline points="464.0,180.7 464.6,181.0 465.2,181.2 465.8,181.5 466.5,181.7 467.1,181.9 467.7,182.1 468.3,182.2 468.9,182.4 469.5,182.5 470.1,182.6 470.7,182.8 471.3,182.9 471.9,183.0 472.5,183.0 473.1,183.1 473.7,183.2 474.4,183.2 475.0,183.3 475.6,183.3 476.2,183.3 476.8,183.4 477.4,183.4 478.0,183.4 478.6,183.4 479.2,183.4 479.8,183.4 480.4,183.3 481.0,183.3 481.6,183.3 482.3,183.3 482.9,183.2 483.5,183.2 484.1,183.2 484.7,183.1 485.3,183.1 485.9,183.0 486.5,183.0 487.1,182.9 487.7,182.9 488.3,182.8 488.9,182.8 489.5,182.7 490.2,182.7 490.8,182.6 491.4,182.5 492.0,182.5 492.6,182.4 493.2,182.4 493.8,182.3 494.4,182.3 495.0,182.2 495.6,182.1 496.2,182.1 496.8,182.0 497.4,182.0 498.1,181.9 498.7,181.9 499.3,181.8 499.9,181.8 500.5,181.7 501.1,181.7 501.7,181.6 502.3,181.6 502.9,181.5 503.5,181.5 504.1,181.4 504.7,181.4 505.3,181.3 506.0,181.3 506.6,181.2 507.2,181.2 507.8,181.2 508.4,181.1 509.0,181.1 509.6,181.1 510.2,181.0 510.8,181.0 511.4,181.0 512.0,180.9 512.6,180.9 513.2,180.9 513.9,180.9 514.5,180.8 515.1,180.8 515.7,180.8 516.3,180.8 516.9,180.7 517.5,180.7 518.1,180.7 518.7,180.7 519.3,180.7 519.9,180.6 520.5,180.6 521.2,180.6 521.8,180.6 522.4,180.6 523.0,180.6 523.6,180.6 524.2,180.6 524.8,180.5 525.4,180.5" stroke="#962a30"/>
<polyline points="527.2,180.5 527.8,180.5 528.4,180.5 529.1,180.5" stroke="#962a30"/>
<polyline points="431.2,174.2 431.8,172.0 432.4,169.9 433.0,168.0 433.6,166.1 434.2,164.4 434.8,162.7 435.5,161.2 436.1,159.7 436.7,158.4 437.3,157.1 437.9,155.9 438.5,154.9 439.1,153.9 439.7,153.0 440.3,152.2 440.9,151.4 441.5,150.8 442.1,150.2 442.7,149.7 443.4,149.2 444.0,148.8 444.6,148.5 445.2,148.3 445.8,148.1 446.4,147.9 447.0,147.9 447.6,147.9 448.2,147.9 448.8,148.0 449.4,148.1 450.0,148.3 450.6,148.5 451.3,148.7 451.9,149.0 452.5,149.4 453.1,149.7 453.7,150.1 454.3,150.6 454.9,151.0 455.5,151.5 456.1,152.0 456.7,152.5 457.3,153.1 457.9,153.6 458.6,154.2 459.2,154.8 459.8,155.4 460.4,156.1 461.0,156.7 461.6,157.4 462.2,158.0 462.8,158.7 463.4,159.3 464.0,160.0 464.6,160.7 465.2,161.3 465.8,162.0 466.5,162.7 467.1,163.4 467.7,164.0 468.3,164.7 468.9,165.3 469.5,166.0 470.1,166.6 470.7,167.3 471.3,167.9 471.9,168.5 472.5,169.1 473.1,169.7 473.7,170.3 474.4,170.9 475.0,171.5 475.6,172.0 476.2,172.5 476.8,173.1 477.4,173.6 478.0,174.1 478.6,174.6 479.2,175.0 479.8,175.5 480.4,175.9 481.0,176.4 481.6,176.8 482.3,177.2 482.9,177.5 483.5,177.9 484.1,178.3 484.7,178.6 485.3,178.9 485.9,179.2 486.5,179.5 487.1,179.8 487.7,180.1 488.3,180.3 488.9,180.6 489.5,180.8 490.2,181.0 490.8,181.2 491.4,181.4 492.0,181.6 492.6,181.7 493.2,181.9 493.8,182.0 494.4,182.2 495.0,182.3 495.6,182.4 496.2,182.5 496.8,182.6 497.4,182.6 498.1,182.7 498.7,182.8 499.3,182.8 499.9,182.9 500.5,182.9 501.1,182.9 501.7,182.9 502.3,183.0 502.9,183.0 503.5,183.0 504.1,183.0 504.7,182.9 505.3,182.9 506.0,182.9 506.6,182.9 507.2,182.9 507.8,182.8 508.4,182.8 509.0,182.7 509.6,182.7 510.2,182.7 510.8,182.6 511.4,182.6 512.0,182.5 512.6,182.5 513.2,182.4 513.9,182.3 514.5,182.3 515.1,182.2 515.7,182.2 516.3,182.1 516.9,182.0 517.5,182.0 518.1,181.9 518.7,181.9 519.3,181.8 519.9,181.7 520.5,181.7 521.2,181.6 521.8,181.5 522.4,181.5 523.0,181.4 523.6,181.4 524.2,181.3 524.8,181.3 525.4,181.2 526.0,181.2 526.6,181.1 527.2,181.1 527.8,181.0 528.4,181.0 529.1,180.9 529.7,180.9 530.3,180.8 530.9,180.8 531.5,180.7 532.1,180.7 532.7,180.7 533.3,180.6 533.9,180.6 534.5,180.6 535.1,180.5 535.7,180.5 536.3,180.5" stroke="#f0323f"/>
<polyline points="431.2,184.8 431.8,184.1 432.4,183.4 433.0,182.6 433.6,181.8 434.2,181.0 434.8,180.2 435.5,179.3 436.1,178.4 436.7,177.6 437.3,176.7 437.9,175.7 438.5,174.8 439.1,173.9 439.7,172.9 440.3,172.0 440.9,171.1 441.5,170.1 442.1,169.2 442.7,168.2 443.4,167.3 444.0,166.4 444.6,165.5 445.2,164.5 445.8,163.6 446.4,162.8 447.0,161.9 447.6,161.0 448.2,160.2 448.8,159.4 449.4,158.6 450.0,157.8 450.6,157.1 451.3,156.4 451.9,155.7 452.5,155.0 453.1,154.3 453.7,153.7 454.3,153.1 454.9,152.5 455.5,152.0 456.1,151.5 456.7,151.0 457.3,150.6 457.9,150.2 458.6,149.8 459.2,149.5 459.8,149.2 460.4,148.9 461.0,148.6 461.6,148.4 462.2,148.2 462.8,148.1 463.4,148.0 464.0,147.9 464.6,147.8 465.2,147.8 465.8,147.8 466.5,147.9 467.1,148.0 467.7,148.1 468.3,148.2 468.9,148.4 469.5,148.6 470.1,148.8 470.7,149.1 471.3,149.3 471.9,149.7 472.5,150.0 473.1,150.3 473.7,150.7 474.4,151.1 475.0,151.5 475.6,152.0 476.2,152.5 476.8,152.9 477.4,153.4 478.0,154.0 478.6,154.5 479.2,155.0 479.8,155.6 480.4,156.2 481.0,156.8 481.6,157.3 482.3,158.0 482.9,158.6 483.5,159.2 484.1,159.8 484.7,160.4 485.3,161.1 485.9,161.7 486.5,162.4 487.1,163.0 487.7,163.7 488.3,164.3 488.9,164.9 489.5,165.6 490.2,166.2 490.8,166.9 491.4,167.5 492.0,168.1 492.6,168.7 493.2,169.3 493.8,169.9 494.4,170.5 495.0,171.1 495.6,171.7 496.2,172.2 496.8,172.8 497.4,173.3 498.1,173.9 498.7,174.4 499.3,174.9 499.9,175.4 500.5,175.8 501.1,176.3 501.7,176.7 502.3,177.2 502.9,177.6 503.5,178.0 504.1,178.4 504.7,178.7 505.3,179.1 506.0,179.4 506.6,179.8 507.2,180.1 507.8,180.4" stroke="#f6cc14"/>
<polyline points="509.0,180.9 509.6,181.1 510.2,181.4 510.8,181.6 511.4,181.8 512.0,182.0 512.6,182.1 513.2,182.3 513.9,182.4 514.5,182.6 515.1,182.7 515.7,182.8 516.3,182.9 516.9,182.9 517.5,183.0 518.1,183.0 518.7,183.1 519.3,183.1 519.9,183.1 520.5,183.1 521.2,183.1 521.8,183.1 522.4,183.1 523.0,183.0 523.6,183.0 524.2,183.0 524.8,182.9 525.4,182.8 526.0,182.8 526.6,182.7 527.2,182.6 527.8,182.5 528.4,182.4 529.1,182.3 529.7,182.2 530.3,182.1 530.9,182.0 531.5,181.9 532.1,181.7 532.7,181.6 533.3,181.5 533.9,181.4 534.5,181.2 535.1,181.1 535.7,181.0 536.3,180.8 537.0,180.7 537.6,180.6 538.2,180.4 538.8,180.3 539.4,180.1 540.0,180.0 540.6,179.9" stroke="#f6cc14"/>
<polyline points="431.8,180.8 432.4,181.0 433.0,181.2 433.6,181.4 434.2,181.6 434.8,181.7 435.5,181.8 436.1,181.9 436.7,182.0 437.3,182.0 437.9,182.1 438.5,182.1 439.1,182.1 439.7,182.0 440.3,181.9 440.9,181.8 441.5,181.7 442.1,181.6 442.7,181.4 443.4,181.2 444.0,181.0 444.6,180.8" stroke="#78cf96"/>
<polyline points="446.4,179.9 447.0,179.6 447.6,179.2 448.2,178.8 448.8,178.4 449.4,178.0 450.0,177.6 450.6,177.1 451.3,176.6 451.9,176.2 452.5,175.6 453.1,175.1 453.7,174.6 454.3,174.0 454.9,173.4 455.5,172.8 456.1,172.2 456.7,171.6 457.3,171.0 457.9,170.4 458.6,169.7 459.2,169.1 459.8,168.4 460.4,167.8 461.0,167.1 461.6,166.4 462.2,165.8 462.8,165.1 463.4,164.4 464.0,163.8 464.6,163.1 465.2,162.4 465.8,161.8 466.5,161.1 467.1,160.4 467.7,159.8 468.3,159.2 468.9,158.5 469.5,157.9 470.1,157.3 470.7,156.7 471.3,156.2 471.9,155.6 472.5,155.1 473.1,154.5 473.7,154.0 474.4,153.5 475.0,153.1 475.6,152.6 476.2,152.2 476.8,151.8 477.4,151.4 478.0,151.1 478.6,150.7 479.2,150.4 479.8,150.1 480.4,149.9 481.0,149.6 481.6,149.4 482.3,149.2 482.9,149.1 483.5,149.0 484.1,148.9 484.7,148.8 485.3,148.7 485.9,148.7 486.5,148.7 487.1,148.8 487.7,148.9 488.3,149.0 488.9,149.1 489.5,149.2 490.2,149.4 490.8,149.6 491.4,149.9 492.0,150.1 492.6,150.4 493.2,150.7 493.8,151.1 494.4,151.4 495.0,151.8 495.6,152.2 496.2,152.6 496.8,153.1 497.4,153.5 498.1,154.0 498.7,154.5 499.3,155.1 499.9,155.6 500.5,156.2 501.1,156.7 501.7,157.3 502.3,157.9 502.9,158.5 503.5,159.2 504.1,159.8 504.7,160.4 505.3,161.1 506.0,161.8 506.6,162.4 507.2,163.1 507.8,163.8 508.4,164.4 509.0,165.1 509.6,165.8 510.2,166.4 510.8,167.1 511.4,167.8 512.0,168.4 512.6,169.1 513.2,169.7 513.9,170.4 514.5,171.0 515.1,171.6 515.7,172.2 516.3,172.8 516.9,173.4 517.5,174.0 518.1,174.6 518.7,175.1 519.3,175.6 519.9,176.2 520.5,176.6 521.2,177.1 521.8,177.6 522.4,178.0 523.0,178.4 523.6,178.8 524.2,179.2 524.8,179.6 525.4,179.9 526.0,180.2 526.6,180.5 527.2,180.8 527.8,181.0 528.4,181.2 529.1,181.4 529.7,181.6 530.3,181.7 530.9,181.8 531.5,181.9 532.1,182.0 532.7,182.1 533.3,182.1 533.9,182.1 534.5,182.0 535.1,182.0 535.7,181.9 536.3,181.8 537.0,181.7 537.6,181.6 538.2,181.4 538.8,181.2 539.4,181.0 540.0,180.8 540.6,180.5" stroke="#78cf96"/>
<polyline points="431.2,179.9 431.8,180.0" stroke="#3ec6f0"/>
<polyline points="435.5,180.8 436.1,181.0 436.7,181.1 437.3,181.2 437.9,181.4 438.5,181.5 439.1,181.6 439.7,181.7 440.3,181.9 440.9,182.0 441.5,182.1 442.1,182.2 442.7,182.3 443.4,182.4 444.0,182.5 444.6,182.6 445.2,182.7 445.8,182.8 446.4,182.8 447.0,182.9 447.6,183.0 448.2,183.0 448.8,183.0 449.4,183.1 450.0,183.1 450.6,183.1 451.3,183.1 451.9,183.1 452.5,183.1 453.1,183.1 453.7,183.0 454.3,183.0 454.9,182.9 455.5,182.9 456.1,182.8 456.7,182.7 457.3,182.6 457.9,182.4 458.6,182.3 459.2,182.1 459.8,182.0 460.4,181.8 461.0,181.6 461.6,181.4 462.2,181.1 462.8,180.9 463.4,180.6 464.0,180.4 464.6,180.1 465.2,179.8 465.8,179.4 466.5,179.1 467.1,178.7 467.7,178.4 468.3,178.0 468.9,177.6 469.5,177.2 470.1,176.7 470.7,176.3 471.3,175.8 471.9,175.4 472.5,174.9 473.1,174.4 473.7,173.9 474.4,173.3 475.0,172.8 475.6,172.2 476.2,171.7 476.8,171.1 477.4,170.5 478.0,169.9 478.6,169.3 479.2,168.7 479.8,168.1 480.4,167.5 481.0,166.9 481.6,166.2 482.3,165.6 482.9,164.9 483.5,164.3 484.1,163.7 484.7,163.0 485.3,162.4 485.9,161.7 486.5,161.1 487.1,160.4 487.7,159.8 488.3,159.2 488.9,158.6 489.5,158.0 490.2,157.3 490.8,156.8 491.4,156.2 492.0,155.6 492.6,155.0 493.2,154.5 493.8,154.0 494.4,153.4 495.0,152.9 495.6,152.5 496.2,152.0 496.8,151.5 497.4,151.1 498.1,150.7 498.7,150.3 499.3,150.0 499.9,149.7 500.5,149.3 501.1,149.1 501.7,148.8 502.3,148.6 502.9,148.4 503.5,148.2 504.1,148.1 504.7,148.0 505.3,147.9 506.0,147.8 506.6,147.8 507.2,147.8 507.8,147.9 508.4,148.0 509.0,148.1 509.6,148.2 510.2,148.4 510.8,148.6 511.4,148.9 512.0,149.2 512.6,149.5 513.2,149.8 513.9,150.2 514.5,150.6 515.1,151.0 515.7,151.5 516.3,152.0 516.9,152.5 517.5,153.1 518.1,153.7 518.7,154.3 519.3,155.0 519.9,155.7 520.5,156.4 521.2,157.1 521.8,157.8 522.4,158.6 523.0,159.4 523.6,160.2 524.2,161.0 524.8,161.9 525.4,162.8 526.0,163.6 526.6,164.5 527.2,165.5 527.8,166.4 528.4,167.3 529.1,168.2 529.7,169.2 530.3,170.1 530.9,171.1 531.5,172.0 532.1,172.9 532.7,173.9 533.3,174.8 533.9,175.7 534.5,176.7 535.1,177.6 535.7,178.4 536.3,179.3 537.0,180.2 537.6,181.0 538.2,181.8 538.8,182.6 539.4,183.4 540.0,184.1 540.6,184.8" stroke="#3ec6f0"/>
<polyline points="442.7,180.9 443.4,181.0 444.0,181.0 444.6,181.1 445.2,181.1 445.8,181.2 446.4,181.2 447.0,181.3 447.6,181.3 448.2,181.4 448.8,181.4 449.4,181.5 450.0,181.5 450.6,181.6 451.3,181.7 451.9,181.7 452.5,181.8 453.1,181.9 453.7,181.9 454.3,182.0 454.9,182.0 455.5,182.1 456.1,182.2 456.7,182.2 457.3,182.3 457.9,182.3 458.6,182.4 459.2,182.5 459.8,182.5 460.4,182.6 461.0,182.6 461.6,182.7 462.2,182.7 462.8,182.7 463.4,182.8 464.0,182.8 464.6,182.9 465.2,182.9 465.8,182.9 466.5,182.9 467.1,182.9 467.7,183.0 468.3,183.0 468.9,183.0 469.5,183.0 470.1,182.9 470.7,182.9 471.3,182.9 471.9,182.9 472.5,182.8 473.1,182.8 473.7,182.7 474.4,182.6 475.0,182.6 475.6,182.5 476.2,182.4 476.8,182.3 477.4,182.2 478.0,182.0 478.6,181.9 479.2,181.7 479.8,181.6 480.4,181.4 481.0,181.2 481.6,181.0 482.3,180.8 482.9,180.6 483.5,180.3 484.1,180.1 484.7,179.8 485.3,179.5 485.9,179.2 486.5,178.9 487.1,178.6 487.7,178.3 488.3,177.9 488.9,177.5 489.5,177.2 490.2,176.8 490.8,176.4 491.4,175.9 492.0,175.5 492.6,175.0 493.2,174.6 493.8,174.1 494.4,173.6 495.0,173.1 495.6,172.5 496.2,172.0 496.8,171.5 497.4,170.9 498.1,170.3 498.7,169.7 499.3,169.1 499.9,168.5 500.5,167.9 501.1,167.3 501.7,166.6 502.3,166.0 502.9,165.3 503.5,164.7 504.1,164.0 504.7,163.4 505.3,162.7 506.0,162.0 506.6,161.3 507.2,160.7 507.8,160.0 508.4,159.3 509.0,158.7 509.6,158.0 510.2,157.4 510.8,156.7 511.4,156.1 512.0,155.4 512.6,154.8 513.2,154.2 513.9,153.6 514.5,153.1 515.1,152.5 515.7,152.0 516.3,151.5 516.9,151.0 517.5,150.6 518.1,150.1 518.7,149.7 519.3,149.4 519.9,149.0 520.5,148.7 521.2,148.5 521.8,148.3 522.4,148.1 523.0,148.0 523.6,147.9 524.2,147.9 524.8,147.9 525.4,147.9 526.0,148.1 526.6,148.3 527.2,148.5 527.8,148.8 528.4,149.2 529.1,149.7 529.7,150.2 530.3,150.8 530.9,151.4 531.5,152.2 532.1,153.0 532.7,153.9 533.3,154.9 533.9,155.9 534.5,157.1 535.1,158.4 535.7,159.7 536.3,161.2 537.0,162.7 537.6,164.4 538.2,166.1 538.8,168.0 539.4,169.9 540.0,172.0 540.6,174.2" stroke="#9288d8"/>
<polyline points="431.2,180.4 431.8,180.4 432.4,180.4 433.0,180.4 433.6,180.4 434.2,180.4 434.8,180.4 435.5,180.4 436.1,180.4 436.7,180.4 437.3,180.4 437.9,180.4 438.5,180.4 439.1,180.4 439.7,180.5 440.3,180.5 440.9,180.5 441.5,180.5 442.1,180.5 442.7,180.5 443.4,180.5 444.0,180.5 444.6,180.5 445.2,180.5 445.8,180.5 446.4,180.5 447.0,180.5 447.6,180.6 448.2,180.6 448.8,180.6 449.4,180.6 450.0,180.6 450.6,180.6 451.3,180.6 451.9,180.6 452.5,180.7 453.1,180.7 453.7,180.7 454.3,180.7 454.9,180.7 455.5,180.8 456.1,180.8 456.7,180.8 457.3,180.8 457.9,180.9 458.6,180.9 459.2,180.9 459.8,180.9 460.4,181.0 461.0,181.0 461.6,181.0 462.2,181.1 462.8,181.1 463.4,181.1 464.0,181.2 464.6,181.2 465.2,181.2 465.8,181.3 466.5,181.3 467.1,181.4 467.7,181.4 468.3,181.5 468.9,181.5 469.5,181.6 470.1,181.6 470.7,181.7 471.3,181.7 471.9,181.8 472.5,181.8 473.1,181.9 473.7,181.9 474.4,182.0 475.0,182.0 475.6,182.1 476.2,182.1 476.8,182.2 477.4,182.3 478.0,182.3 478.6,182.4 479.2,182.4 479.8,182.5 480.4,182.5 481.0,182.6 481.6,182.7 482.3,182.7 482.9,182.8 483.5,182.8 484.1,182.9 484.7,182.9 485.3,183.0 485.9,183.0 486.5,183.1 487.1,183.1 487.7,183.2 488.3,183.2 488.9,183.2 489.5,183.3 490.2,183.3 490.8,183.3 491.4,183.3 492.0,183.4 492.6,183.4 493.2,183.4 493.8,183.4 494.4,183.4 495.0,183.4 495.6,183.3 496.2,183.3 496.8,183.3 497.4,183.2 498.1,183.2 498.7,183.1 499.3,183.0 499.9,183.0 500.5,182.9 501.1,182.8 501.7,182.6 502.3,182.5 502.9,182.4 503.5,182.2 504.1,182.1 504.7,181.9 505.3,181.7 506.0,181.5 506.6,181.2 507.2,181.0 507.8,180.7 508.4,180.4 509.0,180.1 509.6,179.8 510.2,179.4 510.8,179.1 511.4,178.7 512.0,178.3 512.6,177.8 513.2,177.4 513.9,176.9 514.5,176.4 515.1,175.8 515.7,175.2 516.3,174.6 516.9,174.0 517.5,173.3 518.1,172.7 518.7,171.9 519.3,171.2 519.9,170.4 520.5,169.5 521.2,168.7 521.8,167.8 522.4,166.8 523.0,165.9 523.6,164.8 524.2,163.8 524.8,162.7 525.4,161.5 526.0,160.4 526.6,159.1 527.2,157.9 527.8,156.5 528.4,155.2 529.1,153.7 529.7,152.3 530.3,150.8 530.9,149.2 531.5,147.6 532.1,145.9 532.7,144.2 533.3,142.4 533.9,140.6 534.5,138.7 535.1,136.8 535.7,134.8 536.3,132.7 537.0,130.6 537.6,128.4 538.2,126.2 538.8,123.9 539.4,121.5 540.0,119.1 540.6,116.6" stroke="#383e9c"/>
</g>
<rect x="431.20" y="107.55" width="109.40" height="79.50" fill="none" stroke="#555" stroke-width="0.7"/>
<rect x="430.60" y="187.05" width="1.2" height="1.4" fill="#111"/>
<rect x="448.83" y="187.05" width="1.2" height="1.4" fill="#111"/>
<rect x="467.07" y="187.05" width="1.2" height="1.4" fill="#111"/>
<rect x="485.30" y="187.05" width="1.2" height="1.4" fill="#111"/>
<rect x="503.53" y="187.05" width="1.2" height="1.4" fill="#111"/>
<rect x="521.77" y="187.05" width="1.2" height="1.4" fill="#111"/>
<rect x="540.00" y="187.05" width="1.2" height="1.4" fill="#111"/>
<rect x="429.80" y="179.83" width="1.4" height="1.2" fill="#111"/>
<rect x="429.80" y="163.26" width="1.4" height="1.2" fill="#111"/>
<rect x="429.80" y="146.70" width="1.4" height="1.2" fill="#111"/>
<rect x="429.80" y="130.14" width="1.4" height="1.2" fill="#111"/>
<rect x="429.80" y="113.58" width="1.4" height="1.2" fill="#111"/>
<text class="tk" transform="translate(427.90,182.83) scale(1,1.1)" text-anchor="end">0.00</text>
<text class="tk" transform="translate(427.90,166.26) scale(1,1.1)" text-anchor="end">0.25</text>
<text class="tk" transform="translate(427.90,149.70) scale(1,1.1)" text-anchor="end">0.50</text>
<text class="tk" transform="translate(427.90,133.14) scale(1,1.1)" text-anchor="end">0.75</text>
<text class="tk" transform="translate(427.90,116.57) scale(1,1.1)" text-anchor="end">1.00</text>
<text class="ti" x="485.90" y="104.65" font-size="8.5" text-anchor="middle">2-order; 5-simpleces support</text>
<clipPath id="c20"><rect x="27.30" y="203.70" width="109.40" height="79.50"/></clipPath>
<line x1="27.30" y1="203.70" x2="27.30" y2="283.20" stroke="#cccccc" stroke-width="0.55" stroke-dasharray="2.1,1.5"/>
<line x1="45.53" y1="203.70" x2="45.53" y2="283.20" stroke="#cccccc" stroke-width="0.55" stroke-dasharray="2.1,1.5"/>
<line x1="63.77" y1="203.70" x2="63.77" y2="283.20" stroke="#cccccc" stroke-width="0.55" stroke-dasharray="2.1,1.5"/>
<line x1="82.00" y1="203.70" x2="82.00" y2="283.20" stroke="#cccccc" stroke-width="0.55" stroke-dasharray="2.1,1.5"/>
<line x1="100.23" y1="203.70" x2="100.23" y2="283.20" stroke="#cccccc" stroke-width="0.55" stroke-dasharray="2.1,1.5"/>
<line x1="118.47" y1="203.70" x2="118.47" y2="283.20" stroke="#cccccc" stroke-width="0.55" stroke-dasharray="2.1,1.5"/>
<line x1="136.70" y1="203.70" x2="136.70" y2="283.20" stroke="#cccccc" stroke-width="0.55" stroke-dasharray="2.1,1.5"/>
<line x1="27.30" y1="275.25" x2="136.70" y2="275.25" stroke="#cccccc" stroke-width="0.55" stroke-dasharray="2.1,1.5"/>
<line x1="27.30" y1="262.00" x2="136.70" y2="262.00" stroke="#cccccc" stroke-width="0.55" stroke-dasharray="2.1,1.5"/>
<line x1="27.30" y1="248.75" x2="136.70" y2="248.75" stroke="#cccccc" stroke-width="0.55" stroke-dasharray="2.1,1.5"/>
<line x1="27.30" y1="235.50" x2="136.70" y2="235.50" stroke="#cccccc" stroke-width="0.55" stroke-dasharray="2.1,1.5"/>
<line x1="27.30" y1="222.25" x2="136.70" y2="222.25" stroke="#cccccc" stroke-width="0.55" stroke-dasharray="2.1,1.5"/>
<line x1="27.30" y1="209.00" x2="136.70" y2="209.00" stroke="#cccccc" stroke-width="0.55" stroke-dasharray="2.1,1.5"/>
<g clip-path="url(#c20)" fill="none" stroke-width="1.15" stroke-linejoin="round">
<polyline points="27.3,209.0 27.9,212.2 28.5,215.2 29.1,218.2 29.7,221.0 30.3,223.7 30.9,226.3 31.6,228.8 32.2,231.2 32.8,233.5 33.4,235.7 34.0,237.8 34.6,239.8 35.2,241.7 35.8,243.5 36.4,245.3 37.0,246.9 37.6,248.5 38.2,249.9 38.8,251.3 39.5,252.6 40.1,253.9 40.7,255.0 41.3,256.1 41.9,257.1 42.5,258.1 43.1,259.0 43.7,259.8 44.3,260.5 44.9,261.2 45.5,261.8 46.1,262.4 46.7,262.9 47.4,263.4 48.0,263.8 48.6,264.2 49.2,264.5 49.8,264.8 50.4,265.1 51.0,265.3 51.6,265.4 52.2,265.6 52.8,265.7 53.4,265.7 54.0,265.8 54.7,265.8 55.3,265.8 55.9,265.7 56.5,265.7 57.1,265.6 57.7,265.5 58.3,265.4 58.9,265.3 59.5,265.2 60.1,265.1 60.7,265.0 61.3,264.8 61.9,264.7 62.6,264.6 63.2,264.4 63.8,264.3 64.4,264.2 65.0,264.0 65.6,263.9 66.2,263.8 66.8,263.6 67.4,263.5 68.0,263.4 68.6,263.3 69.2,263.2 69.8,263.1 70.5,263.0 71.1,263.0 71.7,262.9 72.3,262.8 72.9,262.7 73.5,262.7 74.1,262.6 74.7,262.5 75.3,262.5 75.9,262.4 76.5,262.4" stroke="#962a30"/>
<polyline points="87.5,262.0 88.1,262.0 88.7,262.0 89.3,262.0 89.9,262.0 90.5,262.0 91.1,262.0 91.7,262.0 92.3,262.0 92.9,262.0 93.5,262.0 94.2,262.0 94.8,262.0" stroke="#962a30"/>
<polyline points="27.3,262.0 27.9,256.9 28.5,252.1 29.1,247.5 29.7,243.3 30.3,239.3 30.9,235.6 31.6,232.1 32.2,228.9 32.8,225.9 33.4,223.2 34.0,220.7 34.6,218.5 35.2,216.4 35.8,214.6 36.4,213.0 37.0,211.6 37.6,210.4 38.2,209.3 38.8,208.5 39.5,207.8 40.1,207.3 40.7,207.0 41.3,206.9 41.9,206.8 42.5,207.0 43.1,207.3 43.7,207.7 44.3,208.2 44.9,208.8 45.5,209.6 46.1,210.5 46.7,211.5 47.4,212.5 48.0,213.7 48.6,214.9 49.2,216.2 49.8,217.6 50.4,219.1 51.0,220.6 51.6,222.1 52.2,223.7 52.8,225.3 53.4,227.0 54.0,228.6 54.7,230.3 55.3,232.0 55.9,233.7 56.5,235.4 57.1,237.0 57.7,238.7 58.3,240.3 58.9,241.9 59.5,243.5 60.1,245.0 60.7,246.5 61.3,247.9 61.9,249.3 62.6,250.6 63.2,251.8 63.8,253.0 64.4,254.1 65.0,255.1 65.6,256.1 66.2,257.1 66.8,257.9 67.4,258.7 68.0,259.4 68.6,260.1 69.2,260.7 69.8,261.2 70.5,261.7 71.1,262.1 71.7,262.5 72.3,262.9 72.9,263.1 73.5,263.4 74.1,263.6 74.7,263.8 75.3,263.9 75.9,264.0 76.5,264.1 77.1,264.1 77.7,264.2 78.4,264.2 79.0,264.2 79.6,264.1 80.2,264.1 80.8,264.0 81.4,264.0 82.0,263.9 82.6,263.8 83.2,263.7 83.8,263.7 84.4,263.6 85.0,263.5 85.6,263.4 86.3,263.3 86.9,263.2 87.5,263.1 88.1,263.1 88.7,263.0 89.3,262.9 89.9,262.8 90.5,262.8 91.1,262.7 91.7,262.6 92.3,262.6 92.9,262.5 93.5,262.5 94.2,262.4 94.8,262.4 95.4,262.3 96.0,262.3 96.6,262.3 97.2,262.2 97.8,262.2 98.4,262.2 99.0,262.2 99.6,262.1 100.2,262.1 100.8,262.1 101.4,262.1 102.1,262.1 102.7,262.1 103.3,262.1 103.9,262.0 104.5,262.0 105.1,262.0 105.7,262.0 106.3,262.0 106.9,262.0 107.5,262.0 108.1,262.0 108.7,262.0 109.4,262.0 110.0,262.0" stroke="#f0323f"/>
<polyline points="27.3,262.0 27.9,264.5 28.5,266.7 29.1,268.7 29.7,270.5 30.3,272.1 30.9,273.4 31.6,274.6 32.2,275.6 32.8,276.4 33.4,277.0 34.0,277.4 34.6,277.7 35.2,277.8 35.8,277.8 36.4,277.6 37.0,277.2 37.6,276.7 38.2,276.1 38.8,275.4 39.5,274.5 40.1,273.6 40.7,272.5 41.3,271.4 41.9,270.1 42.5,268.8 43.1,267.4 43.7,265.9 44.3,264.3 44.9,262.7 45.5,261.1 46.1,259.4 46.7,257.7 47.4,255.9 48.0,254.1 48.6,252.3 49.2,250.5 49.8,248.7 50.4,246.9 51.0,245.1 51.6,243.3 52.2,241.6 52.8,239.9 53.4,238.2 54.0,236.6 54.7,235.0 55.3,233.5 55.9,232.0 56.5,230.7 57.1,229.4 57.7,228.2 58.3,227.1 58.9,226.1 59.5,225.2 60.1,224.4 60.7,223.8 61.3,223.2 61.9,222.8 62.6,222.5 63.2,222.3 63.8,222.2 64.4,222.3 65.0,222.4 65.6,222.7 66.2,223.1 66.8,223.7 67.4,224.3 68.0,225.0 68.6,225.8 69.2,226.7 69.8,227.7 70.5,228.7 71.1,229.9 71.7,231.0 72.3,232.3 72.9,233.5 73.5,234.9 74.1,236.2 74.7,237.6 75.3,238.9 75.9,240.3 76.5,241.7 77.1,243.1 77.7,244.4 78.4,245.8 79.0,247.1 79.6,248.4 80.2,249.6 80.8,250.8 81.4,252.0 82.0,253.1 82.6,254.2 83.2,255.2 83.8,256.1 84.4,257.0 85.0,257.9 85.6,258.6 86.3,259.3 86.9,260.0 87.5,260.6 88.1,261.1 88.7,261.6 89.3,262.1 89.9,262.5 90.5,262.8 91.1,263.1 91.7,263.3 92.3,263.6 92.9,263.7 93.5,263.9 94.2,264.0 94.8,264.0 95.4,264.1 96.0,264.1 96.6,264.1 97.2,264.1 97.8,264.1 98.4,264.0 99.0,263.9 99.6,263.9 100.2,263.8 100.8,263.7 101.4,263.6 102.1,263.5 102.7,263.4 103.3,263.3 103.9,263.2 104.5,263.1 105.1,263.0 105.7,262.9 106.3,262.8 106.9,262.7 107.5,262.7 108.1,262.6 108.7,262.5 109.4,262.4 110.0,262.4 110.6,262.3 111.2,262.3 111.8,262.2 112.4,262.2 113.0,262.1 113.6,262.1 114.2,262.0 114.8,262.0 115.4,262.0 116.0,261.9 116.6,261.9 117.3,261.9 117.9,261.9" stroke="#f6cc14"/>
<polyline points="120.9,261.8 121.5,261.8 122.1,261.8 122.7,261.8 123.3,261.8 123.9,261.8 124.5,261.8 125.2,261.8 125.8,261.8 126.4,261.8 127.0,261.8 127.6,261.8 128.2,261.8 128.8,261.9 129.4,261.9 130.0,261.9 130.6,261.9 131.2,261.9 131.8,261.9 132.4,261.9 133.1,261.9 133.7,261.9 134.3,262.0 134.9,262.0 135.5,262.0 136.1,262.0 136.7,262.0" stroke="#f6cc14"/>
<polyline points="27.3,262.0 27.9,261.5 28.5,261.0 29.1,260.6 29.7,260.3 30.3,260.0 30.9,259.7 31.6,259.5 32.2,259.4 32.8,259.3 33.4,259.2 34.0,259.2 34.6,259.2 35.2,259.2 35.8,259.3 36.4,259.4 37.0,259.5 37.6,259.6 38.2,259.8 38.8,260.0 39.5,260.2 40.1,260.4 40.7,260.6 41.3,260.9 41.9,261.1 42.5,261.4 43.1,261.6" stroke="#78cf96"/>
<polyline points="44.9,262.4 45.5,262.6 46.1,262.8 46.7,263.0 47.4,263.2 48.0,263.4 48.6,263.6 49.2,263.7 49.8,263.8 50.4,263.9 51.0,264.0 51.6,264.0 52.2,264.0 52.8,263.9 53.4,263.8 54.0,263.7 54.7,263.5 55.3,263.2 55.9,262.9 56.5,262.6 57.1,262.2 57.7,261.7 58.3,261.2 58.9,260.6 59.5,259.9 60.1,259.2 60.7,258.4 61.3,257.6 61.9,256.7 62.6,255.7 63.2,254.7 63.8,253.6 64.4,252.5 65.0,251.3 65.6,250.0 66.2,248.8 66.8,247.4 67.4,246.1 68.0,244.7 68.6,243.4 69.2,242.0 69.8,240.6 70.5,239.2 71.1,237.8 71.7,236.4 72.3,235.1 72.9,233.8 73.5,232.5 74.1,231.3 74.7,230.1 75.3,229.0 75.9,228.0 76.5,227.0 77.1,226.1 77.7,225.4 78.4,224.7 79.0,224.1 79.6,223.6 80.2,223.2 80.8,222.9 81.4,222.7 82.0,222.7 82.6,222.7 83.2,222.9 83.8,223.2 84.4,223.6 85.0,224.1 85.6,224.7 86.3,225.4 86.9,226.1 87.5,227.0 88.1,228.0 88.7,229.0 89.3,230.1 89.9,231.3 90.5,232.5 91.1,233.8 91.7,235.1 92.3,236.4 92.9,237.8 93.5,239.2 94.2,240.6 94.8,242.0 95.4,243.4 96.0,244.7 96.6,246.1 97.2,247.4 97.8,248.8 98.4,250.0 99.0,251.3 99.6,252.5 100.2,253.6 100.8,254.7 101.4,255.7 102.1,256.7 102.7,257.6 103.3,258.4 103.9,259.2 104.5,259.9 105.1,260.6 105.7,261.2 106.3,261.7 106.9,262.2 107.5,262.6 108.1,262.9 108.7,263.2 109.4,263.5 110.0,263.7 110.6,263.8 111.2,263.9 111.8,264.0 112.4,264.0 113.0,264.0 113.6,263.9 114.2,263.8 114.8,263.7 115.4,263.6 116.0,263.4 116.6,263.2 117.3,263.0 117.9,262.8 118.5,262.6 119.1,262.4 119.7,262.1 120.3,261.9 120.9,261.6 121.5,261.4 122.1,261.1 122.7,260.9 123.3,260.6 123.9,260.4 124.5,260.2 125.2,260.0 125.8,259.8 126.4,259.6 127.0,259.5 127.6,259.4 128.2,259.3 128.8,259.2 129.4,259.2 130.0,259.2 130.6,259.2 131.2,259.3 131.8,259.4 132.4,259.5 133.1,259.7 133.7,260.0 134.3,260.3 134.9,260.6 135.5,261.0 136.1,261.5 136.7,262.0" stroke="#78cf96"/>
<polyline points="54.0,262.4 54.7,262.4 55.3,262.5 55.9,262.6 56.5,262.7 57.1,262.7 57.7,262.8 58.3,262.9 58.9,263.0 59.5,263.1 60.1,263.2 60.7,263.3 61.3,263.4 61.9,263.5 62.6,263.6 63.2,263.7 63.8,263.8 64.4,263.9 65.0,263.9 65.6,264.0 66.2,264.1 66.8,264.1 67.4,264.1 68.0,264.1 68.6,264.1 69.2,264.0 69.8,264.0 70.5,263.9 71.1,263.7 71.7,263.6 72.3,263.3 72.9,263.1 73.5,262.8 74.1,262.5 74.7,262.1 75.3,261.6 75.9,261.1 76.5,260.6 77.1,260.0 77.7,259.3 78.4,258.6 79.0,257.9 79.6,257.0 80.2,256.1 80.8,255.2 81.4,254.2 82.0,253.1 82.6,252.0 83.2,250.8 83.8,249.6 84.4,248.4 85.0,247.1 85.6,245.8 86.3,244.4 86.9,243.1 87.5,241.7 88.1,240.3 88.7,238.9 89.3,237.6 89.9,236.2 90.5,234.9 91.1,233.5 91.7,232.3 92.3,231.0 92.9,229.9 93.5,228.7 94.2,227.7 94.8,226.7 95.4,225.8 96.0,225.0 96.6,224.3 97.2,223.7 97.8,223.1 98.4,222.7 99.0,222.4 99.6,222.3 100.2,222.2 100.8,222.3 101.4,222.5 102.1,222.8 102.7,223.2 103.3,223.8 103.9,224.4 104.5,225.2 105.1,226.1 105.7,227.1 106.3,228.2 106.9,229.4 107.5,230.7 108.1,232.0 108.7,233.5 109.4,235.0 110.0,236.6 110.6,238.2 111.2,239.9 111.8,241.6 112.4,243.3 113.0,245.1 113.6,246.9 114.2,248.7 114.8,250.5 115.4,252.3 116.0,254.1 116.6,255.9 117.3,257.7 117.9,259.4 118.5,261.1 119.1,262.7 119.7,264.3 120.3,265.9 120.9,267.4 121.5,268.8 122.1,270.1 122.7,271.4 123.3,272.5 123.9,273.6 124.5,274.5 125.2,275.4 125.8,276.1 126.4,276.7 127.0,277.2 127.6,277.6 128.2,277.8 128.8,277.8 129.4,277.7 130.0,277.4 130.6,277.0 131.2,276.4 131.8,275.6 132.4,274.6 133.1,273.4 133.7,272.1 134.3,270.5 134.9,268.7 135.5,266.7 136.1,264.5 136.7,262.0" stroke="#3ec6f0"/>
<polyline points="69.2,262.4 69.8,262.4 70.5,262.5 71.1,262.5 71.7,262.6 72.3,262.6 72.9,262.7 73.5,262.8 74.1,262.8 74.7,262.9 75.3,263.0 75.9,263.1 76.5,263.1 77.1,263.2 77.7,263.3 78.4,263.4 79.0,263.5 79.6,263.6 80.2,263.7 80.8,263.7 81.4,263.8 82.0,263.9 82.6,264.0 83.2,264.0 83.8,264.1 84.4,264.1 85.0,264.2 85.6,264.2 86.3,264.2 86.9,264.1 87.5,264.1 88.1,264.0 88.7,263.9 89.3,263.8 89.9,263.6 90.5,263.4 91.1,263.1 91.7,262.9 92.3,262.5 92.9,262.1 93.5,261.7 94.2,261.2 94.8,260.7 95.4,260.1 96.0,259.4 96.6,258.7 97.2,257.9 97.8,257.1 98.4,256.1 99.0,255.1 99.6,254.1 100.2,253.0 100.8,251.8 101.4,250.6 102.1,249.3 102.7,247.9 103.3,246.5 103.9,245.0 104.5,243.5 105.1,241.9 105.7,240.3 106.3,238.7 106.9,237.0 107.5,235.4 108.1,233.7 108.7,232.0 109.4,230.3 110.0,228.6 110.6,227.0 111.2,225.3 111.8,223.7 112.4,222.1 113.0,220.6 113.6,219.1 114.2,217.6 114.8,216.2 115.4,214.9 116.0,213.7 116.6,212.5 117.3,211.5 117.9,210.5 118.5,209.6 119.1,208.8 119.7,208.2 120.3,207.7 120.9,207.3 121.5,207.0 122.1,206.8 122.7,206.9 123.3,207.0 123.9,207.3 124.5,207.8 125.2,208.5 125.8,209.3 126.4,210.4 127.0,211.6 127.6,213.0 128.2,214.6 128.8,216.4 129.4,218.5 130.0,220.7 130.6,223.2 131.2,225.9 131.8,228.9 132.4,232.1 133.1,235.6 133.7,239.3 134.3,243.3 134.9,247.5 135.5,252.1 136.1,256.9 136.7,262.0" stroke="#9288d8"/>
<polyline points="27.3,262.0 27.9,262.0 28.5,262.0 29.1,262.0 29.7,262.0 30.3,262.0 30.9,262.0 31.6,262.0 32.2,262.0 32.8,262.0 33.4,262.0 34.0,262.0 34.6,262.0 35.2,262.0 35.8,262.0 36.4,262.0 37.0,262.0 37.6,262.0 38.2,262.0 38.8,262.0 39.5,262.0 40.1,262.0 40.7,262.0 41.3,262.0 41.9,262.0 42.5,262.0 43.1,262.0 43.7,262.0 44.3,262.0 44.9,262.0 45.5,262.0 46.1,262.0 46.7,262.0 47.4,262.0 48.0,262.0 48.6,262.0 49.2,262.0 49.8,262.0 50.4,262.0 51.0,262.0 51.6,262.0 52.2,262.0 52.8,262.0 53.4,262.0 54.0,262.0 54.7,262.0 55.3,262.0 55.9,262.0 56.5,262.0 57.1,262.0 57.7,262.0 58.3,262.0 58.9,262.0 59.5,262.0 60.1,262.0 60.7,262.0 61.3,262.0 61.9,262.0 62.6,262.0 63.2,262.0 63.8,262.0 64.4,262.0 65.0,262.0 65.6,262.0 66.2,262.0 66.8,262.0 67.4,262.0 68.0,262.0 68.6,262.0 69.2,262.0 69.8,262.0 70.5,262.0 71.1,262.0 71.7,262.0 72.3,262.0 72.9,262.0 73.5,262.0 74.1,262.0 74.7,262.0 75.3,262.0 75.9,262.0 76.5,262.0 77.1,262.0 77.7,262.1 78.4,262.1 79.0,262.1 79.6,262.1 80.2,262.1 80.8,262.1 81.4,262.1 82.0,262.1 82.6,262.2 83.2,262.2 83.8,262.2 84.4,262.2 85.0,262.3 85.6,262.3 86.3,262.3 86.9,262.4 87.5,262.4 88.1,262.4 88.7,262.5 89.3,262.5 89.9,262.6 90.5,262.7 91.1,262.7 91.7,262.8 92.3,262.9 92.9,263.0 93.5,263.0 94.2,263.1 94.8,263.2 95.4,263.3 96.0,263.4 96.6,263.5 97.2,263.6 97.8,263.8 98.4,263.9 99.0,264.0 99.6,264.2 100.2,264.3 100.8,264.4 101.4,264.6 102.1,264.7 102.7,264.8 103.3,265.0 103.9,265.1 104.5,265.2 105.1,265.3 105.7,265.4 106.3,265.5 106.9,265.6 107.5,265.7 108.1,265.7 108.7,265.8 109.4,265.8 110.0,265.8 110.6,265.7 111.2,265.7 111.8,265.6 112.4,265.4 113.0,265.3 113.6,265.1 114.2,264.8 114.8,264.5 115.4,264.2 116.0,263.8 116.6,263.4 117.3,262.9 117.9,262.4 118.5,261.8 119.1,261.2 119.7,260.5 120.3,259.8 120.9,259.0 121.5,258.1 122.1,257.1 122.7,256.1 123.3,255.0 123.9,253.9 124.5,252.6 125.2,251.3 125.8,249.9 126.4,248.5 127.0,246.9 127.6,245.3 128.2,243.5 128.8,241.7 129.4,239.8 130.0,237.8 130.6,235.7 131.2,233.5 131.8,231.2 132.4,228.8 133.1,226.3 133.7,223.7 134.3,221.0 134.9,218.2 135.5,215.2 136.1,212.2 136.7,209.0" stroke="#383e9c"/>
</g>
<rect x="27.30" y="203.70" width="109.40" height="79.50" fill="none" stroke="#555" stroke-width="0.7"/>
<rect x="26.70" y="283.20" width="1.2" height="1.4" fill="#111"/>
<rect x="44.93" y="283.20" width="1.2" height="1.4" fill="#111"/>
<rect x="63.17" y="283.20" width="1.2" height="1.4" fill="#111"/>
<rect x="81.40" y="283.20" width="1.2" height="1.4" fill="#111"/>
<rect x="99.63" y="283.20" width="1.2" height="1.4" fill="#111"/>
<rect x="117.87" y="283.20" width="1.2" height="1.4" fill="#111"/>
<rect x="136.10" y="283.20" width="1.2" height="1.4" fill="#111"/>
<rect x="25.90" y="274.65" width="1.4" height="1.2" fill="#111"/>
<rect x="25.90" y="261.40" width="1.4" height="1.2" fill="#111"/>
<rect x="25.90" y="248.15" width="1.4" height="1.2" fill="#111"/>
<rect x="25.90" y="234.90" width="1.4" height="1.2" fill="#111"/>
<rect x="25.90" y="221.65" width="1.4" height="1.2" fill="#111"/>
<rect x="25.90" y="208.40" width="1.4" height="1.2" fill="#111"/>
<text class="tk" transform="translate(24.00,277.65) scale(1,1.1)" text-anchor="end">−0.25</text>
<text class="tk" transform="translate(24.00,264.40) scale(1,1.1)" text-anchor="end">0.00</text>
<text class="tk" transform="translate(24.00,251.15) scale(1,1.1)" text-anchor="end">0.25</text>
<text class="tk" transform="translate(24.00,237.90) scale(1,1.1)" text-anchor="end">0.50</text>
<text class="tk" transform="translate(24.00,224.65) scale(1,1.1)" text-anchor="end">0.75</text>
<text class="tk" transform="translate(24.00,211.40) scale(1,1.1)" text-anchor="end">1.00</text>
<text class="ti" x="82.00" y="200.80" font-size="8.5" text-anchor="middle">3-order; 3-simpleces support</text>
<text class="tk" transform="translate(27.30,290.70) scale(1,1.1)" text-anchor="middle">Node1</text>
<text class="tk" transform="translate(45.53,290.70) scale(1,1.1)" text-anchor="middle">Node2</text>
<text class="tk" transform="translate(63.77,290.70) scale(1,1.1)" text-anchor="middle">Node3</text>
<text class="tk" transform="translate(82.00,290.70) scale(1,1.1)" text-anchor="middle">Node4</text>
<text class="tk" transform="translate(100.23,290.70) scale(1,1.1)" text-anchor="middle">Node5</text>
<text class="tk" transform="translate(118.47,290.70) scale(1,1.1)" text-anchor="middle">Node6</text>
<text class="tk" transform="translate(136.70,290.70) scale(1,1.1)" text-anchor="middle">Node7</text>
<text class="tk" transform="translate(82.00,297.90) scale(1,1.1)" style="font-size:5.9px" text-anchor="middle">Position</text>
<text class="tk" transform="translate(6.90,243.45) rotate(-90)" style="font-size:5.9px" text-anchor="middle"><tspan font-style="italic">N</tspan><tspan font-size="4.13" dy="1.2">s</tspan></text>
<clipPath id="c21"><rect x="161.93" y="203.70" width="109.40" height="79.50"/></clipPath>
<line x1="161.93" y1="203.70" x2="161.93" y2="283.20" stroke="#cccccc" stroke-width="0.55" stroke-dasharray="2.1,1.5"/>
<line x1="180.16" y1="203.70" x2="180.16" y2="283.20" stroke="#cccccc" stroke-width="0.55" stroke-dasharray="2.1,1.5"/>
<line x1="198.40" y1="203.70" x2="198.40" y2="283.20" stroke="#cccccc" stroke-width="0.55" stroke-dasharray="2.1,1.5"/>
<line x1="216.63" y1="203.70" x2="216.63" y2="283.20" stroke="#cccccc" stroke-width="0.55" stroke-dasharray="2.1,1.5"/>
<line x1="234.86" y1="203.70" x2="234.86" y2="283.20" stroke="#cccccc" stroke-width="0.55" stroke-dasharray="2.1,1.5"/>
<line x1="253.10" y1="203.70" x2="253.10" y2="283.20" stroke="#cccccc" stroke-width="0.55" stroke-dasharray="2.1,1.5"/>
<line x1="271.33" y1="203.70" x2="271.33" y2="283.20" stroke="#cccccc" stroke-width="0.55" stroke-dasharray="2.1,1.5"/>
<line x1="161.93" y1="280.36" x2="271.33" y2="280.36" stroke="#cccccc" stroke-width="0.55" stroke-dasharray="2.1,1.5"/>
<line x1="161.93" y1="266.16" x2="271.33" y2="266.16" stroke="#cccccc" stroke-width="0.55" stroke-dasharray="2.1,1.5"/>
<line x1="161.93" y1="251.97" x2="271.33" y2="251.97" stroke="#cccccc" stroke-width="0.55" stroke-dasharray="2.1,1.5"/>
<line x1="161.93" y1="237.77" x2="271.33" y2="237.77" stroke="#cccccc" stroke-width="0.55" stroke-dasharray="2.1,1.5"/>
<line x1="161.93" y1="223.57" x2="271.33" y2="223.57" stroke="#cccccc" stroke-width="0.55" stroke-dasharray="2.1,1.5"/>
<line x1="161.93" y1="209.38" x2="271.33" y2="209.38" stroke="#cccccc" stroke-width="0.55" stroke-dasharray="2.1,1.5"/>
<g clip-path="url(#c21)" fill="none" stroke-width="1.15" stroke-linejoin="round">
<polyline points="161.9,209.4 162.5,212.7 163.1,215.8 163.8,218.8 164.4,221.8 165.0,224.6 165.6,227.2 166.2,229.8 166.8,232.3 167.4,234.7 168.0,236.9 168.6,239.1 169.2,241.2 169.8,243.1 170.4,245.0 171.0,246.8 171.7,248.5 172.3,250.1 172.9,251.7 173.5,253.1 174.1,254.5 174.7,255.8 175.3,257.1 175.9,258.2 176.5,259.3 177.1,260.4 177.7,261.3 178.3,262.2 178.9,263.1 179.6,263.9 180.2,264.6 180.8,265.3 181.4,265.9 182.0,266.5 182.6,267.0 183.2,267.5 183.8,268.0 184.4,268.4 185.0,268.7 185.6,269.1 186.2,269.4 186.8,269.6 187.5,269.9 188.1,270.1 188.7,270.2 189.3,270.4 189.9,270.5 190.5,270.6 191.1,270.7 191.7,270.7 192.3,270.8 192.9,270.8 193.5,270.8 194.1,270.8 194.8,270.8 195.4,270.7 196.0,270.7 196.6,270.6 197.2,270.6 197.8,270.5 198.4,270.4 199.0,270.3 199.6,270.2 200.2,270.1 200.8,270.0 201.4,269.9 202.0,269.8 202.7,269.7 203.3,269.5 203.9,269.4 204.5,269.3 205.1,269.2 205.7,269.1 206.3,269.0 206.9,268.8 207.5,268.7 208.1,268.6 208.7,268.5 209.3,268.4 209.9,268.3 210.6,268.2 211.2,268.1 211.8,268.0 212.4,267.9 213.0,267.8 213.6,267.7 214.2,267.6 214.8,267.5 215.4,267.4 216.0,267.4 216.6,267.3 217.2,267.2 217.8,267.1 218.5,267.1 219.1,267.0 219.7,266.9 220.3,266.9 220.9,266.8 221.5,266.8 222.1,266.7 222.7,266.7 223.3,266.6 223.9,266.6 224.5,266.6 225.1,266.5 225.7,266.5 226.4,266.5 227.0,266.4 227.6,266.4 228.2,266.4 228.8,266.4 229.4,266.3 230.0,266.3" stroke="#962a30"/>
<polyline points="231.8,266.3 232.4,266.2 233.0,266.2 233.6,266.2 234.3,266.2 234.9,266.2 235.5,266.2 236.1,266.2 236.7,266.2" stroke="#962a30"/>
<polyline points="161.9,266.0 162.5,261.1 163.1,256.4 163.8,252.0 164.4,247.9 165.0,244.1 165.6,240.6 166.2,237.3 166.8,234.2 167.4,231.4 168.0,228.8 168.6,226.5 169.2,224.4 169.8,222.4 170.4,220.7 171.0,219.2 171.7,217.9 172.3,216.8 172.9,215.8 173.5,215.0 174.1,214.4 174.7,213.9 175.3,213.5 175.9,213.3 176.5,213.3 177.1,213.4 177.7,213.5 178.3,213.8 178.9,214.2 179.6,214.7 180.2,215.3 180.8,216.0 181.4,216.8 182.0,217.6 182.6,218.5 183.2,219.5 183.8,220.5 184.4,221.6 185.0,222.7 185.6,223.9 186.2,225.1 186.8,226.3 187.5,227.5 188.1,228.8 188.7,230.1 189.3,231.4 189.9,232.7 190.5,234.0 191.1,235.3 191.7,236.7 192.3,238.0 192.9,239.3 193.5,240.5 194.1,241.8 194.8,243.1 195.4,244.3 196.0,245.5 196.6,246.7 197.2,247.8 197.8,248.9 198.4,250.0 199.0,251.1 199.6,252.1 200.2,253.1 200.8,254.1 201.4,255.0 202.0,255.9 202.7,256.8 203.3,257.6 203.9,258.4 204.5,259.1 205.1,259.9 205.7,260.5 206.3,261.2 206.9,261.8 207.5,262.4 208.1,262.9 208.7,263.4 209.3,263.9 209.9,264.3 210.6,264.7 211.2,265.1 211.8,265.4 212.4,265.8 213.0,266.1 213.6,266.3 214.2,266.6 214.8,266.8 215.4,267.0 216.0,267.2 216.6,267.3 217.2,267.4 217.8,267.6 218.5,267.6 219.1,267.7 219.7,267.8 220.3,267.8 220.9,267.9 221.5,267.9 222.1,267.9 222.7,267.9 223.3,267.9 223.9,267.9 224.5,267.8 225.1,267.8 225.7,267.8 226.4,267.7 227.0,267.7 227.6,267.6 228.2,267.5 228.8,267.5 229.4,267.4 230.0,267.3 230.6,267.3 231.2,267.2 231.8,267.1 232.4,267.1 233.0,267.0 233.6,266.9 234.3,266.9 234.9,266.8 235.5,266.7 236.1,266.7 236.7,266.6 237.3,266.6 237.9,266.5 238.5,266.4 239.1,266.4 239.7,266.3 240.3,266.3 240.9,266.3 241.5,266.2 242.2,266.2 242.8,266.2 243.4,266.1 244.0,266.1 244.6,266.1 245.2,266.0 245.8,266.0 246.4,266.0 247.0,266.0 247.6,266.0 248.2,266.0" stroke="#f0323f"/>
<polyline points="252.5,265.9 253.1,265.9 253.7,265.9 254.3,265.9 254.9,265.9 255.5,265.9 256.1,265.9 256.7,266.0 257.4,266.0 258.0,266.0 258.6,266.0 259.2,266.0 259.8,266.0 260.4,266.0 261.0,266.0 261.6,266.0 262.2,266.0 262.8,266.0 263.4,266.0 264.0,266.1 264.6,266.1 265.3,266.1 265.9,266.1 266.5,266.1" stroke="#f0323f"/>
<polyline points="161.9,266.4 162.5,268.3 163.1,269.9 163.8,271.4 164.4,272.6 165.0,273.6 165.6,274.5 166.2,275.2 166.8,275.6 167.4,276.0 168.0,276.1 168.6,276.1 169.2,276.0 169.8,275.8 170.4,275.4 171.0,274.9 171.7,274.2 172.3,273.5 172.9,272.7 173.5,271.8 174.1,270.8 174.7,269.7 175.3,268.6 175.9,267.4 176.5,266.1 177.1,264.9 177.7,263.5 178.3,262.2 178.9,260.8 179.6,259.4 180.2,258.0 180.8,256.5 181.4,255.1 182.0,253.7 182.6,252.3 183.2,250.9 183.8,249.5 184.4,248.2 185.0,246.8 185.6,245.6 186.2,244.3 186.8,243.1 187.5,242.0 188.1,240.9 188.7,239.8 189.3,238.8 189.9,237.9 190.5,237.0 191.1,236.2 191.7,235.4 192.3,234.7 192.9,234.1 193.5,233.6 194.1,233.1 194.8,232.7 195.4,232.3 196.0,232.1 196.6,231.9 197.2,231.7 197.8,231.7 198.4,231.7 199.0,231.7 199.6,231.8 200.2,232.0 200.8,232.3 201.4,232.6 202.0,233.0 202.7,233.4 203.3,233.8 203.9,234.4 204.5,234.9 205.1,235.5 205.7,236.2 206.3,236.9 206.9,237.6 207.5,238.4 208.1,239.1 208.7,240.0 209.3,240.8 209.9,241.6 210.6,242.5 211.2,243.4 211.8,244.3 212.4,245.2 213.0,246.1 213.6,247.0 214.2,248.0 214.8,248.9 215.4,249.8 216.0,250.7 216.6,251.6 217.2,252.5 217.8,253.3 218.5,254.2 219.1,255.0 219.7,255.8 220.3,256.6 220.9,257.4 221.5,258.2 222.1,258.9 222.7,259.6 223.3,260.3 223.9,260.9 224.5,261.5 225.1,262.1 225.7,262.7 226.4,263.2 227.0,263.7 227.6,264.2 228.2,264.6 228.8,265.0 229.4,265.4 230.0,265.7 230.6,266.0 231.2,266.3 231.8,266.6 232.4,266.8 233.0,267.0 233.6,267.2 234.3,267.4 234.9,267.5 235.5,267.6 236.1,267.7 236.7,267.7 237.3,267.8 237.9,267.8 238.5,267.8 239.1,267.8 239.7,267.8 240.3,267.8 240.9,267.7 241.5,267.7 242.2,267.6 242.8,267.5 243.4,267.4 244.0,267.3 244.6,267.2 245.2,267.1 245.8,267.0 246.4,266.9 247.0,266.8 247.6,266.7 248.2,266.5 248.8,266.4 249.4,266.3 250.1,266.2 250.7,266.1 251.3,266.0 251.9,265.9 252.5,265.8 253.1,265.7 253.7,265.6 254.3,265.5 254.9,265.5 255.5,265.4 256.1,265.3 256.7,265.3 257.4,265.2 258.0,265.2 258.6,265.2 259.2,265.1 259.8,265.1 260.4,265.1 261.0,265.1 261.6,265.1 262.2,265.1 262.8,265.2 263.4,265.2 264.0,265.2 264.6,265.3 265.3,265.3 265.9,265.4 266.5,265.4 267.1,265.5 267.7,265.6 268.3,265.7 268.9,265.8" stroke="#f6cc14"/>
<polyline points="166.8,266.5 167.4,266.7 168.0,266.9 168.6,267.2 169.2,267.4 169.8,267.6 170.4,267.9 171.0,268.2 171.7,268.4 172.3,268.7 172.9,268.9 173.5,269.2 174.1,269.4 174.7,269.6 175.3,269.9 175.9,270.0 176.5,270.2 177.1,270.4 177.7,270.5 178.3,270.6 178.9,270.6 179.6,270.7 180.2,270.7 180.8,270.7 181.4,270.6 182.0,270.5 182.6,270.4 183.2,270.2 183.8,270.0 184.4,269.7 185.0,269.4 185.6,269.1 186.2,268.7 186.8,268.3 187.5,267.8 188.1,267.3 188.7,266.8 189.3,266.2 189.9,265.6 190.5,264.9 191.1,264.2 191.7,263.5 192.3,262.8 192.9,262.0 193.5,261.2 194.1,260.3 194.8,259.4 195.4,258.5 196.0,257.6 196.6,256.7 197.2,255.7 197.8,254.8 198.4,253.8 199.0,252.8 199.6,251.8 200.2,250.8 200.8,249.9 201.4,248.9 202.0,247.9 202.7,246.9 203.3,246.0 203.9,245.1 204.5,244.2 205.1,243.3 205.7,242.4 206.3,241.6 206.9,240.8 207.5,240.0 208.1,239.3 208.7,238.6 209.3,238.0 209.9,237.4 210.6,236.8 211.2,236.3 211.8,235.8 212.4,235.4 213.0,235.0 213.6,234.7 214.2,234.5 214.8,234.3 215.4,234.1 216.0,234.1 216.6,234.0 217.2,234.1 217.8,234.1 218.5,234.3 219.1,234.5 219.7,234.7 220.3,235.0 220.9,235.4 221.5,235.8 222.1,236.3 222.7,236.8 223.3,237.4 223.9,238.0 224.5,238.6 225.1,239.3 225.7,240.0 226.4,240.8 227.0,241.6 227.6,242.4 228.2,243.3 228.8,244.2 229.4,245.1 230.0,246.0 230.6,246.9 231.2,247.9 231.8,248.9 232.4,249.9 233.0,250.8 233.6,251.8 234.3,252.8 234.9,253.8 235.5,254.8 236.1,255.7 236.7,256.7 237.3,257.6 237.9,258.5 238.5,259.4 239.1,260.3 239.7,261.2 240.3,262.0 240.9,262.8 241.5,263.5 242.2,264.2 242.8,264.9 243.4,265.6 244.0,266.2 244.6,266.8 245.2,267.3 245.8,267.8 246.4,268.3 247.0,268.7 247.6,269.1 248.2,269.4 248.8,269.7 249.4,270.0 250.1,270.2 250.7,270.4 251.3,270.5 251.9,270.6 252.5,270.7 253.1,270.7 253.7,270.7 254.3,270.6 254.9,270.6 255.5,270.5 256.1,270.4 256.7,270.2 257.4,270.0 258.0,269.9 258.6,269.6 259.2,269.4 259.8,269.2 260.4,268.9 261.0,268.7 261.6,268.4 262.2,268.2 262.8,267.9 263.4,267.6 264.0,267.4 264.6,267.2 265.3,266.9 265.9,266.7 266.5,266.5 267.1,266.3 267.7,266.2 268.3,266.1 268.9,266.0 269.5,265.9 270.1,265.9 270.7,266.0 271.3,266.0" stroke="#78cf96"/>
<polyline points="164.4,265.8 165.0,265.7 165.6,265.6 166.2,265.5 166.8,265.4 167.4,265.4 168.0,265.3 168.6,265.3 169.2,265.2 169.8,265.2 170.4,265.2 171.0,265.1 171.7,265.1 172.3,265.1 172.9,265.1 173.5,265.1 174.1,265.1 174.7,265.2 175.3,265.2 175.9,265.2 176.5,265.3 177.1,265.3 177.7,265.4 178.3,265.5 178.9,265.5 179.6,265.6 180.2,265.7 180.8,265.8" stroke="#3ec6f0"/>
<polyline points="185.0,266.5 185.6,266.7 186.2,266.8 186.8,266.9 187.5,267.0 188.1,267.1 188.7,267.2 189.3,267.3 189.9,267.4 190.5,267.5 191.1,267.6 191.7,267.7 192.3,267.7 192.9,267.8 193.5,267.8 194.1,267.8 194.8,267.8 195.4,267.8 196.0,267.8 196.6,267.7 197.2,267.7 197.8,267.6 198.4,267.5 199.0,267.4 199.6,267.2 200.2,267.0 200.8,266.8 201.4,266.6" stroke="#3ec6f0"/>
<polyline points="203.3,265.7 203.9,265.4 204.5,265.0 205.1,264.6 205.7,264.2 206.3,263.7 206.9,263.2 207.5,262.7 208.1,262.1 208.7,261.5 209.3,260.9 209.9,260.3 210.6,259.6 211.2,258.9 211.8,258.2 212.4,257.4 213.0,256.6 213.6,255.8 214.2,255.0 214.8,254.2 215.4,253.3 216.0,252.5 216.6,251.6 217.2,250.7 217.8,249.8 218.5,248.9 219.1,248.0 219.7,247.0 220.3,246.1 220.9,245.2 221.5,244.3 222.1,243.4 222.7,242.5 223.3,241.6 223.9,240.8 224.5,240.0 225.1,239.1 225.7,238.4 226.4,237.6 227.0,236.9 227.6,236.2 228.2,235.5 228.8,234.9 229.4,234.4 230.0,233.8 230.6,233.4 231.2,233.0 231.8,232.6 232.4,232.3 233.0,232.0 233.6,231.8 234.3,231.7 234.9,231.7 235.5,231.7 236.1,231.7 236.7,231.9 237.3,232.1 237.9,232.3 238.5,232.7 239.1,233.1 239.7,233.6 240.3,234.1 240.9,234.7 241.5,235.4 242.2,236.2 242.8,237.0 243.4,237.9 244.0,238.8 244.6,239.8 245.2,240.9 245.8,242.0 246.4,243.1 247.0,244.3 247.6,245.6 248.2,246.8 248.8,248.2 249.4,249.5 250.1,250.9 250.7,252.3 251.3,253.7 251.9,255.1 252.5,256.5 253.1,258.0 253.7,259.4 254.3,260.8 254.9,262.2 255.5,263.5 256.1,264.9 256.7,266.1 257.4,267.4 258.0,268.6 258.6,269.7 259.2,270.8 259.8,271.8 260.4,272.7 261.0,273.5 261.6,274.2 262.2,274.9 262.8,275.4 263.4,275.8 264.0,276.0 264.6,276.1 265.3,276.1 265.9,276.0 266.5,275.6 267.1,275.2 267.7,274.5 268.3,273.6 268.9,272.6 269.5,271.4 270.1,269.9 270.7,268.3 271.3,266.4" stroke="#3ec6f0"/>
<polyline points="196.6,266.6 197.2,266.7 197.8,266.7 198.4,266.8 199.0,266.9 199.6,266.9 200.2,267.0 200.8,267.1 201.4,267.1 202.0,267.2 202.7,267.3 203.3,267.3 203.9,267.4 204.5,267.5 205.1,267.5 205.7,267.6 206.3,267.7 206.9,267.7 207.5,267.8 208.1,267.8 208.7,267.8 209.3,267.9 209.9,267.9 210.6,267.9 211.2,267.9 211.8,267.9 212.4,267.9 213.0,267.8 213.6,267.8 214.2,267.7 214.8,267.6 215.4,267.6 216.0,267.4 216.6,267.3 217.2,267.2 217.8,267.0 218.5,266.8 219.1,266.6 219.7,266.3 220.3,266.1 220.9,265.8 221.5,265.4 222.1,265.1 222.7,264.7 223.3,264.3 223.9,263.9 224.5,263.4 225.1,262.9 225.7,262.4 226.4,261.8 227.0,261.2 227.6,260.5 228.2,259.9 228.8,259.1 229.4,258.4 230.0,257.6 230.6,256.8 231.2,255.9 231.8,255.0 232.4,254.1 233.0,253.1 233.6,252.1 234.3,251.1 234.9,250.0 235.5,248.9 236.1,247.8 236.7,246.7 237.3,245.5 237.9,244.3 238.5,243.1 239.1,241.8 239.7,240.5 240.3,239.3 240.9,238.0 241.5,236.7 242.2,235.3 242.8,234.0 243.4,232.7 244.0,231.4 244.6,230.1 245.2,228.8 245.8,227.5 246.4,226.3 247.0,225.1 247.6,223.9 248.2,222.7 248.8,221.6 249.4,220.5 250.1,219.5 250.7,218.5 251.3,217.6 251.9,216.8 252.5,216.0 253.1,215.3 253.7,214.7 254.3,214.2 254.9,213.8 255.5,213.5 256.1,213.4 256.7,213.3 257.4,213.3 258.0,213.5 258.6,213.9 259.2,214.4 259.8,215.0 260.4,215.8 261.0,216.8 261.6,217.9 262.2,219.2 262.8,220.7 263.4,222.4 264.0,224.4 264.6,226.5 265.3,228.8 265.9,231.4 266.5,234.2 267.1,237.3 267.7,240.6 268.3,244.1 268.9,247.9 269.5,252.0 270.1,256.4 270.7,261.1 271.3,266.0" stroke="#9288d8"/>
<polyline points="161.9,266.2 162.5,266.2 163.1,266.2 163.8,266.2 164.4,266.2 165.0,266.2 165.6,266.2 166.2,266.2 166.8,266.2 167.4,266.2 168.0,266.2 168.6,266.2 169.2,266.2 169.8,266.2 170.4,266.2 171.0,266.2 171.7,266.2 172.3,266.2 172.9,266.2 173.5,266.2 174.1,266.2 174.7,266.2 175.3,266.2 175.9,266.2 176.5,266.2 177.1,266.2 177.7,266.2 178.3,266.2 178.9,266.2 179.6,266.2 180.2,266.1 180.8,266.1 181.4,266.1 182.0,266.1 182.6,266.1 183.2,266.1 183.8,266.1 184.4,266.1 185.0,266.1 185.6,266.1 186.2,266.1 186.8,266.1 187.5,266.1 188.1,266.1 188.7,266.1 189.3,266.1 189.9,266.1 190.5,266.1 191.1,266.1 191.7,266.1 192.3,266.2 192.9,266.2 193.5,266.2 194.1,266.2 194.8,266.2 195.4,266.2 196.0,266.2 196.6,266.2 197.2,266.2 197.8,266.2 198.4,266.2 199.0,266.2 199.6,266.2 200.2,266.2 200.8,266.2 201.4,266.3 202.0,266.3 202.7,266.3 203.3,266.3 203.9,266.3 204.5,266.4 205.1,266.4 205.7,266.4 206.3,266.4 206.9,266.5 207.5,266.5 208.1,266.5 208.7,266.6 209.3,266.6 209.9,266.6 210.6,266.7 211.2,266.7 211.8,266.8 212.4,266.8 213.0,266.9 213.6,266.9 214.2,267.0 214.8,267.1 215.4,267.1 216.0,267.2 216.6,267.3 217.2,267.4 217.8,267.4 218.5,267.5 219.1,267.6 219.7,267.7 220.3,267.8 220.9,267.9 221.5,268.0 222.1,268.1 222.7,268.2 223.3,268.3 223.9,268.4 224.5,268.5 225.1,268.6 225.7,268.7 226.4,268.8 227.0,269.0 227.6,269.1 228.2,269.2 228.8,269.3 229.4,269.4 230.0,269.5 230.6,269.7 231.2,269.8 231.8,269.9 232.4,270.0 233.0,270.1 233.6,270.2 234.3,270.3 234.9,270.4 235.5,270.5 236.1,270.6 236.7,270.6 237.3,270.7 237.9,270.7 238.5,270.8 239.1,270.8 239.7,270.8 240.3,270.8 240.9,270.8 241.5,270.7 242.2,270.7 242.8,270.6 243.4,270.5 244.0,270.4 244.6,270.2 245.2,270.1 245.8,269.9 246.4,269.6 247.0,269.4 247.6,269.1 248.2,268.7 248.8,268.4 249.4,268.0 250.1,267.5 250.7,267.0 251.3,266.5 251.9,265.9 252.5,265.3 253.1,264.6 253.7,263.9 254.3,263.1 254.9,262.2 255.5,261.3 256.1,260.4 256.7,259.3 257.4,258.2 258.0,257.1 258.6,255.8 259.2,254.5 259.8,253.1 260.4,251.7 261.0,250.1 261.6,248.5 262.2,246.8 262.8,245.0 263.4,243.1 264.0,241.2 264.6,239.1 265.3,236.9 265.9,234.7 266.5,232.3 267.1,229.8 267.7,227.2 268.3,224.6 268.9,221.8 269.5,218.8 270.1,215.8 270.7,212.7 271.3,209.4" stroke="#383e9c"/>
</g>
<rect x="161.93" y="203.70" width="109.40" height="79.50" fill="none" stroke="#555" stroke-width="0.7"/>
<rect x="161.33" y="283.20" width="1.2" height="1.4" fill="#111"/>
<rect x="179.56" y="283.20" width="1.2" height="1.4" fill="#111"/>
<rect x="197.80" y="283.20" width="1.2" height="1.4" fill="#111"/>
<rect x="216.03" y="283.20" width="1.2" height="1.4" fill="#111"/>
<rect x="234.26" y="283.20" width="1.2" height="1.4" fill="#111"/>
<rect x="252.50" y="283.20" width="1.2" height="1.4" fill="#111"/>
<rect x="270.73" y="283.20" width="1.2" height="1.4" fill="#111"/>
<rect x="160.53" y="279.76" width="1.4" height="1.2" fill="#111"/>
<rect x="160.53" y="265.56" width="1.4" height="1.2" fill="#111"/>
<rect x="160.53" y="251.37" width="1.4" height="1.2" fill="#111"/>
<rect x="160.53" y="237.17" width="1.4" height="1.2" fill="#111"/>
<rect x="160.53" y="222.97" width="1.4" height="1.2" fill="#111"/>
<rect x="160.53" y="208.78" width="1.4" height="1.2" fill="#111"/>
<text class="tk" transform="translate(158.63,282.76) scale(1,1.1)" text-anchor="end">−0.25</text>
<text class="tk" transform="translate(158.63,268.56) scale(1,1.1)" text-anchor="end">0.00</text>
<text class="tk" transform="translate(158.63,254.37) scale(1,1.1)" text-anchor="end">0.25</text>
<text class="tk" transform="translate(158.63,240.17) scale(1,1.1)" text-anchor="end">0.50</text>
<text class="tk" transform="translate(158.63,225.97) scale(1,1.1)" text-anchor="end">0.75</text>
<text class="tk" transform="translate(158.63,211.78) scale(1,1.1)" text-anchor="end">1.00</text>
<text class="ti" x="216.63" y="200.80" font-size="8.5" text-anchor="middle">3-order; 4-simpleces support</text>
<text class="tk" transform="translate(161.93,290.70) scale(1,1.1)" text-anchor="middle">Node1</text>
<text class="tk" transform="translate(180.16,290.70) scale(1,1.1)" text-anchor="middle">Node2</text>
<text class="tk" transform="translate(198.40,290.70) scale(1,1.1)" text-anchor="middle">Node3</text>
<text class="tk" transform="translate(216.63,290.70) scale(1,1.1)" text-anchor="middle">Node4</text>
<text class="tk" transform="translate(234.86,290.70) scale(1,1.1)" text-anchor="middle">Node5</text>
<text class="tk" transform="translate(253.10,290.70) scale(1,1.1)" text-anchor="middle">Node6</text>
<text class="tk" transform="translate(271.33,290.70) scale(1,1.1)" text-anchor="middle">Node7</text>
<text class="tk" transform="translate(216.63,297.90) scale(1,1.1)" style="font-size:5.9px" text-anchor="middle">Position</text>
<clipPath id="c22"><rect x="296.56" y="203.70" width="109.40" height="79.50"/></clipPath>
<line x1="296.56" y1="203.70" x2="296.56" y2="283.20" stroke="#cccccc" stroke-width="0.55" stroke-dasharray="2.1,1.5"/>
<line x1="314.79" y1="203.70" x2="314.79" y2="283.20" stroke="#cccccc" stroke-width="0.55" stroke-dasharray="2.1,1.5"/>
<line x1="333.03" y1="203.70" x2="333.03" y2="283.20" stroke="#cccccc" stroke-width="0.55" stroke-dasharray="2.1,1.5"/>
<line x1="351.26" y1="203.70" x2="351.26" y2="283.20" stroke="#cccccc" stroke-width="0.55" stroke-dasharray="2.1,1.5"/>
<line x1="369.49" y1="203.70" x2="369.49" y2="283.20" stroke="#cccccc" stroke-width="0.55" stroke-dasharray="2.1,1.5"/>
<line x1="387.73" y1="203.70" x2="387.73" y2="283.20" stroke="#cccccc" stroke-width="0.55" stroke-dasharray="2.1,1.5"/>
<line x1="405.96" y1="203.70" x2="405.96" y2="283.20" stroke="#cccccc" stroke-width="0.55" stroke-dasharray="2.1,1.5"/>
<line x1="296.56" y1="270.97" x2="405.96" y2="270.97" stroke="#cccccc" stroke-width="0.55" stroke-dasharray="2.1,1.5"/>
<line x1="296.56" y1="255.68" x2="405.96" y2="255.68" stroke="#cccccc" stroke-width="0.55" stroke-dasharray="2.1,1.5"/>
<line x1="296.56" y1="240.39" x2="405.96" y2="240.39" stroke="#cccccc" stroke-width="0.55" stroke-dasharray="2.1,1.5"/>
<line x1="296.56" y1="225.10" x2="405.96" y2="225.10" stroke="#cccccc" stroke-width="0.55" stroke-dasharray="2.1,1.5"/>
<line x1="296.56" y1="209.82" x2="405.96" y2="209.82" stroke="#cccccc" stroke-width="0.55" stroke-dasharray="2.1,1.5"/>
<g clip-path="url(#c22)" fill="none" stroke-width="1.15" stroke-linejoin="round">
<polyline points="296.6,210.1 297.2,213.3 297.8,216.5 298.4,219.5 299.0,222.4 299.6,225.2 300.2,227.8 300.8,230.4 301.4,232.9 302.0,235.3 302.6,237.6 303.2,239.8 303.9,241.9 304.5,243.9 305.1,245.8 305.7,247.7 306.3,249.5 306.9,251.2 307.5,252.8 308.1,254.3 308.7,255.8 309.3,257.2 309.9,258.5 310.5,259.8 311.1,261.0 311.8,262.1 312.4,263.2 313.0,264.2 313.6,265.2 314.2,266.1 314.8,267.0 315.4,267.8 316.0,268.5 316.6,269.3 317.2,269.9 317.8,270.6 318.4,271.1 319.0,271.7 319.7,272.2 320.3,272.7 320.9,273.1 321.5,273.5 322.1,273.9 322.7,274.2 323.3,274.5 323.9,274.8 324.5,275.0 325.1,275.3 325.7,275.5 326.3,275.7 326.9,275.8 327.6,275.9 328.2,276.1 328.8,276.2 329.4,276.2 330.0,276.3 330.6,276.3 331.2,276.4 331.8,276.4 332.4,276.4 333.0,276.4 333.6,276.3 334.2,276.3 334.9,276.3 335.5,276.2 336.1,276.2 336.7,276.1 337.3,276.0 337.9,275.9 338.5,275.8 339.1,275.7 339.7,275.6 340.3,275.5 340.9,275.4 341.5,275.3 342.1,275.2 342.8,275.1 343.4,275.0 344.0,274.8 344.6,274.7 345.2,274.6 345.8,274.5 346.4,274.4 347.0,274.2 347.6,274.1 348.2,274.0 348.8,273.9 349.4,273.7 350.0,273.6 350.7,273.5 351.3,273.4 351.9,273.3 352.5,273.1 353.1,273.0 353.7,272.9 354.3,272.8 354.9,272.7 355.5,272.6 356.1,272.5 356.7,272.4 357.3,272.3 357.9,272.2 358.6,272.1 359.2,272.0 359.8,271.9 360.4,271.9 361.0,271.8 361.6,271.7 362.2,271.6 362.8,271.6 363.4,271.5 364.0,271.4 364.6,271.4 365.2,271.3 365.8,271.3 366.5,271.2 367.1,271.2 367.7,271.1" stroke="#962a30"/>
<polyline points="368.9,271.0 369.5,271.0 370.1,271.0 370.7,270.9 371.3,270.9 371.9,270.9 372.5,270.8 373.1,270.8 373.7,270.8 374.4,270.8 375.0,270.7" stroke="#962a30"/>
<polyline points="384.7,270.7 385.3,270.7 385.9,270.7 386.5,270.7 387.1,270.7 387.7,270.7 388.3,270.7 388.9,270.7 389.6,270.7 390.2,270.7 390.8,270.7 391.4,270.7 392.0,270.8 392.6,270.8 393.2,270.8 393.8,270.8" stroke="#962a30"/>
<polyline points="296.6,269.9 297.2,265.6 297.8,261.5 298.4,257.8 299.0,254.2 299.6,250.9 300.2,247.8 300.8,245.0 301.4,242.3 302.0,239.9 302.6,237.6 303.2,235.6 303.9,233.7 304.5,232.0 305.1,230.4 305.7,229.1 306.3,227.9 306.9,226.8 307.5,225.9 308.1,225.1 308.7,224.5 309.3,223.9 309.9,223.5 310.5,223.3 311.1,223.1 311.8,223.0 312.4,223.0 313.0,223.1 313.6,223.3 314.2,223.6 314.8,223.9 315.4,224.4 316.0,224.8 316.6,225.4 317.2,226.0 317.8,226.7 318.4,227.4 319.0,228.1 319.7,228.9 320.3,229.8 320.9,230.6 321.5,231.5 322.1,232.5 322.7,233.4 323.3,234.4 323.9,235.4 324.5,236.4 325.1,237.4 325.7,238.4 326.3,239.4 326.9,240.5 327.6,241.5 328.2,242.5 328.8,243.6 329.4,244.6 330.0,245.6 330.6,246.6 331.2,247.6 331.8,248.6 332.4,249.6 333.0,250.6 333.6,251.5 334.2,252.5 334.9,253.4 335.5,254.3 336.1,255.2 336.7,256.0 337.3,256.9 337.9,257.7 338.5,258.5 339.1,259.3 339.7,260.0 340.3,260.8 340.9,261.5 341.5,262.2 342.1,262.8 342.8,263.5 343.4,264.1 344.0,264.7 344.6,265.2 345.2,265.8 345.8,266.3 346.4,266.8 347.0,267.2 347.6,267.7 348.2,268.1 348.8,268.5 349.4,268.9 350.0,269.2 350.7,269.6 351.3,269.9 351.9,270.2 352.5,270.4 353.1,270.7 353.7,270.9 354.3,271.1 354.9,271.3 355.5,271.5 356.1,271.7 356.7,271.8 357.3,271.9 357.9,272.1 358.6,272.1 359.2,272.2 359.8,272.3 360.4,272.4 361.0,272.4 361.6,272.4 362.2,272.5 362.8,272.5 363.4,272.5 364.0,272.5 364.6,272.5 365.2,272.4 365.8,272.4 366.5,272.4 367.1,272.3 367.7,272.3 368.3,272.2 368.9,272.2 369.5,272.1 370.1,272.0 370.7,272.0 371.3,271.9 371.9,271.8 372.5,271.8 373.1,271.7 373.7,271.6 374.4,271.5 375.0,271.4 375.6,271.4 376.2,271.3 376.8,271.2 377.4,271.1 378.0,271.1 378.6,271.0 379.2,270.9 379.8,270.8 380.4,270.8 381.0,270.7 381.6,270.7 382.3,270.6 382.9,270.5 383.5,270.5 384.1,270.4 384.7,270.4 385.3,270.4 385.9,270.3 386.5,270.3 387.1,270.3 387.7,270.2 388.3,270.2 388.9,270.2 389.6,270.2 390.2,270.2 390.8,270.2 391.4,270.2 392.0,270.2 392.6,270.2 393.2,270.2 393.8,270.2 394.4,270.2 395.0,270.2 395.6,270.2 396.2,270.3 396.8,270.3 397.5,270.3 398.1,270.4 398.7,270.4 399.3,270.4 399.9,270.5 400.5,270.5" stroke="#f0323f"/>
<polyline points="296.6,272.4 297.2,273.0 297.8,273.6 298.4,273.9 299.0,274.2 299.6,274.3 300.2,274.3 300.8,274.1 301.4,273.9 302.0,273.6 302.6,273.1 303.2,272.6 303.9,272.0 304.5,271.3 305.1,270.6 305.7,269.8 306.3,268.9 306.9,268.0 307.5,267.1 308.1,266.1 308.7,265.1 309.3,264.1 309.9,263.0 310.5,261.9 311.1,260.8 311.8,259.7 312.4,258.6 313.0,257.5 313.6,256.4 314.2,255.3 314.8,254.2 315.4,253.1 316.0,252.0 316.6,251.0 317.2,250.0 317.8,249.0 318.4,248.1 319.0,247.1 319.7,246.2 320.3,245.4 320.9,244.6 321.5,243.8 322.1,243.0 322.7,242.3 323.3,241.7 323.9,241.1 324.5,240.5 325.1,240.0 325.7,239.5 326.3,239.1 326.9,238.7 327.6,238.3 328.2,238.0 328.8,237.8 329.4,237.6 330.0,237.4 330.6,237.3 331.2,237.3 331.8,237.3 332.4,237.3 333.0,237.4 333.6,237.5 334.2,237.6 334.9,237.8 335.5,238.1 336.1,238.4 336.7,238.7 337.3,239.0 337.9,239.4 338.5,239.8 339.1,240.3 339.7,240.8 340.3,241.3 340.9,241.8 341.5,242.4 342.1,243.0 342.8,243.6 343.4,244.2 344.0,244.9 344.6,245.5 345.2,246.2 345.8,246.9 346.4,247.7 347.0,248.4 347.6,249.1 348.2,249.9 348.8,250.6 349.4,251.4 350.0,252.2 350.7,252.9 351.3,253.7 351.9,254.5 352.5,255.2 353.1,256.0 353.7,256.8 354.3,257.5 354.9,258.3 355.5,259.0 356.1,259.7 356.7,260.5 357.3,261.2 357.9,261.9 358.6,262.5 359.2,263.2 359.8,263.9 360.4,264.5 361.0,265.1 361.6,265.7 362.2,266.3 362.8,266.8 363.4,267.4 364.0,267.9 364.6,268.4 365.2,268.9 365.8,269.3 366.5,269.8 367.1,270.2 367.7,270.6 368.3,270.9 368.9,271.3 369.5,271.6 370.1,271.9 370.7,272.2 371.3,272.4 371.9,272.7 372.5,272.9 373.1,273.1 373.7,273.3 374.4,273.4 375.0,273.5 375.6,273.6 376.2,273.7 376.8,273.8 377.4,273.9 378.0,273.9 378.6,273.9 379.2,273.9 379.8,273.9 380.4,273.9 381.0,273.9 381.6,273.8 382.3,273.7 382.9,273.7 383.5,273.6 384.1,273.5 384.7,273.4 385.3,273.3 385.9,273.1 386.5,273.0 387.1,272.9 387.7,272.8 388.3,272.6 388.9,272.5 389.6,272.3 390.2,272.2 390.8,272.1 391.4,271.9 392.0,271.8 392.6,271.6 393.2,271.5 393.8,271.4 394.4,271.3 395.0,271.1 395.6,271.0 396.2,270.9 396.8,270.8 397.5,270.8 398.1,270.7 398.7,270.6 399.3,270.6 399.9,270.5 400.5,270.5 401.1,270.5 401.7,270.5 402.3,270.5 402.9,270.6 403.5,270.6 404.1,270.7 404.7,270.7 405.4,270.8 406.0,270.9" stroke="#f6cc14"/>
<polyline points="296.6,270.3 297.2,270.9 297.8,271.4 298.4,272.0 299.0,272.5 299.6,273.1 300.2,273.6 300.8,274.1 301.4,274.5 302.0,275.0 302.6,275.4 303.2,275.8 303.9,276.2 304.5,276.5 305.1,276.8 305.7,277.1 306.3,277.3 306.9,277.5 307.5,277.7 308.1,277.8 308.7,277.9 309.3,278.0 309.9,278.0 310.5,278.0 311.1,278.0 311.8,277.9 312.4,277.8 313.0,277.6 313.6,277.4 314.2,277.2 314.8,276.9 315.4,276.6 316.0,276.2 316.6,275.8 317.2,275.4 317.8,275.0 318.4,274.5 319.0,274.0 319.7,273.4 320.3,272.8 320.9,272.2 321.5,271.6 322.1,271.0 322.7,270.3 323.3,269.6 323.9,268.8 324.5,268.1 325.1,267.3 325.7,266.6 326.3,265.8 326.9,265.0 327.6,264.1 328.2,263.3 328.8,262.5 329.4,261.7 330.0,260.8 330.6,260.0 331.2,259.1 331.8,258.3 332.4,257.4 333.0,256.6 333.6,255.8 334.2,255.0 334.9,254.2 335.5,253.4 336.1,252.6 336.7,251.8 337.3,251.1 337.9,250.3 338.5,249.6 339.1,249.0 339.7,248.3 340.3,247.7 340.9,247.1 341.5,246.5 342.1,245.9 342.8,245.4 343.4,244.9 344.0,244.4 344.6,244.0 345.2,243.6 345.8,243.3 346.4,242.9 347.0,242.7 347.6,242.4 348.2,242.2 348.8,242.0 349.4,241.9 350.0,241.8 350.7,241.7 351.3,241.7 351.9,241.7 352.5,241.8 353.1,241.9 353.7,242.0 354.3,242.2 354.9,242.4 355.5,242.7 356.1,242.9 356.7,243.3 357.3,243.6 357.9,244.0 358.6,244.4 359.2,244.9 359.8,245.4 360.4,245.9 361.0,246.5 361.6,247.1 362.2,247.7 362.8,248.3 363.4,249.0 364.0,249.6 364.6,250.3 365.2,251.1 365.8,251.8 366.5,252.6 367.1,253.4 367.7,254.2 368.3,255.0 368.9,255.8 369.5,256.6 370.1,257.4 370.7,258.3 371.3,259.1 371.9,260.0 372.5,260.8 373.1,261.7 373.7,262.5 374.4,263.3 375.0,264.1 375.6,265.0 376.2,265.8 376.8,266.6 377.4,267.3 378.0,268.1 378.6,268.8 379.2,269.6 379.8,270.3 380.4,271.0 381.0,271.6 381.6,272.2 382.3,272.8 382.9,273.4 383.5,274.0 384.1,274.5 384.7,275.0 385.3,275.4 385.9,275.8 386.5,276.2 387.1,276.6 387.7,276.9 388.3,277.2 388.9,277.4 389.6,277.6 390.2,277.8 390.8,277.9 391.4,278.0 392.0,278.0 392.6,278.0 393.2,278.0 393.8,277.9 394.4,277.8 395.0,277.7 395.6,277.5 396.2,277.3 396.8,277.1 397.5,276.8 398.1,276.5 398.7,276.2 399.3,275.8 399.9,275.4 400.5,275.0 401.1,274.5 401.7,274.1 402.3,273.6 402.9,273.1 403.5,272.5 404.1,272.0 404.7,271.4 405.4,270.9 406.0,270.3" stroke="#78cf96"/>
<polyline points="308.7,271.4 309.3,271.5 309.9,271.6 310.5,271.8 311.1,271.9 311.8,272.1 312.4,272.2 313.0,272.3 313.6,272.5 314.2,272.6 314.8,272.8 315.4,272.9 316.0,273.0 316.6,273.1 317.2,273.3 317.8,273.4 318.4,273.5 319.0,273.6 319.7,273.7 320.3,273.7 320.9,273.8 321.5,273.9 322.1,273.9 322.7,273.9 323.3,273.9 323.9,273.9 324.5,273.9 325.1,273.9 325.7,273.8 326.3,273.7 326.9,273.6 327.6,273.5 328.2,273.4 328.8,273.3 329.4,273.1 330.0,272.9 330.6,272.7 331.2,272.4 331.8,272.2 332.4,271.9 333.0,271.6 333.6,271.3" stroke="#3ec6f0"/>
<polyline points="334.9,270.6 335.5,270.2 336.1,269.8 336.7,269.3 337.3,268.9 337.9,268.4 338.5,267.9 339.1,267.4 339.7,266.8 340.3,266.3 340.9,265.7 341.5,265.1 342.1,264.5 342.8,263.9 343.4,263.2 344.0,262.5 344.6,261.9 345.2,261.2 345.8,260.5 346.4,259.7 347.0,259.0 347.6,258.3 348.2,257.5 348.8,256.8 349.4,256.0 350.0,255.2 350.7,254.5 351.3,253.7 351.9,252.9 352.5,252.2 353.1,251.4 353.7,250.6 354.3,249.9 354.9,249.1 355.5,248.4 356.1,247.7 356.7,246.9 357.3,246.2 357.9,245.5 358.6,244.9 359.2,244.2 359.8,243.6 360.4,243.0 361.0,242.4 361.6,241.8 362.2,241.3 362.8,240.8 363.4,240.3 364.0,239.8 364.6,239.4 365.2,239.0 365.8,238.7 366.5,238.4 367.1,238.1 367.7,237.8 368.3,237.6 368.9,237.5 369.5,237.4 370.1,237.3 370.7,237.3 371.3,237.3 371.9,237.3 372.5,237.4 373.1,237.6 373.7,237.8 374.4,238.0 375.0,238.3 375.6,238.7 376.2,239.1 376.8,239.5 377.4,240.0 378.0,240.5 378.6,241.1 379.2,241.7 379.8,242.3 380.4,243.0 381.0,243.8 381.6,244.6 382.3,245.4 382.9,246.2 383.5,247.1 384.1,248.1 384.7,249.0 385.3,250.0 385.9,251.0 386.5,252.0 387.1,253.1 387.7,254.2 388.3,255.3 388.9,256.4 389.6,257.5 390.2,258.6 390.8,259.7 391.4,260.8 392.0,261.9 392.6,263.0 393.2,264.1 393.8,265.1 394.4,266.1 395.0,267.1 395.6,268.0 396.2,268.9 396.8,269.8 397.5,270.6 398.1,271.3 398.7,272.0 399.3,272.6 399.9,273.1 400.5,273.6 401.1,273.9 401.7,274.1 402.3,274.3 402.9,274.3 403.5,274.2 404.1,273.9 404.7,273.6 405.4,273.0 406.0,272.4" stroke="#3ec6f0"/>
<polyline points="302.0,270.5 302.6,270.5 303.2,270.4 303.9,270.4 304.5,270.4 305.1,270.3 305.7,270.3 306.3,270.3 306.9,270.2 307.5,270.2 308.1,270.2 308.7,270.2 309.3,270.2 309.9,270.2 310.5,270.2 311.1,270.2 311.8,270.2 312.4,270.2 313.0,270.2 313.6,270.2 314.2,270.2 314.8,270.2 315.4,270.3 316.0,270.3 316.6,270.3 317.2,270.4 317.8,270.4 318.4,270.4 319.0,270.5" stroke="#9288d8"/>
<polyline points="327.6,271.4 328.2,271.5 328.8,271.6 329.4,271.7 330.0,271.8 330.6,271.8 331.2,271.9 331.8,272.0 332.4,272.0 333.0,272.1 333.6,272.2 334.2,272.2 334.9,272.3 335.5,272.3 336.1,272.4 336.7,272.4 337.3,272.4 337.9,272.5 338.5,272.5 339.1,272.5 339.7,272.5 340.3,272.5 340.9,272.4 341.5,272.4 342.1,272.4 342.8,272.3 343.4,272.2 344.0,272.1 344.6,272.1 345.2,271.9 345.8,271.8 346.4,271.7 347.0,271.5 347.6,271.3 348.2,271.1 348.8,270.9 349.4,270.7 350.0,270.4 350.7,270.2 351.3,269.9 351.9,269.6 352.5,269.2 353.1,268.9 353.7,268.5 354.3,268.1 354.9,267.7 355.5,267.2 356.1,266.8 356.7,266.3 357.3,265.8 357.9,265.2 358.6,264.7 359.2,264.1 359.8,263.5 360.4,262.8 361.0,262.2 361.6,261.5 362.2,260.8 362.8,260.0 363.4,259.3 364.0,258.5 364.6,257.7 365.2,256.9 365.8,256.0 366.5,255.2 367.1,254.3 367.7,253.4 368.3,252.5 368.9,251.5 369.5,250.6 370.1,249.6 370.7,248.6 371.3,247.6 371.9,246.6 372.5,245.6 373.1,244.6 373.7,243.6 374.4,242.5 375.0,241.5 375.6,240.5 376.2,239.4 376.8,238.4 377.4,237.4 378.0,236.4 378.6,235.4 379.2,234.4 379.8,233.4 380.4,232.5 381.0,231.5 381.6,230.6 382.3,229.8 382.9,228.9 383.5,228.1 384.1,227.4 384.7,226.7 385.3,226.0 385.9,225.4 386.5,224.8 387.1,224.4 387.7,223.9 388.3,223.6 388.9,223.3 389.6,223.1 390.2,223.0 390.8,223.0 391.4,223.1 392.0,223.3 392.6,223.5 393.2,223.9 393.8,224.5 394.4,225.1 395.0,225.9 395.6,226.8 396.2,227.9 396.8,229.1 397.5,230.4 398.1,232.0 398.7,233.7 399.3,235.6 399.9,237.6 400.5,239.9 401.1,242.3 401.7,245.0 402.3,247.8 402.9,250.9 403.5,254.2 404.1,257.8 404.7,261.5 405.4,265.6 406.0,269.9" stroke="#9288d8"/>
<polyline points="296.6,271.0 297.2,271.0 297.8,271.0 298.4,271.0 299.0,270.9 299.6,270.9 300.2,270.9 300.8,270.9 301.4,270.9 302.0,270.9 302.6,270.9 303.2,270.9 303.9,270.9 304.5,270.9 305.1,270.8 305.7,270.8 306.3,270.8 306.9,270.8 307.5,270.8 308.1,270.8 308.7,270.8 309.3,270.8 309.9,270.8 310.5,270.8 311.1,270.7 311.8,270.7 312.4,270.7 313.0,270.7 313.6,270.7 314.2,270.7 314.8,270.7 315.4,270.7 316.0,270.7 316.6,270.7 317.2,270.7 317.8,270.7 318.4,270.7 319.0,270.7 319.7,270.6 320.3,270.6 320.9,270.6 321.5,270.7 322.1,270.7 322.7,270.7 323.3,270.7 323.9,270.7 324.5,270.7 325.1,270.7 325.7,270.7 326.3,270.7 326.9,270.7 327.6,270.7 328.2,270.8 328.8,270.8 329.4,270.8 330.0,270.8 330.6,270.9 331.2,270.9 331.8,270.9 332.4,271.0 333.0,271.0 333.6,271.0 334.2,271.1 334.9,271.1 335.5,271.2 336.1,271.2 336.7,271.3 337.3,271.3 337.9,271.4 338.5,271.4 339.1,271.5 339.7,271.6 340.3,271.6 340.9,271.7 341.5,271.8 342.1,271.9 342.8,271.9 343.4,272.0 344.0,272.1 344.6,272.2 345.2,272.3 345.8,272.4 346.4,272.5 347.0,272.6 347.6,272.7 348.2,272.8 348.8,272.9 349.4,273.0 350.0,273.1 350.7,273.3 351.3,273.4 351.9,273.5 352.5,273.6 353.1,273.7 353.7,273.9 354.3,274.0 354.9,274.1 355.5,274.2 356.1,274.4 356.7,274.5 357.3,274.6 357.9,274.7 358.6,274.8 359.2,275.0 359.8,275.1 360.4,275.2 361.0,275.3 361.6,275.4 362.2,275.5 362.8,275.6 363.4,275.7 364.0,275.8 364.6,275.9 365.2,276.0 365.8,276.1 366.5,276.2 367.1,276.2 367.7,276.3 368.3,276.3 368.9,276.3 369.5,276.4 370.1,276.4 370.7,276.4 371.3,276.4 371.9,276.3 372.5,276.3 373.1,276.2 373.7,276.2 374.4,276.1 375.0,275.9 375.6,275.8 376.2,275.7 376.8,275.5 377.4,275.3 378.0,275.0 378.6,274.8 379.2,274.5 379.8,274.2 380.4,273.9 381.0,273.5 381.6,273.1 382.3,272.7 382.9,272.2 383.5,271.7 384.1,271.1 384.7,270.6 385.3,269.9 385.9,269.3 386.5,268.5 387.1,267.8 387.7,267.0 388.3,266.1 388.9,265.2 389.6,264.2 390.2,263.2 390.8,262.1 391.4,261.0 392.0,259.8 392.6,258.5 393.2,257.2 393.8,255.8 394.4,254.3 395.0,252.8 395.6,251.2 396.2,249.5 396.8,247.7 397.5,245.8 398.1,243.9 398.7,241.9 399.3,239.8 399.9,237.6 400.5,235.3 401.1,232.9 401.7,230.4 402.3,227.8 402.9,225.2 403.5,222.4 404.1,219.5 404.7,216.5 405.4,213.3 406.0,210.1" stroke="#383e9c"/>
</g>
<rect x="296.56" y="203.70" width="109.40" height="79.50" fill="none" stroke="#555" stroke-width="0.7"/>
<rect x="295.96" y="283.20" width="1.2" height="1.4" fill="#111"/>
<rect x="314.19" y="283.20" width="1.2" height="1.4" fill="#111"/>
<rect x="332.43" y="283.20" width="1.2" height="1.4" fill="#111"/>
<rect x="350.66" y="283.20" width="1.2" height="1.4" fill="#111"/>
<rect x="368.89" y="283.20" width="1.2" height="1.4" fill="#111"/>
<rect x="387.13" y="283.20" width="1.2" height="1.4" fill="#111"/>
<rect x="405.36" y="283.20" width="1.2" height="1.4" fill="#111"/>
<rect x="295.16" y="270.37" width="1.4" height="1.2" fill="#111"/>
<rect x="295.16" y="255.08" width="1.4" height="1.2" fill="#111"/>
<rect x="295.16" y="239.79" width="1.4" height="1.2" fill="#111"/>
<rect x="295.16" y="224.50" width="1.4" height="1.2" fill="#111"/>
<rect x="295.16" y="209.22" width="1.4" height="1.2" fill="#111"/>
<text class="tk" transform="translate(293.26,273.37) scale(1,1.1)" text-anchor="end">0.00</text>
<text class="tk" transform="translate(293.26,258.08) scale(1,1.1)" text-anchor="end">0.25</text>
<text class="tk" transform="translate(293.26,242.79) scale(1,1.1)" text-anchor="end">0.50</text>
<text class="tk" transform="translate(293.26,227.50) scale(1,1.1)" text-anchor="end">0.75</text>
<text class="tk" transform="translate(293.26,212.22) scale(1,1.1)" text-anchor="end">1.00</text>
<text class="ti" x="351.26" y="200.80" font-size="8.5" text-anchor="middle">3-order; 5-simpleces support</text>
<text class="tk" transform="translate(296.56,290.70) scale(1,1.1)" text-anchor="middle">Node1</text>
<text class="tk" transform="translate(314.79,290.70) scale(1,1.1)" text-anchor="middle">Node2</text>
<text class="tk" transform="translate(333.03,290.70) scale(1,1.1)" text-anchor="middle">Node3</text>
<text class="tk" transform="translate(351.26,290.70) scale(1,1.1)" text-anchor="middle">Node4</text>
<text class="tk" transform="translate(369.49,290.70) scale(1,1.1)" text-anchor="middle">Node5</text>
<text class="tk" transform="translate(387.73,290.70) scale(1,1.1)" text-anchor="middle">Node6</text>
<text class="tk" transform="translate(405.96,290.70) scale(1,1.1)" text-anchor="middle">Node7</text>
<text class="tk" transform="translate(351.26,297.90) scale(1,1.1)" style="font-size:5.9px" text-anchor="middle">Position</text>
<clipPath id="c23"><rect x="431.20" y="203.70" width="109.40" height="79.50"/></clipPath>
<line x1="431.20" y1="203.70" x2="431.20" y2="283.20" stroke="#cccccc" stroke-width="0.55" stroke-dasharray="2.1,1.5"/>
<line x1="449.43" y1="203.70" x2="449.43" y2="283.20" stroke="#cccccc" stroke-width="0.55" stroke-dasharray="2.1,1.5"/>
<line x1="467.67" y1="203.70" x2="467.67" y2="283.20" stroke="#cccccc" stroke-width="0.55" stroke-dasharray="2.1,1.5"/>
<line x1="485.90" y1="203.70" x2="485.90" y2="283.20" stroke="#cccccc" stroke-width="0.55" stroke-dasharray="2.1,1.5"/>
<line x1="504.13" y1="203.70" x2="504.13" y2="283.20" stroke="#cccccc" stroke-width="0.55" stroke-dasharray="2.1,1.5"/>
<line x1="522.37" y1="203.70" x2="522.37" y2="283.20" stroke="#cccccc" stroke-width="0.55" stroke-dasharray="2.1,1.5"/>
<line x1="540.60" y1="203.70" x2="540.60" y2="283.20" stroke="#cccccc" stroke-width="0.55" stroke-dasharray="2.1,1.5"/>
<line x1="431.20" y1="270.97" x2="540.60" y2="270.97" stroke="#cccccc" stroke-width="0.55" stroke-dasharray="2.1,1.5"/>
<line x1="431.20" y1="255.68" x2="540.60" y2="255.68" stroke="#cccccc" stroke-width="0.55" stroke-dasharray="2.1,1.5"/>
<line x1="431.20" y1="240.39" x2="540.60" y2="240.39" stroke="#cccccc" stroke-width="0.55" stroke-dasharray="2.1,1.5"/>
<line x1="431.20" y1="225.10" x2="540.60" y2="225.10" stroke="#cccccc" stroke-width="0.55" stroke-dasharray="2.1,1.5"/>
<line x1="431.20" y1="209.82" x2="540.60" y2="209.82" stroke="#cccccc" stroke-width="0.55" stroke-dasharray="2.1,1.5"/>
<g clip-path="url(#c23)" fill="none" stroke-width="1.15" stroke-linejoin="round">
<polyline points="431.2,210.6 431.8,213.6 432.4,216.4 433.0,219.2 433.6,221.8 434.2,224.4 434.8,226.9 435.5,229.3 436.1,231.6 436.7,233.9 437.3,236.0 437.9,238.1 438.5,240.1 439.1,242.0 439.7,243.9 440.3,245.6 440.9,247.3 441.5,249.0 442.1,250.6 442.7,252.1 443.4,253.5 444.0,254.9 444.6,256.2 445.2,257.5 445.8,258.7 446.4,259.9 447.0,261.0 447.6,262.1 448.2,263.1 448.8,264.0 449.4,265.0 450.0,265.8 450.6,266.6 451.3,267.4 451.9,268.2 452.5,268.9 453.1,269.5 453.7,270.2 454.3,270.7 454.9,271.3 455.5,271.8 456.1,272.3 456.7,272.8 457.3,273.2 457.9,273.6 458.6,273.9 459.2,274.3 459.8,274.6 460.4,274.9 461.0,275.1 461.6,275.4 462.2,275.6 462.8,275.8 463.4,276.0 464.0,276.1 464.6,276.3 465.2,276.4 465.8,276.5 466.5,276.6 467.1,276.6 467.7,276.7 468.3,276.7 468.9,276.7 469.5,276.8 470.1,276.8 470.7,276.7 471.3,276.7 471.9,276.7 472.5,276.6 473.1,276.6 473.7,276.5 474.4,276.5 475.0,276.4 475.6,276.3 476.2,276.2 476.8,276.1 477.4,276.0 478.0,275.9 478.6,275.8 479.2,275.7 479.8,275.6 480.4,275.5 481.0,275.3 481.6,275.2 482.3,275.1 482.9,274.9 483.5,274.8 484.1,274.7 484.7,274.5 485.3,274.4 485.9,274.3 486.5,274.1 487.1,274.0 487.7,273.8 488.3,273.7 488.9,273.6 489.5,273.4 490.2,273.3 490.8,273.2 491.4,273.0 492.0,272.9 492.6,272.8 493.2,272.7 493.8,272.5 494.4,272.4 495.0,272.3 495.6,272.2 496.2,272.1 496.8,271.9 497.4,271.8 498.1,271.7 498.7,271.6 499.3,271.5 499.9,271.4 500.5,271.3 501.1,271.2 501.7,271.1 502.3,271.1 502.9,271.0 503.5,270.9 504.1,270.8 504.7,270.8 505.3,270.7 506.0,270.6 506.6,270.6 507.2,270.5 507.8,270.4 508.4,270.4 509.0,270.3 509.6,270.3 510.2,270.3 510.8,270.2 511.4,270.2 512.0,270.1 512.6,270.1 513.2,270.1 513.9,270.1 514.5,270.0 515.1,270.0 515.7,270.0 516.3,270.0 516.9,270.0 517.5,270.0 518.1,270.0 518.7,270.0 519.3,270.0 519.9,270.0 520.5,270.0 521.2,270.0 521.8,270.0 522.4,270.0 523.0,270.0 523.6,270.1 524.2,270.1 524.8,270.1 525.4,270.1 526.0,270.1 526.6,270.2 527.2,270.2 527.8,270.2 528.4,270.2 529.1,270.3 529.7,270.3 530.3,270.3 530.9,270.4 531.5,270.4 532.1,270.5 532.7,270.5 533.3,270.5 533.9,270.6 534.5,270.6 535.1,270.7 535.7,270.7 536.3,270.7" stroke="#962a30"/>
<polyline points="431.2,268.2 431.8,264.9 432.4,261.7 433.0,258.7 433.6,255.9 434.2,253.3 434.8,250.9 435.5,248.6 436.1,246.5 436.7,244.5 437.3,242.7 437.9,241.0 438.5,239.5 439.1,238.1 439.7,236.8 440.3,235.6 440.9,234.6 441.5,233.6 442.1,232.8 442.7,232.1 443.4,231.5 444.0,230.9 444.6,230.5 445.2,230.2 445.8,229.9 446.4,229.7 447.0,229.6 447.6,229.6 448.2,229.6 448.8,229.7 449.4,229.8 450.0,230.0 450.6,230.3 451.3,230.6 451.9,231.0 452.5,231.4 453.1,231.8 453.7,232.3 454.3,232.9 454.9,233.4 455.5,234.0 456.1,234.7 456.7,235.3 457.3,236.0 457.9,236.7 458.6,237.4 459.2,238.1 459.8,238.9 460.4,239.7 461.0,240.4 461.6,241.2 462.2,242.0 462.8,242.8 463.4,243.6 464.0,244.4 464.6,245.3 465.2,246.1 465.8,246.9 466.5,247.7 467.1,248.5 467.7,249.3 468.3,250.1 468.9,250.9 469.5,251.7 470.1,252.5 470.7,253.3 471.3,254.0 471.9,254.8 472.5,255.5 473.1,256.3 473.7,257.0 474.4,257.7 475.0,258.4 475.6,259.0 476.2,259.7 476.8,260.3 477.4,261.0 478.0,261.6 478.6,262.2 479.2,262.8 479.8,263.3 480.4,263.9 481.0,264.4 481.6,264.9 482.3,265.4 482.9,265.9 483.5,266.3 484.1,266.8 484.7,267.2 485.3,267.6 485.9,268.0 486.5,268.4 487.1,268.7 487.7,269.1 488.3,269.4 488.9,269.7 489.5,270.0 490.2,270.2 490.8,270.5 491.4,270.7 492.0,271.0 492.6,271.2 493.2,271.4 493.8,271.5 494.4,271.7 495.0,271.9 495.6,272.0 496.2,272.1 496.8,272.2 497.4,272.3 498.1,272.4 498.7,272.5 499.3,272.6 499.9,272.6 500.5,272.7 501.1,272.7 501.7,272.7 502.3,272.7 502.9,272.7 503.5,272.7 504.1,272.7 504.7,272.7 505.3,272.7 506.0,272.7 506.6,272.6 507.2,272.6 507.8,272.5 508.4,272.5 509.0,272.4 509.6,272.3 510.2,272.3 510.8,272.2 511.4,272.1 512.0,272.1 512.6,272.0 513.2,271.9 513.9,271.8 514.5,271.7 515.1,271.7 515.7,271.6 516.3,271.5 516.9,271.4" stroke="#f0323f"/>
<polyline points="518.1,271.2 518.7,271.2 519.3,271.1 519.9,271.0 520.5,270.9 521.2,270.9 521.8,270.8 522.4,270.7 523.0,270.7 523.6,270.6 524.2,270.5 524.8,270.5 525.4,270.5 526.0,270.4 526.6,270.4 527.2,270.3 527.8,270.3 528.4,270.3 529.1,270.3 529.7,270.3 530.3,270.3 530.9,270.3 531.5,270.3 532.1,270.3 532.7,270.3 533.3,270.3 533.9,270.3 534.5,270.4 535.1,270.4 535.7,270.5 536.3,270.5 537.0,270.6" stroke="#f0323f"/>
<polyline points="540.0,271.0 540.6,271.1" stroke="#f0323f"/>
<polyline points="431.2,274.1 431.8,273.7 432.4,273.3 433.0,272.9 433.6,272.3 434.2,271.8 434.8,271.1 435.5,270.4 436.1,269.7 436.7,269.0 437.3,268.2 437.9,267.3 438.5,266.5 439.1,265.6 439.7,264.7 440.3,263.8 440.9,262.9 441.5,262.0 442.1,261.0 442.7,260.1 443.4,259.1 444.0,258.2 444.6,257.2 445.2,256.3 445.8,255.4 446.4,254.5 447.0,253.6 447.6,252.7 448.2,251.8 448.8,251.0 449.4,250.1 450.0,249.3 450.6,248.5 451.3,247.8 451.9,247.0 452.5,246.3 453.1,245.6 453.7,245.0 454.3,244.4 454.9,243.8 455.5,243.2 456.1,242.7 456.7,242.2 457.3,241.7 457.9,241.3 458.6,240.9 459.2,240.6 459.8,240.3 460.4,240.0 461.0,239.7 461.6,239.5 462.2,239.3 462.8,239.2 463.4,239.0 464.0,239.0 464.6,238.9 465.2,238.9 465.8,238.9 466.5,239.0 467.1,239.1 467.7,239.2 468.3,239.3 468.9,239.5 469.5,239.7 470.1,239.9 470.7,240.2 471.3,240.5 471.9,240.8 472.5,241.1 473.1,241.5 473.7,241.9 474.4,242.3 475.0,242.7 475.6,243.2 476.2,243.7 476.8,244.2 477.4,244.7 478.0,245.2 478.6,245.8 479.2,246.3 479.8,246.9 480.4,247.5 481.0,248.1 481.6,248.7 482.3,249.4 482.9,250.0 483.5,250.6 484.1,251.3 484.7,252.0 485.3,252.6 485.9,253.3 486.5,254.0 487.1,254.6 487.7,255.3 488.3,256.0 488.9,256.7 489.5,257.3 490.2,258.0 490.8,258.7 491.4,259.4 492.0,260.0 492.6,260.7 493.2,261.3 493.8,262.0 494.4,262.6 495.0,263.2 495.6,263.8 496.2,264.4 496.8,265.0 497.4,265.6 498.1,266.2 498.7,266.7 499.3,267.3 499.9,267.8 500.5,268.3 501.1,268.8 501.7,269.3 502.3,269.8 502.9,270.2 503.5,270.7 504.1,271.1 504.7,271.5 505.3,271.9 506.0,272.2 506.6,272.6 507.2,272.9 507.8,273.2 508.4,273.5 509.0,273.8 509.6,274.0 510.2,274.3 510.8,274.5 511.4,274.7 512.0,274.9 512.6,275.1 513.2,275.2 513.9,275.3 514.5,275.4 515.1,275.5 515.7,275.6 516.3,275.7 516.9,275.7 517.5,275.7 518.1,275.8 518.7,275.8 519.3,275.7 519.9,275.7 520.5,275.7 521.2,275.6 521.8,275.5 522.4,275.4 523.0,275.3 523.6,275.2 524.2,275.1 524.8,275.0 525.4,274.8 526.0,274.7 526.6,274.5 527.2,274.4 527.8,274.2 528.4,274.0 529.1,273.8 529.7,273.6 530.3,273.5 530.9,273.3 531.5,273.1 532.1,272.9 532.7,272.7 533.3,272.5 533.9,272.3 534.5,272.1 535.1,271.9 535.7,271.7 536.3,271.5 537.0,271.4 537.6,271.2 538.2,271.0 538.8,270.9 539.4,270.7 540.0,270.6 540.6,270.5" stroke="#f6cc14"/>
<polyline points="431.2,270.2 431.8,270.9 432.4,271.6 433.0,272.3 433.6,272.9 434.2,273.4 434.8,274.0 435.5,274.5 436.1,274.9 436.7,275.3 437.3,275.7 437.9,276.0 438.5,276.2 439.1,276.5 439.7,276.7 440.3,276.8 440.9,276.9 441.5,277.0 442.1,277.0 442.7,277.0 443.4,277.0 444.0,276.9 444.6,276.7 445.2,276.6 445.8,276.4 446.4,276.2 447.0,275.9 447.6,275.6 448.2,275.3 448.8,274.9 449.4,274.5 450.0,274.1 450.6,273.7 451.3,273.2 451.9,272.8 452.5,272.2 453.1,271.7 453.7,271.2 454.3,270.6 454.9,270.0 455.5,269.4 456.1,268.8 456.7,268.1 457.3,267.5 457.9,266.8 458.6,266.2 459.2,265.5 459.8,264.8 460.4,264.1 461.0,263.4 461.6,262.7 462.2,262.0 462.8,261.3 463.4,260.6 464.0,259.9 464.6,259.2 465.2,258.5 465.8,257.9 466.5,257.2 467.1,256.5 467.7,255.8 468.3,255.2 468.9,254.5 469.5,253.9 470.1,253.3 470.7,252.7 471.3,252.1 471.9,251.5 472.5,251.0 473.1,250.4 473.7,249.9 474.4,249.4 475.0,248.9 475.6,248.5 476.2,248.0 476.8,247.6 477.4,247.2 478.0,246.9 478.6,246.5 479.2,246.2 479.8,245.9 480.4,245.7 481.0,245.4 481.6,245.2 482.3,245.1 482.9,244.9 483.5,244.8 484.1,244.7 484.7,244.6 485.3,244.6 485.9,244.5 486.5,244.6 487.1,244.6 487.7,244.7 488.3,244.8 488.9,244.9 489.5,245.1 490.2,245.2 490.8,245.4 491.4,245.7 492.0,245.9 492.6,246.2 493.2,246.5 493.8,246.9 494.4,247.2 495.0,247.6 495.6,248.0 496.2,248.5 496.8,248.9 497.4,249.4 498.1,249.9 498.7,250.4 499.3,251.0 499.9,251.5 500.5,252.1 501.1,252.7 501.7,253.3 502.3,253.9 502.9,254.5 503.5,255.2 504.1,255.8 504.7,256.5 505.3,257.2 506.0,257.9 506.6,258.5 507.2,259.2 507.8,259.9 508.4,260.6 509.0,261.3 509.6,262.0 510.2,262.7 510.8,263.4 511.4,264.1 512.0,264.8 512.6,265.5 513.2,266.2 513.9,266.8 514.5,267.5 515.1,268.1 515.7,268.8 516.3,269.4 516.9,270.0 517.5,270.6 518.1,271.2 518.7,271.7 519.3,272.2 519.9,272.8 520.5,273.2 521.2,273.7 521.8,274.1 522.4,274.5 523.0,274.9 523.6,275.3 524.2,275.6 524.8,275.9 525.4,276.2 526.0,276.4 526.6,276.6 527.2,276.7 527.8,276.9 528.4,277.0 529.1,277.0 529.7,277.0 530.3,277.0 530.9,276.9 531.5,276.8 532.1,276.7 532.7,276.5 533.3,276.2 533.9,276.0 534.5,275.7 535.1,275.3 535.7,274.9 536.3,274.5 537.0,274.0 537.6,273.4 538.2,272.9 538.8,272.3 539.4,271.6 540.0,270.9 540.6,270.2" stroke="#78cf96"/>
<polyline points="431.2,270.5 431.8,270.6" stroke="#3ec6f0"/>
<polyline points="434.8,271.4 435.5,271.5 436.1,271.7 436.7,271.9 437.3,272.1 437.9,272.3 438.5,272.5 439.1,272.7 439.7,272.9 440.3,273.1 440.9,273.3 441.5,273.5 442.1,273.6 442.7,273.8 443.4,274.0 444.0,274.2 444.6,274.4 445.2,274.5 445.8,274.7 446.4,274.8 447.0,275.0 447.6,275.1 448.2,275.2 448.8,275.3 449.4,275.4 450.0,275.5 450.6,275.6 451.3,275.7 451.9,275.7 452.5,275.7 453.1,275.8 453.7,275.8 454.3,275.7 454.9,275.7 455.5,275.7 456.1,275.6 456.7,275.5 457.3,275.4 457.9,275.3 458.6,275.2 459.2,275.1 459.8,274.9 460.4,274.7 461.0,274.5 461.6,274.3 462.2,274.0 462.8,273.8 463.4,273.5 464.0,273.2 464.6,272.9 465.2,272.6 465.8,272.2 466.5,271.9 467.1,271.5 467.7,271.1 468.3,270.7 468.9,270.2 469.5,269.8 470.1,269.3 470.7,268.8 471.3,268.3 471.9,267.8 472.5,267.3 473.1,266.7 473.7,266.2 474.4,265.6 475.0,265.0 475.6,264.4 476.2,263.8 476.8,263.2 477.4,262.6 478.0,262.0 478.6,261.3 479.2,260.7 479.8,260.0 480.4,259.4 481.0,258.7 481.6,258.0 482.3,257.3 482.9,256.7 483.5,256.0 484.1,255.3 484.7,254.6 485.3,254.0 485.9,253.3 486.5,252.6 487.1,252.0 487.7,251.3 488.3,250.6 488.9,250.0 489.5,249.4 490.2,248.7 490.8,248.1 491.4,247.5 492.0,246.9 492.6,246.3 493.2,245.8 493.8,245.2 494.4,244.7 495.0,244.2 495.6,243.7 496.2,243.2 496.8,242.7 497.4,242.3 498.1,241.9 498.7,241.5 499.3,241.1 499.9,240.8 500.5,240.5 501.1,240.2 501.7,239.9 502.3,239.7 502.9,239.5 503.5,239.3 504.1,239.2 504.7,239.1 505.3,239.0 506.0,238.9 506.6,238.9 507.2,238.9 507.8,239.0 508.4,239.0 509.0,239.2 509.6,239.3 510.2,239.5 510.8,239.7 511.4,240.0 512.0,240.3 512.6,240.6 513.2,240.9 513.9,241.3 514.5,241.7 515.1,242.2 515.7,242.7 516.3,243.2 516.9,243.8 517.5,244.4 518.1,245.0 518.7,245.6 519.3,246.3 519.9,247.0 520.5,247.8 521.2,248.5 521.8,249.3 522.4,250.1 523.0,251.0 523.6,251.8 524.2,252.7 524.8,253.6 525.4,254.5 526.0,255.4 526.6,256.3 527.2,257.2 527.8,258.2 528.4,259.1 529.1,260.1 529.7,261.0 530.3,262.0 530.9,262.9 531.5,263.8 532.1,264.7 532.7,265.6 533.3,266.5 533.9,267.3 534.5,268.2 535.1,269.0 535.7,269.7 536.3,270.4 537.0,271.1 537.6,271.8 538.2,272.3 538.8,272.9 539.4,273.3 540.0,273.7 540.6,274.1" stroke="#3ec6f0"/>
<polyline points="435.5,270.5 436.1,270.5 436.7,270.4 437.3,270.4 437.9,270.3 438.5,270.3 439.1,270.3 439.7,270.3 440.3,270.3 440.9,270.3 441.5,270.3 442.1,270.3 442.7,270.3 443.4,270.3 444.0,270.3 444.6,270.3 445.2,270.4 445.8,270.4 446.4,270.5 447.0,270.5 447.6,270.5 448.2,270.6 448.8,270.7 449.4,270.7 450.0,270.8 450.6,270.9 451.3,270.9 451.9,271.0 452.5,271.1 453.1,271.2 453.7,271.2 454.3,271.3 454.9,271.4 455.5,271.5 456.1,271.6 456.7,271.7 457.3,271.7 457.9,271.8 458.6,271.9 459.2,272.0 459.8,272.1 460.4,272.1 461.0,272.2 461.6,272.3 462.2,272.3 462.8,272.4 463.4,272.5 464.0,272.5 464.6,272.6 465.2,272.6 465.8,272.7 466.5,272.7 467.1,272.7 467.7,272.7 468.3,272.7 468.9,272.7 469.5,272.7 470.1,272.7 470.7,272.7 471.3,272.7 471.9,272.6 472.5,272.6 473.1,272.5 473.7,272.4 474.4,272.3 475.0,272.2 475.6,272.1 476.2,272.0 476.8,271.9 477.4,271.7 478.0,271.5 478.6,271.4 479.2,271.2 479.8,271.0 480.4,270.7 481.0,270.5 481.6,270.2 482.3,270.0 482.9,269.7 483.5,269.4 484.1,269.1 484.7,268.7 485.3,268.4 485.9,268.0 486.5,267.6 487.1,267.2 487.7,266.8 488.3,266.3 488.9,265.9 489.5,265.4 490.2,264.9 490.8,264.4 491.4,263.9 492.0,263.3 492.6,262.8 493.2,262.2 493.8,261.6 494.4,261.0 495.0,260.3 495.6,259.7 496.2,259.0 496.8,258.4 497.4,257.7 498.1,257.0 498.7,256.3 499.3,255.5 499.9,254.8 500.5,254.0 501.1,253.3 501.7,252.5 502.3,251.7 502.9,250.9 503.5,250.1 504.1,249.3 504.7,248.5 505.3,247.7 506.0,246.9 506.6,246.1 507.2,245.3 507.8,244.4 508.4,243.6 509.0,242.8 509.6,242.0 510.2,241.2 510.8,240.4 511.4,239.7 512.0,238.9 512.6,238.1 513.2,237.4 513.9,236.7 514.5,236.0 515.1,235.3 515.7,234.7 516.3,234.0 516.9,233.4 517.5,232.9 518.1,232.3 518.7,231.8 519.3,231.4 519.9,231.0 520.5,230.6 521.2,230.3 521.8,230.0 522.4,229.8 523.0,229.7 523.6,229.6 524.2,229.6 524.8,229.6 525.4,229.7 526.0,229.9 526.6,230.2 527.2,230.5 527.8,230.9 528.4,231.5 529.1,232.1 529.7,232.8 530.3,233.6 530.9,234.6 531.5,235.6 532.1,236.8 532.7,238.1 533.3,239.5 533.9,241.0 534.5,242.7 535.1,244.5 535.7,246.5 536.3,248.6 537.0,250.9 537.6,253.3 538.2,255.9 538.8,258.7 539.4,261.7 540.0,264.9 540.6,268.2" stroke="#9288d8"/>
<polyline points="431.2,271.1 431.8,271.0 432.4,271.0 433.0,270.9 433.6,270.9 434.2,270.8 434.8,270.8 435.5,270.7 436.1,270.7 436.7,270.7 437.3,270.6 437.9,270.6 438.5,270.5 439.1,270.5 439.7,270.5 440.3,270.4 440.9,270.4 441.5,270.3 442.1,270.3 442.7,270.3 443.4,270.2 444.0,270.2 444.6,270.2 445.2,270.2 445.8,270.1 446.4,270.1 447.0,270.1 447.6,270.1 448.2,270.1 448.8,270.0 449.4,270.0 450.0,270.0 450.6,270.0 451.3,270.0 451.9,270.0 452.5,270.0 453.1,270.0 453.7,270.0 454.3,270.0 454.9,270.0 455.5,270.0 456.1,270.0 456.7,270.0 457.3,270.0 457.9,270.1 458.6,270.1 459.2,270.1 459.8,270.1 460.4,270.2 461.0,270.2 461.6,270.3 462.2,270.3 462.8,270.3 463.4,270.4 464.0,270.4 464.6,270.5 465.2,270.6 465.8,270.6 466.5,270.7 467.1,270.8 467.7,270.8 468.3,270.9 468.9,271.0 469.5,271.1 470.1,271.1 470.7,271.2 471.3,271.3 471.9,271.4 472.5,271.5 473.1,271.6 473.7,271.7 474.4,271.8 475.0,271.9 475.6,272.1 476.2,272.2 476.8,272.3 477.4,272.4 478.0,272.5 478.6,272.7 479.2,272.8 479.8,272.9 480.4,273.0 481.0,273.2 481.6,273.3 482.3,273.4 482.9,273.6 483.5,273.7 484.1,273.8 484.7,274.0 485.3,274.1 485.9,274.3 486.5,274.4 487.1,274.5 487.7,274.7 488.3,274.8 488.9,274.9 489.5,275.1 490.2,275.2 490.8,275.3 491.4,275.5 492.0,275.6 492.6,275.7 493.2,275.8 493.8,275.9 494.4,276.0 495.0,276.1 495.6,276.2 496.2,276.3 496.8,276.4 497.4,276.5 498.1,276.5 498.7,276.6 499.3,276.6 499.9,276.7 500.5,276.7 501.1,276.7 501.7,276.8 502.3,276.8 502.9,276.7 503.5,276.7 504.1,276.7 504.7,276.6 505.3,276.6 506.0,276.5 506.6,276.4 507.2,276.3 507.8,276.1 508.4,276.0 509.0,275.8 509.6,275.6 510.2,275.4 510.8,275.1 511.4,274.9 512.0,274.6 512.6,274.3 513.2,273.9 513.9,273.6 514.5,273.2 515.1,272.8 515.7,272.3 516.3,271.8 516.9,271.3 517.5,270.7 518.1,270.2 518.7,269.5 519.3,268.9 519.9,268.2 520.5,267.4 521.2,266.6 521.8,265.8 522.4,265.0 523.0,264.0 523.6,263.1 524.2,262.1 524.8,261.0 525.4,259.9 526.0,258.7 526.6,257.5 527.2,256.2 527.8,254.9 528.4,253.5 529.1,252.1 529.7,250.6 530.3,249.0 530.9,247.3 531.5,245.6 532.1,243.9 532.7,242.0 533.3,240.1 533.9,238.1 534.5,236.0 535.1,233.9 535.7,231.6 536.3,229.3 537.0,226.9 537.6,224.4 538.2,221.8 538.8,219.2 539.4,216.4 540.0,213.6 540.6,210.6" stroke="#383e9c"/>
</g>
<rect x="431.20" y="203.70" width="109.40" height="79.50" fill="none" stroke="#555" stroke-width="0.7"/>
<rect x="430.60" y="283.20" width="1.2" height="1.4" fill="#111"/>
<rect x="448.83" y="283.20" width="1.2" height="1.4" fill="#111"/>
<rect x="467.07" y="283.20" width="1.2" height="1.4" fill="#111"/>
<rect x="485.30" y="283.20" width="1.2" height="1.4" fill="#111"/>
<rect x="503.53" y="283.20" width="1.2" height="1.4" fill="#111"/>
<rect x="521.77" y="283.20" width="1.2" height="1.4" fill="#111"/>
<rect x="540.00" y="283.20" width="1.2" height="1.4" fill="#111"/>
<rect x="429.80" y="270.37" width="1.4" height="1.2" fill="#111"/>
<rect x="429.80" y="255.08" width="1.4" height="1.2" fill="#111"/>
<rect x="429.80" y="239.79" width="1.4" height="1.2" fill="#111"/>
<rect x="429.80" y="224.50" width="1.4" height="1.2" fill="#111"/>
<rect x="429.80" y="209.22" width="1.4" height="1.2" fill="#111"/>
<text class="tk" transform="translate(427.90,273.37) scale(1,1.1)" text-anchor="end">0.00</text>
<text class="tk" transform="translate(427.90,258.08) scale(1,1.1)" text-anchor="end">0.25</text>
<text class="tk" transform="translate(427.90,242.79) scale(1,1.1)" text-anchor="end">0.50</text>
<text class="tk" transform="translate(427.90,227.50) scale(1,1.1)" text-anchor="end">0.75</text>
<text class="tk" transform="translate(427.90,212.22) scale(1,1.1)" text-anchor="end">1.00</text>
<text class="ti" x="485.90" y="200.80" font-size="8.5" text-anchor="middle">3-order; 6-simpleces support</text>
<text class="tk" transform="translate(431.20,290.70) scale(1,1.1)" text-anchor="middle">Node1</text>
<text class="tk" transform="translate(449.43,290.70) scale(1,1.1)" text-anchor="middle">Node2</text>
<text class="tk" transform="translate(467.67,290.70) scale(1,1.1)" text-anchor="middle">Node3</text>
<text class="tk" transform="translate(485.90,290.70) scale(1,1.1)" text-anchor="middle">Node4</text>
<text class="tk" transform="translate(504.13,290.70) scale(1,1.1)" text-anchor="middle">Node5</text>
<text class="tk" transform="translate(522.37,290.70) scale(1,1.1)" text-anchor="middle">Node6</text>
<text class="tk" transform="translate(540.60,290.70) scale(1,1.1)" text-anchor="middle">Node7</text>
<text class="tk" transform="translate(485.90,297.90) scale(1,1.1)" style="font-size:5.9px" text-anchor="middle">Position</text>
</svg></body></html>
